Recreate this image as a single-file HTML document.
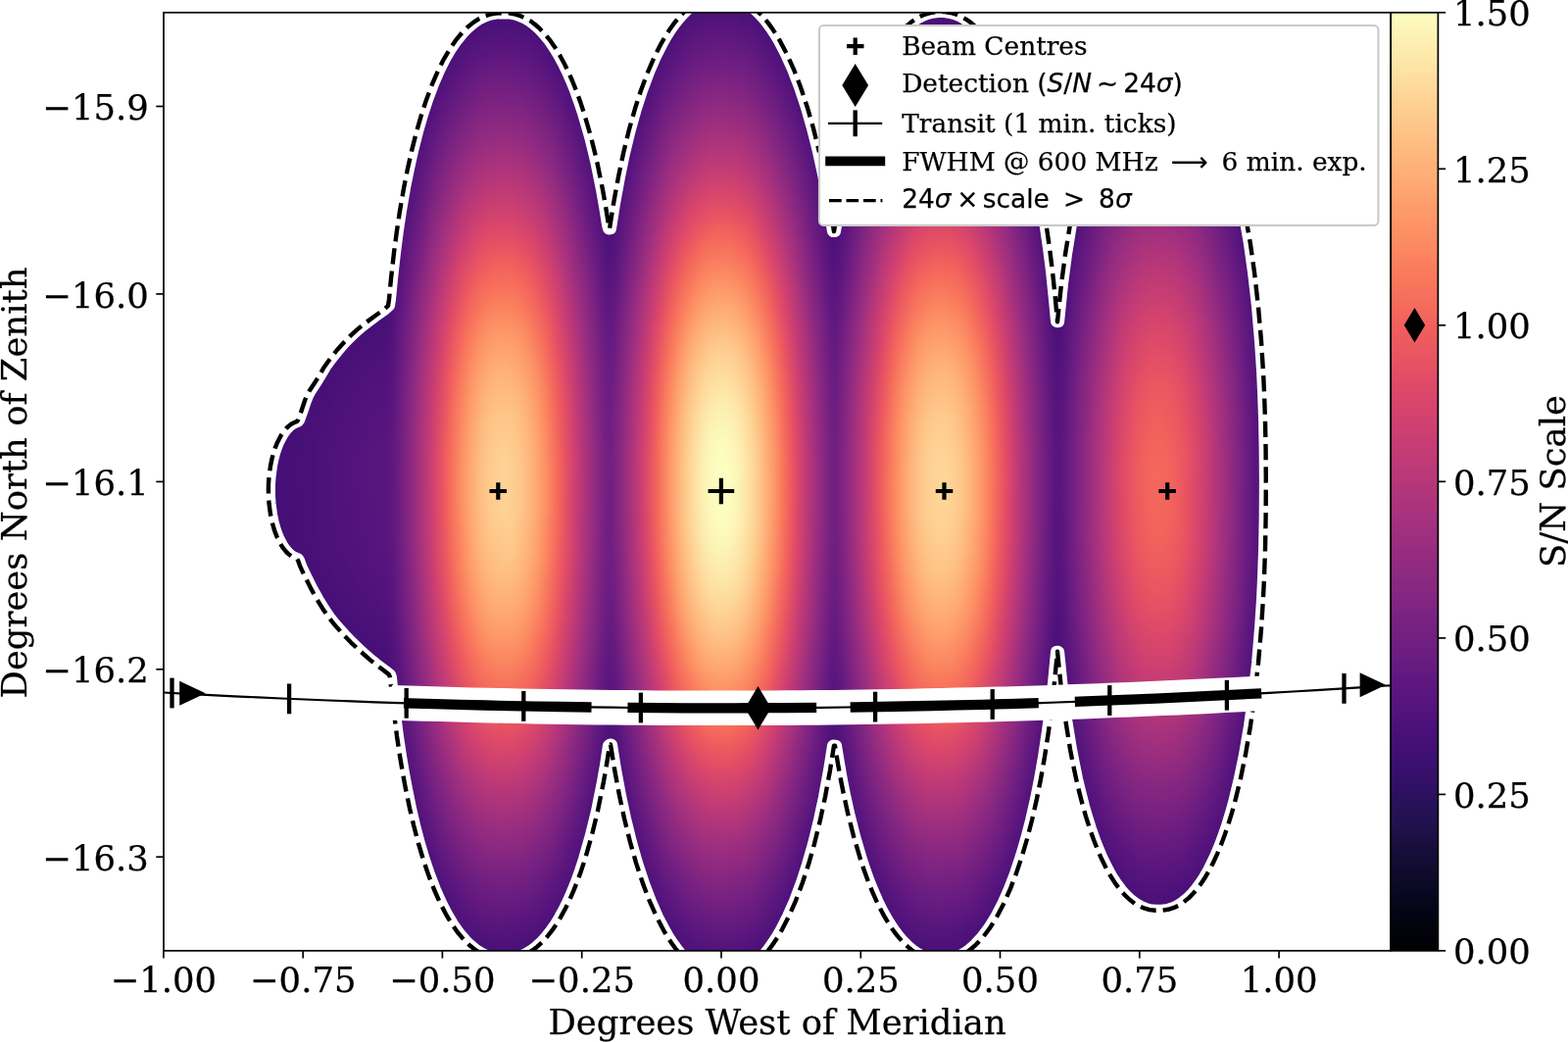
<!DOCTYPE html>
<html lang="en"><head><meta charset="utf-8"><title>Beam sensitivity map</title>
<style>html,body{margin:0;padding:0;background:#fff;overflow:hidden}svg{display:block}text{font-family:"DejaVu Serif","Liberation Serif",serif;fill:#000;stroke:#000;stroke-width:.25px}.sans{font-family:"DejaVu Sans","Liberation Sans",sans-serif}.it{font-family:"DejaVu Sans","Liberation Sans",sans-serif;font-style:italic}</style></head><body>
<svg width="1600" height="1063" viewBox="0 0 1600 1063">
<defs>
<filter id="sm" filterUnits="userSpaceOnUse" x="167.0" y="10.8" width="1252.2" height="961.1" color-interpolation-filters="sRGB"><feGaussianBlur stdDeviation="3.0 0"/></filter>
<linearGradient id="s4" gradientUnits="userSpaceOnUse" x1="0" y1="427" x2="0" y2="573"><stop offset="0" stop-color="#440f76"/><stop offset=".384" stop-color="#471078"/><stop offset="1" stop-color="#440f76"/></linearGradient>
<linearGradient id="s5" gradientUnits="userSpaceOnUse" x1="0" y1="421" x2="0" y2="579"><stop offset="0" stop-color="#440f76"/><stop offset=".291" stop-color="#471078"/><stop offset="1" stop-color="#440f76"/></linearGradient>
<linearGradient id="s6" gradientUnits="userSpaceOnUse" x1="0" y1="417" x2="0" y2="583"><stop offset="0" stop-color="#440f76"/><stop offset=".259" stop-color="#471078"/><stop offset="1" stop-color="#440f76"/></linearGradient>
<linearGradient id="s7" gradientUnits="userSpaceOnUse" x1="0" y1="407" x2="0" y2="593"><stop offset="0" stop-color="#440f76"/><stop offset=".414" stop-color="#491078"/><stop offset="1" stop-color="#440f76"/></linearGradient>
<linearGradient id="s8" gradientUnits="userSpaceOnUse" x1="0" y1="390" x2="0" y2="606"><stop offset="0" stop-color="#420f75"/><stop offset=".153" stop-color="#471078"/><stop offset=".468" stop-color="#4a1079"/><stop offset=".745" stop-color="#491078"/><stop offset="1" stop-color="#420f75"/></linearGradient>
<linearGradient id="s9" gradientUnits="userSpaceOnUse" x1="0" y1="380" x2="0" y2="617"><stop offset="0" stop-color="#420f75"/><stop offset=".304" stop-color="#4a1079"/><stop offset=".696" stop-color="#4a1079"/><stop offset="1" stop-color="#420f75"/></linearGradient>
<linearGradient id="s10" gradientUnits="userSpaceOnUse" x1="0" y1="371" x2="0" y2="628"><stop offset="0" stop-color="#420f75"/><stop offset=".342" stop-color="#4c117a"/><stop offset=".654" stop-color="#4c117a"/><stop offset="1" stop-color="#420f75"/></linearGradient>
<linearGradient id="s11" gradientUnits="userSpaceOnUse" x1="0" y1="361" x2="0" y2="637"><stop offset="0" stop-color="#420f75"/><stop offset=".37" stop-color="#4e117b"/><stop offset=".728" stop-color="#4c117a"/><stop offset="1" stop-color="#420f75"/></linearGradient>
<linearGradient id="s12" gradientUnits="userSpaceOnUse" x1="0" y1="352" x2="0" y2="645"><stop offset="0" stop-color="#420f75"/><stop offset=".181" stop-color="#4a1079"/><stop offset=".406" stop-color="#4f127b"/><stop offset=".7" stop-color="#4e117b"/><stop offset="1" stop-color="#420f75"/></linearGradient>
<linearGradient id="s13" gradientUnits="userSpaceOnUse" x1="0" y1="345" x2="0" y2="653"><stop offset="0" stop-color="#420f75"/><stop offset=".208" stop-color="#4c117a"/><stop offset=".451" stop-color="#51127c"/><stop offset=".737" stop-color="#4e117b"/><stop offset="1" stop-color="#420f75"/></linearGradient>
<linearGradient id="s14" gradientUnits="userSpaceOnUse" x1="0" y1="338" x2="0" y2="659"><stop offset="0" stop-color="#420f75"/><stop offset=".187" stop-color="#4c117a"/><stop offset=".355" stop-color="#51127c"/><stop offset=".645" stop-color="#51127c"/><stop offset=".854" stop-color="#4a1079"/><stop offset="1" stop-color="#420f75"/></linearGradient>
<linearGradient id="s15" gradientUnits="userSpaceOnUse" x1="0" y1="332" x2="0" y2="666"><stop offset="0" stop-color="#420f75"/><stop offset=".171" stop-color="#4c117a"/><stop offset=".383" stop-color="#52137c"/><stop offset=".689" stop-color="#51127c"/><stop offset="1" stop-color="#420f75"/></linearGradient>
<linearGradient id="s16" gradientUnits="userSpaceOnUse" x1="0" y1="326" x2="0" y2="672"><stop offset="0" stop-color="#420f75"/><stop offset=".197" stop-color="#4e117b"/><stop offset=".419" stop-color="#54137d"/><stop offset=".72" stop-color="#51127c"/><stop offset="1" stop-color="#420f75"/></linearGradient>
<linearGradient id="s17" gradientUnits="userSpaceOnUse" x1="0" y1="321" x2="0" y2="677"><stop offset="0" stop-color="#420f75"/><stop offset=".216" stop-color="#4f127b"/><stop offset=".475" stop-color="#56147d"/><stop offset=".744" stop-color="#51127c"/><stop offset="1" stop-color="#420f75"/></linearGradient>
<linearGradient id="s18" gradientUnits="userSpaceOnUse" x1="0" y1="316" x2="0" y2="683"><stop offset="0" stop-color="#420f75"/><stop offset=".202" stop-color="#4f127b"/><stop offset=".387" stop-color="#56147d"/><stop offset=".676" stop-color="#54137d"/><stop offset=".828" stop-color="#4e117b"/><stop offset="1" stop-color="#420f75"/></linearGradient>
<linearGradient id="s19" gradientUnits="userSpaceOnUse" x1="0" y1="311" x2="0" y2="688"><stop offset="0" stop-color="#420f75"/><stop offset=".223" stop-color="#51127c"/><stop offset=".419" stop-color="#57157e"/><stop offset=".703" stop-color="#54137d"/><stop offset="1" stop-color="#420f75"/></linearGradient>
<linearGradient id="s20" gradientUnits="userSpaceOnUse" x1="0" y1="307" x2="0" y2="692"><stop offset="0" stop-color="#420f75"/><stop offset=".242" stop-color="#52137c"/><stop offset=".47" stop-color="#59157e"/><stop offset=".725" stop-color="#54137d"/><stop offset="1" stop-color="#420f75"/></linearGradient>
<linearGradient id="s21" gradientUnits="userSpaceOnUse" x1="0" y1="303" x2="0" y2="697"><stop offset="0" stop-color="#420f75"/><stop offset=".198" stop-color="#51127c"/><stop offset=".396" stop-color="#59157e"/><stop offset=".662" stop-color="#57157e"/><stop offset=".827" stop-color="#4f127b"/><stop offset="1" stop-color="#420f75"/></linearGradient>
<linearGradient id="s22" gradientUnits="userSpaceOnUse" x1="0" y1="292" x2="0" y2="702"><stop offset="0" stop-color="#420f75"/><stop offset=".251" stop-color="#54137d"/><stop offset=".422" stop-color="#5a167e"/><stop offset=".59" stop-color="#5a167e"/><stop offset=".695" stop-color="#57157e"/><stop offset=".839" stop-color="#4f127b"/><stop offset="1" stop-color="#420f75"/></linearGradient>
<linearGradient id="s23" gradientUnits="userSpaceOnUse" x1="0" y1="236" x2="0" y2="750"><stop offset="0" stop-color="#400f74"/><stop offset=".181" stop-color="#56147d"/><stop offset=".411" stop-color="#621980"/><stop offset=".586" stop-color="#621980"/><stop offset=".735" stop-color="#5c167f"/><stop offset=".885" stop-color="#4f127b"/><stop offset="1" stop-color="#400f74"/></linearGradient>
<linearGradient id="s24" gradientUnits="userSpaceOnUse" x1="0" y1="196" x2="0" y2="791"><stop offset="0" stop-color="#400f74"/><stop offset=".092" stop-color="#51127c"/><stop offset=".234" stop-color="#641a80"/><stop offset=".366" stop-color="#6e1e81"/><stop offset=".482" stop-color="#721f81"/><stop offset=".63" stop-color="#6e1e81"/><stop offset=".734" stop-color="#671b80"/><stop offset=".896" stop-color="#52137c"/><stop offset="1" stop-color="#400f74"/></linearGradient>
<linearGradient id="s25" gradientUnits="userSpaceOnUse" x1="0" y1="163" x2="0" y2="824"><stop offset="0" stop-color="#400f74"/><stop offset=".115" stop-color="#59157e"/><stop offset=".262" stop-color="#721f81"/><stop offset=".363" stop-color="#7c2382"/><stop offset=".475" stop-color="#812581"/><stop offset=".581" stop-color="#802582"/><stop offset=".7" stop-color="#762181"/><stop offset=".885" stop-color="#59157e"/><stop offset="1" stop-color="#400f74"/></linearGradient>
<linearGradient id="s26" gradientUnits="userSpaceOnUse" x1="0" y1="136" x2="0" y2="851"><stop offset="0" stop-color="#3f0f72"/><stop offset=".077" stop-color="#54137d"/><stop offset=".25" stop-color="#7b2382"/><stop offset=".357" stop-color="#8b2981"/><stop offset=".443" stop-color="#912b81"/><stop offset=".587" stop-color="#902a81"/><stop offset=".692" stop-color="#842681"/><stop offset=".789" stop-color="#732081"/><stop offset=".898" stop-color="#5a167e"/><stop offset=".961" stop-color="#4a1079"/><stop offset="1" stop-color="#3f0f72"/></linearGradient>
<linearGradient id="s27" gradientUnits="userSpaceOnUse" x1="0" y1="114" x2="0" y2="874"><stop offset="0" stop-color="#3f0f72"/><stop offset=".041" stop-color="#4c117a"/><stop offset=".1" stop-color="#5d177f"/><stop offset=".263" stop-color="#892881"/><stop offset=".359" stop-color="#9b2e7f"/><stop offset=".451" stop-color="#a3307e"/><stop offset=".576" stop-color="#a1307e"/><stop offset=".68" stop-color="#942c80"/><stop offset=".782" stop-color="#7e2482"/><stop offset=".884" stop-color="#621980"/><stop offset=".954" stop-color="#4e117b"/><stop offset="1" stop-color="#3f0f72"/></linearGradient>
<linearGradient id="s28" gradientUnits="userSpaceOnUse" x1="0" y1="94" x2="0" y2="894"><stop offset="0" stop-color="#3f0f72"/><stop offset=".037" stop-color="#4c117a"/><stop offset=".099" stop-color="#601880"/><stop offset=".279" stop-color="#992d80"/><stop offset=".351" stop-color="#aa337d"/><stop offset=".449" stop-color="#b5367a"/><stop offset=".574" stop-color="#b3367a"/><stop offset=".672" stop-color="#a5317e"/><stop offset=".755" stop-color="#902a81"/><stop offset=".882" stop-color="#671b80"/><stop offset=".953" stop-color="#4f127b"/><stop offset="1" stop-color="#3f0f72"/></linearGradient>
<linearGradient id="s29" gradientUnits="userSpaceOnUse" x1="0" y1="77" x2="0" y2="911"><stop offset="0" stop-color="#3f0f72"/><stop offset=".048" stop-color="#51127c"/><stop offset=".119" stop-color="#6b1d81"/><stop offset=".205" stop-color="#8b2981"/><stop offset=".296" stop-color="#ab337c"/><stop offset=".398" stop-color="#c23b75"/><stop offset=".477" stop-color="#c83e73"/><stop offset=".574" stop-color="#c53c74"/><stop offset=".621" stop-color="#bf3a77"/><stop offset=".674" stop-color="#b3367a"/><stop offset=".759" stop-color="#992d80"/><stop offset=".869" stop-color="#701f81"/><stop offset=".944" stop-color="#54137d"/><stop offset="1" stop-color="#3f0f72"/></linearGradient>
<linearGradient id="s30" gradientUnits="userSpaceOnUse" x1="0" y1="63" x2="0" y2="926"><stop offset="0" stop-color="#3f0f72"/><stop offset=".06" stop-color="#57157e"/><stop offset=".131" stop-color="#752181"/><stop offset=".222" stop-color="#9b2e7f"/><stop offset=".309" stop-color="#bd3977"/><stop offset=".384" stop-color="#d0416f"/><stop offset=".462" stop-color="#d9466b"/><stop offset=".535" stop-color="#d9466b"/><stop offset=".574" stop-color="#d6456c"/><stop offset=".615" stop-color="#d0416f"/><stop offset=".669" stop-color="#c43c75"/><stop offset=".736" stop-color="#ad347c"/><stop offset=".773" stop-color="#9c2e7f"/><stop offset=".861" stop-color="#782281"/><stop offset=".943" stop-color="#56147d"/><stop offset="1" stop-color="#3f0f72"/></linearGradient>
<linearGradient id="s31" gradientUnits="userSpaceOnUse" x1="0" y1="50" x2="0" y2="939"><stop offset="0" stop-color="#3d0f71"/><stop offset=".043" stop-color="#51127c"/><stop offset=".133" stop-color="#792282"/><stop offset=".217" stop-color="#a1307e"/><stop offset=".256" stop-color="#b5367a"/><stop offset=".304" stop-color="#c83e73"/><stop offset=".369" stop-color="#dc4869"/><stop offset=".458" stop-color="#e85362"/><stop offset=".573" stop-color="#e55064"/><stop offset=".61" stop-color="#e04c67"/><stop offset=".668" stop-color="#d2426f"/><stop offset=".75" stop-color="#b2357b"/><stop offset=".855" stop-color="#7e2482"/><stop offset=".943" stop-color="#57157e"/><stop offset=".98" stop-color="#471078"/><stop offset="1" stop-color="#3d0f71"/></linearGradient>
<linearGradient id="s32" gradientUnits="userSpaceOnUse" x1="0" y1="40" x2="0" y2="950"><stop offset="0" stop-color="#3f0f72"/><stop offset=".033" stop-color="#4e117b"/><stop offset=".06" stop-color="#5a167e"/><stop offset=".151" stop-color="#862781"/><stop offset=".22" stop-color="#ab337c"/><stop offset=".271" stop-color="#c73d73"/><stop offset=".315" stop-color="#d9466b"/><stop offset=".36" stop-color="#e75263"/><stop offset=".403" stop-color="#ee5b5e"/><stop offset=".46" stop-color="#f2645c"/><stop offset=".537" stop-color="#f2645c"/><stop offset=".627" stop-color="#e95462"/><stop offset=".695" stop-color="#d5446d"/><stop offset=".754" stop-color="#ba3878"/><stop offset=".779" stop-color="#ab337c"/><stop offset=".855" stop-color="#832681"/><stop offset=".942" stop-color="#59157e"/><stop offset=".977" stop-color="#491078"/><stop offset="1" stop-color="#3d0f71"/></linearGradient>
<linearGradient id="s33" gradientUnits="userSpaceOnUse" x1="0" y1="30" x2="0" y2="959"><stop offset="0" stop-color="#3d0f71"/><stop offset=".026" stop-color="#4a1079"/><stop offset=".059" stop-color="#5a167e"/><stop offset=".152" stop-color="#8b2981"/><stop offset=".224" stop-color="#b5367a"/><stop offset=".268" stop-color="#cf4070"/><stop offset=".307" stop-color="#e04c67"/><stop offset=".371" stop-color="#f2625d"/><stop offset=".421" stop-color="#f7705c"/><stop offset=".475" stop-color="#f8765c"/><stop offset=".476" stop-color="#f9785d"/><stop offset=".523" stop-color="#f9785d"/><stop offset=".524" stop-color="#f8765c"/><stop offset=".569" stop-color="#f7725c"/><stop offset=".629" stop-color="#f2625d"/><stop offset=".682" stop-color="#e44f64"/><stop offset=".75" stop-color="#c53c74"/><stop offset=".799" stop-color="#a8327d"/><stop offset=".846" stop-color="#8c2981"/><stop offset=".942" stop-color="#5a167e"/><stop offset=".982" stop-color="#471078"/><stop offset="1" stop-color="#3d0f71"/></linearGradient>
<linearGradient id="s34" gradientUnits="userSpaceOnUse" x1="0" y1="23" x2="0" y2="967"><stop offset="0" stop-color="#3d0f71"/><stop offset=".024" stop-color="#4a1079"/><stop offset=".056" stop-color="#5a167e"/><stop offset=".147" stop-color="#8c2981"/><stop offset=".212" stop-color="#b5367a"/><stop offset=".249" stop-color="#cd4071"/><stop offset=".294" stop-color="#e44f64"/><stop offset=".349" stop-color="#f4675c"/><stop offset=".405" stop-color="#fa7d5e"/><stop offset=".445" stop-color="#fb8761"/><stop offset=".482" stop-color="#fc8a62"/><stop offset=".54" stop-color="#fc8961"/><stop offset=".541" stop-color="#fb8761"/><stop offset=".588" stop-color="#fa7f5e"/><stop offset=".647" stop-color="#f4695c"/><stop offset=".695" stop-color="#e85362"/><stop offset=".748" stop-color="#cf4070"/><stop offset=".796" stop-color="#b0357b"/><stop offset=".853" stop-color="#8c2981"/><stop offset=".944" stop-color="#5a167e"/><stop offset=".982" stop-color="#471078"/><stop offset="1" stop-color="#3d0f71"/></linearGradient>
<linearGradient id="s35" gradientUnits="userSpaceOnUse" x1="0" y1="16" x2="0" y2="971"><stop offset="0" stop-color="#3d0f71"/><stop offset=".025" stop-color="#4a1079"/><stop offset=".055" stop-color="#5a167e"/><stop offset=".086" stop-color="#6a1c81"/><stop offset=".148" stop-color="#902a81"/><stop offset=".199" stop-color="#b2357b"/><stop offset=".246" stop-color="#d0416f"/><stop offset=".288" stop-color="#e85362"/><stop offset=".336" stop-color="#f66c5c"/><stop offset=".39" stop-color="#fb8761"/><stop offset=".439" stop-color="#fd9668"/><stop offset=".482" stop-color="#fd9b6b"/><stop offset=".541" stop-color="#fd9a6a"/><stop offset=".542" stop-color="#fd9869"/><stop offset=".586" stop-color="#fc9065"/><stop offset=".618" stop-color="#fb8560"/><stop offset=".654" stop-color="#f7725c"/><stop offset=".704" stop-color="#ec5860"/><stop offset=".736" stop-color="#de4968"/><stop offset=".757" stop-color="#d0416f"/><stop offset=".772" stop-color="#c83e73"/><stop offset=".806" stop-color="#b0357b"/><stop offset=".85" stop-color="#932b80"/><stop offset=".942" stop-color="#5d177f"/><stop offset=".975" stop-color="#4c117a"/><stop offset="1" stop-color="#3f0f72"/></linearGradient>
<linearGradient id="s36" gradientUnits="userSpaceOnUse" x1="0" y1="11" x2="0" y2="971"><stop offset="0" stop-color="#3d0f71"/><stop offset=".021" stop-color="#491078"/><stop offset=".051" stop-color="#59157e"/><stop offset=".081" stop-color="#681c81"/><stop offset=".142" stop-color="#8e2a81"/><stop offset=".184" stop-color="#ab337c"/><stop offset=".233" stop-color="#cd4071"/><stop offset=".265" stop-color="#e04c67"/><stop offset=".282" stop-color="#ea5661"/><stop offset=".325" stop-color="#f66e5c"/><stop offset=".344" stop-color="#f97b5d"/><stop offset=".375" stop-color="#fc8c63"/><stop offset=".41" stop-color="#fd9b6b"/><stop offset=".443" stop-color="#fea571"/><stop offset=".463" stop-color="#fea772"/><stop offset=".464" stop-color="#fea973"/><stop offset=".525" stop-color="#feaa74"/><stop offset=".556" stop-color="#fea772"/><stop offset=".586" stop-color="#fe9f6d"/><stop offset=".633" stop-color="#fc8c63"/><stop offset=".658" stop-color="#fa7d5e"/><stop offset=".674" stop-color="#f8765c"/><stop offset=".686" stop-color="#f66c5c"/><stop offset=".716" stop-color="#ee5b5e"/><stop offset=".744" stop-color="#e24d66"/><stop offset=".766" stop-color="#d3436e"/><stop offset=".775" stop-color="#cf4070"/><stop offset=".81" stop-color="#b5367a"/><stop offset=".857" stop-color="#942c80"/><stop offset=".941" stop-color="#621980"/><stop offset="1" stop-color="#420f75"/></linearGradient>
<linearGradient id="s37" gradientUnits="userSpaceOnUse" x1="0" y1="11" x2="0" y2="971"><stop offset="0" stop-color="#3f0f72"/><stop offset=".02" stop-color="#4a1079"/><stop offset=".049" stop-color="#5a167e"/><stop offset=".092" stop-color="#721f81"/><stop offset=".135" stop-color="#8e2a81"/><stop offset=".177" stop-color="#ab337c"/><stop offset=".218" stop-color="#c83e73"/><stop offset=".241" stop-color="#d9466b"/><stop offset=".276" stop-color="#ec5860"/><stop offset=".301" stop-color="#f4695c"/><stop offset=".33" stop-color="#f97b5d"/><stop offset=".333" stop-color="#fa7f5e"/><stop offset=".365" stop-color="#fd9266"/><stop offset=".386" stop-color="#fe9d6c"/><stop offset=".438" stop-color="#feb078"/><stop offset=".483" stop-color="#feb77e"/><stop offset=".525" stop-color="#feb77e"/><stop offset=".571" stop-color="#feb078"/><stop offset=".609" stop-color="#fea36f"/><stop offset=".641" stop-color="#fd9467"/><stop offset=".678" stop-color="#fa7d5e"/><stop offset=".681" stop-color="#f9795d"/><stop offset=".716" stop-color="#f2645c"/><stop offset=".735" stop-color="#ea5661"/><stop offset=".754" stop-color="#e24d66"/><stop offset=".773" stop-color="#d5446d"/><stop offset=".811" stop-color="#ba3878"/><stop offset=".859" stop-color="#982d80"/><stop offset=".907" stop-color="#782281"/><stop offset=".941" stop-color="#651a80"/><stop offset="1" stop-color="#440f76"/></linearGradient>
<linearGradient id="s38" gradientUnits="userSpaceOnUse" x1="0" y1="11" x2="0" y2="971"><stop offset="0" stop-color="#400f74"/><stop offset=".051" stop-color="#5d177f"/><stop offset=".135" stop-color="#912b81"/><stop offset=".174" stop-color="#ad347c"/><stop offset=".214" stop-color="#ca3e72"/><stop offset=".245" stop-color="#e04c67"/><stop offset=".268" stop-color="#ec5860"/><stop offset=".294" stop-color="#f56b5c"/><stop offset=".327" stop-color="#fa815f"/><stop offset=".362" stop-color="#fd9a6a"/><stop offset=".412" stop-color="#feb27a"/><stop offset=".449" stop-color="#febd82"/><stop offset=".493" stop-color="#fec287"/><stop offset=".516" stop-color="#fec287"/><stop offset=".559" stop-color="#febd82"/><stop offset=".601" stop-color="#feb078"/><stop offset=".636" stop-color="#fe9f6d"/><stop offset=".668" stop-color="#fc8c63"/><stop offset=".688" stop-color="#fa7d5e"/><stop offset=".725" stop-color="#f2645c"/><stop offset=".732" stop-color="#ef5d5e"/><stop offset=".755" stop-color="#e55064"/><stop offset=".782" stop-color="#d3436e"/><stop offset=".822" stop-color="#b73779"/><stop offset=".865" stop-color="#982d80"/><stop offset=".917" stop-color="#752181"/><stop offset=".942" stop-color="#671b80"/><stop offset="1" stop-color="#451077"/></linearGradient>
<linearGradient id="s39" gradientUnits="userSpaceOnUse" x1="0" y1="11" x2="0" y2="971"><stop offset="0" stop-color="#420f75"/><stop offset=".054" stop-color="#601880"/><stop offset=".132" stop-color="#912b81"/><stop offset=".183" stop-color="#b73779"/><stop offset=".211" stop-color="#cc3f71"/><stop offset=".237" stop-color="#de4968"/><stop offset=".253" stop-color="#e85362"/><stop offset=".283" stop-color="#f4675c"/><stop offset=".311" stop-color="#f97b5d"/><stop offset=".344" stop-color="#fd9467"/><stop offset=".397" stop-color="#feb27a"/><stop offset=".434" stop-color="#fec185"/><stop offset=".482" stop-color="#feca8d"/><stop offset=".527" stop-color="#feca8d"/><stop offset=".56" stop-color="#fec488"/><stop offset=".596" stop-color="#feb97f"/><stop offset=".631" stop-color="#fea973"/><stop offset=".666" stop-color="#fd9467"/><stop offset=".688" stop-color="#fb835f"/><stop offset=".731" stop-color="#f2645c"/><stop offset=".741" stop-color="#ee5b5e"/><stop offset=".756" stop-color="#e85362"/><stop offset=".774" stop-color="#dc4869"/><stop offset=".8" stop-color="#cc3f71"/><stop offset=".824" stop-color="#b83779"/><stop offset=".864" stop-color="#9b2e7f"/><stop offset=".934" stop-color="#6d1d81"/><stop offset="1" stop-color="#471078"/></linearGradient>
<linearGradient id="s40" gradientUnits="userSpaceOnUse" x1="0" y1="11" x2="0" y2="971"><stop offset="0" stop-color="#440f76"/><stop offset=".006" stop-color="#451077"/><stop offset=".06" stop-color="#651a80"/><stop offset=".142" stop-color="#992d80"/><stop offset=".19" stop-color="#bd3977"/><stop offset=".228" stop-color="#d9466b"/><stop offset=".252" stop-color="#e85362"/><stop offset=".268" stop-color="#f05f5e"/><stop offset=".29" stop-color="#f66e5c"/><stop offset=".315" stop-color="#fa815f"/><stop offset=".347" stop-color="#fd9a6a"/><stop offset=".384" stop-color="#feb078"/><stop offset=".431" stop-color="#fec488"/><stop offset=".484" stop-color="#fecf92"/><stop offset=".541" stop-color="#fecd90"/><stop offset=".598" stop-color="#febd82"/><stop offset=".654" stop-color="#fe9f6d"/><stop offset=".695" stop-color="#fa815f"/><stop offset=".717" stop-color="#f7705c"/><stop offset=".74" stop-color="#f1605d"/><stop offset=".767" stop-color="#e34e65"/><stop offset=".791" stop-color="#d3436e"/><stop offset=".831" stop-color="#b5367a"/><stop offset=".864" stop-color="#9c2e7f"/><stop offset=".939" stop-color="#6b1d81"/><stop offset="1" stop-color="#491078"/></linearGradient>
<linearGradient id="s41" gradientUnits="userSpaceOnUse" x1="0" y1="11" x2="0" y2="971"><stop offset="0" stop-color="#440f76"/><stop offset=".032" stop-color="#54137d"/><stop offset=".062" stop-color="#671b80"/><stop offset=".097" stop-color="#7b2382"/><stop offset=".139" stop-color="#982d80"/><stop offset=".186" stop-color="#bc3978"/><stop offset=".216" stop-color="#d2426f"/><stop offset=".242" stop-color="#e34e65"/><stop offset=".269" stop-color="#f1605d"/><stop offset=".296" stop-color="#f8745c"/><stop offset=".318" stop-color="#fb8560"/><stop offset=".35" stop-color="#fe9d6c"/><stop offset=".384" stop-color="#feb27a"/><stop offset=".436" stop-color="#fec88c"/><stop offset=".478" stop-color="#fed194"/><stop offset=".532" stop-color="#fed194"/><stop offset=".594" stop-color="#fec185"/><stop offset=".651" stop-color="#fea36f"/><stop offset=".684" stop-color="#fc8a62"/><stop offset=".692" stop-color="#fb8761"/><stop offset=".711" stop-color="#f8765c"/><stop offset=".734" stop-color="#f3655c"/><stop offset=".764" stop-color="#e55064"/><stop offset=".79" stop-color="#d5446d"/><stop offset=".832" stop-color="#b5367a"/><stop offset=".867" stop-color="#9b2e7f"/><stop offset=".94" stop-color="#6b1d81"/><stop offset="1" stop-color="#491078"/></linearGradient>
<linearGradient id="s42" gradientUnits="userSpaceOnUse" x1="0" y1="11" x2="0" y2="971"><stop offset="0" stop-color="#440f76"/><stop offset=".032" stop-color="#54137d"/><stop offset=".062" stop-color="#671b80"/><stop offset=".087" stop-color="#752181"/><stop offset=".136" stop-color="#962c80"/><stop offset=".182" stop-color="#b83779"/><stop offset=".225" stop-color="#d8456c"/><stop offset=".247" stop-color="#e75263"/><stop offset=".269" stop-color="#f1605d"/><stop offset=".31" stop-color="#fa7f5e"/><stop offset=".342" stop-color="#fd9869"/><stop offset=".381" stop-color="#feb078"/><stop offset=".431" stop-color="#fec68a"/><stop offset=".478" stop-color="#fed194"/><stop offset=".531" stop-color="#fed194"/><stop offset=".56" stop-color="#fecc8f"/><stop offset=".594" stop-color="#fec185"/><stop offset=".651" stop-color="#fea36f"/><stop offset=".684" stop-color="#fc8a62"/><stop offset=".692" stop-color="#fb8761"/><stop offset=".711" stop-color="#f8765c"/><stop offset=".734" stop-color="#f3655c"/><stop offset=".746" stop-color="#ee5b5e"/><stop offset=".77" stop-color="#e34e65"/><stop offset=".787" stop-color="#d6456c"/><stop offset=".828" stop-color="#b83779"/><stop offset=".865" stop-color="#9c2e7f"/><stop offset=".94" stop-color="#6b1d81"/><stop offset="1" stop-color="#491078"/></linearGradient>
<linearGradient id="s43" gradientUnits="userSpaceOnUse" x1="0" y1="11" x2="0" y2="971"><stop offset="0" stop-color="#420f75"/><stop offset=".022" stop-color="#4f127b"/><stop offset=".058" stop-color="#641a80"/><stop offset=".076" stop-color="#6d1d81"/><stop offset=".138" stop-color="#962c80"/><stop offset=".177" stop-color="#b3367a"/><stop offset=".209" stop-color="#cd4071"/><stop offset=".22" stop-color="#d3436e"/><stop offset=".246" stop-color="#e44f64"/><stop offset=".273" stop-color="#f2625d"/><stop offset=".293" stop-color="#f7705c"/><stop offset=".318" stop-color="#fb835f"/><stop offset=".342" stop-color="#fd9668"/><stop offset=".389" stop-color="#feb27a"/><stop offset=".439" stop-color="#fec68a"/><stop offset=".487" stop-color="#fecf92"/><stop offset=".54" stop-color="#fecd90"/><stop offset=".566" stop-color="#fec88c"/><stop offset=".602" stop-color="#febb81"/><stop offset=".654" stop-color="#fe9f6d"/><stop offset=".688" stop-color="#fb8761"/><stop offset=".715" stop-color="#f7725c"/><stop offset=".738" stop-color="#f2625d"/><stop offset=".765" stop-color="#e44f64"/><stop offset=".789" stop-color="#d5446d"/><stop offset=".827" stop-color="#b83779"/><stop offset=".861" stop-color="#9e2f7f"/><stop offset=".907" stop-color="#7e2482"/><stop offset=".936" stop-color="#6d1d81"/><stop offset=".966" stop-color="#5a167e"/><stop offset="1" stop-color="#491078"/></linearGradient>
<linearGradient id="s44" gradientUnits="userSpaceOnUse" x1="0" y1="11" x2="0" y2="971"><stop offset="0" stop-color="#420f75"/><stop offset=".032" stop-color="#54137d"/><stop offset=".062" stop-color="#651a80"/><stop offset=".138" stop-color="#942c80"/><stop offset=".175" stop-color="#b0357b"/><stop offset=".221" stop-color="#d2426f"/><stop offset=".243" stop-color="#e04c67"/><stop offset=".258" stop-color="#ea5661"/><stop offset=".281" stop-color="#f3655c"/><stop offset=".312" stop-color="#f97b5d"/><stop offset=".345" stop-color="#fd9467"/><stop offset=".398" stop-color="#feb27a"/><stop offset=".436" stop-color="#fec185"/><stop offset=".471" stop-color="#fec88c"/><stop offset=".522" stop-color="#feca8d"/><stop offset=".559" stop-color="#fec488"/><stop offset=".591" stop-color="#febb81"/><stop offset=".631" stop-color="#fea973"/><stop offset=".674" stop-color="#fc8e64"/><stop offset=".693" stop-color="#fa7f5e"/><stop offset=".729" stop-color="#f3655c"/><stop offset=".752" stop-color="#e95462"/><stop offset=".785" stop-color="#d5446d"/><stop offset=".82" stop-color="#bc3978"/><stop offset=".859" stop-color="#9e2f7f"/><stop offset=".932" stop-color="#6e1e81"/><stop offset="1" stop-color="#471078"/></linearGradient>
<linearGradient id="s45" gradientUnits="userSpaceOnUse" x1="0" y1="11" x2="0" y2="971"><stop offset="0" stop-color="#400f74"/><stop offset=".057" stop-color="#601880"/><stop offset=".136" stop-color="#912b81"/><stop offset=".175" stop-color="#ad347c"/><stop offset=".215" stop-color="#ca3e72"/><stop offset=".246" stop-color="#df4a68"/><stop offset=".267" stop-color="#eb5760"/><stop offset=".293" stop-color="#f4695c"/><stop offset=".323" stop-color="#fa7d5e"/><stop offset=".334" stop-color="#fb8761"/><stop offset=".368" stop-color="#fd9b6b"/><stop offset=".416" stop-color="#feb27a"/><stop offset=".453" stop-color="#febd82"/><stop offset=".476" stop-color="#febf84"/><stop offset=".477" stop-color="#fec185"/><stop offset=".534" stop-color="#fec185"/><stop offset=".535" stop-color="#febf84"/><stop offset=".566" stop-color="#febb81"/><stop offset=".605" stop-color="#feae77"/><stop offset=".64" stop-color="#fe9d6c"/><stop offset=".679" stop-color="#fb8560"/><stop offset=".688" stop-color="#fa7d5e"/><stop offset=".725" stop-color="#f2645c"/><stop offset=".74" stop-color="#ec5860"/><stop offset=".753" stop-color="#e75263"/><stop offset=".778" stop-color="#d6456c"/><stop offset=".798" stop-color="#ca3e72"/><stop offset=".814" stop-color="#bd3977"/><stop offset=".863" stop-color="#992d80"/><stop offset=".94" stop-color="#681c81"/><stop offset=".973" stop-color="#54137d"/><stop offset="1" stop-color="#451077"/></linearGradient>
<linearGradient id="s46" gradientUnits="userSpaceOnUse" x1="0" y1="11" x2="0" y2="971"><stop offset="0" stop-color="#3f0f72"/><stop offset=".021" stop-color="#4a1079"/><stop offset=".053" stop-color="#5c167f"/><stop offset=".098" stop-color="#752181"/><stop offset=".142" stop-color="#912b81"/><stop offset=".188" stop-color="#b2357b"/><stop offset=".226" stop-color="#cd4071"/><stop offset=".258" stop-color="#e24d66"/><stop offset=".273" stop-color="#ea5661"/><stop offset=".3" stop-color="#f4675c"/><stop offset=".332" stop-color="#f97b5d"/><stop offset=".364" stop-color="#fc9065"/><stop offset=".385" stop-color="#fd9b6b"/><stop offset=".442" stop-color="#feb078"/><stop offset=".472" stop-color="#feb47b"/><stop offset=".473" stop-color="#feb67c"/><stop offset=".539" stop-color="#feb67c"/><stop offset=".54" stop-color="#feb47b"/><stop offset=".576" stop-color="#feae77"/><stop offset=".614" stop-color="#fea16e"/><stop offset=".641" stop-color="#fd9467"/><stop offset=".684" stop-color="#f9785d"/><stop offset=".721" stop-color="#f1605d"/><stop offset=".75" stop-color="#e44f64"/><stop offset=".769" stop-color="#d8456c"/><stop offset=".819" stop-color="#b5367a"/><stop offset=".855" stop-color="#9b2e7f"/><stop offset=".91" stop-color="#762181"/><stop offset=".939" stop-color="#671b80"/><stop offset=".975" stop-color="#52137c"/><stop offset="1" stop-color="#440f76"/></linearGradient>
<linearGradient id="s47" gradientUnits="userSpaceOnUse" x1="0" y1="12" x2="0" y2="971"><stop offset="0" stop-color="#3d0f71"/><stop offset=".025" stop-color="#4a1079"/><stop offset=".057" stop-color="#5c167f"/><stop offset=".079" stop-color="#671b80"/><stop offset=".145" stop-color="#902a81"/><stop offset=".188" stop-color="#ad347c"/><stop offset=".237" stop-color="#cf4070"/><stop offset=".264" stop-color="#e04c67"/><stop offset=".289" stop-color="#ec5860"/><stop offset=".33" stop-color="#f7705c"/><stop offset=".377" stop-color="#fc8c63"/><stop offset=".414" stop-color="#fd9b6b"/><stop offset=".459" stop-color="#fea772"/><stop offset=".538" stop-color="#fea973"/><stop offset=".539" stop-color="#fea772"/><stop offset=".578" stop-color="#fea16e"/><stop offset=".64" stop-color="#fc8961"/><stop offset=".678" stop-color="#f7725c"/><stop offset=".713" stop-color="#ef5d5e"/><stop offset=".741" stop-color="#e34e65"/><stop offset=".769" stop-color="#d2426f"/><stop offset=".815" stop-color="#b2357b"/><stop offset=".853" stop-color="#982d80"/><stop offset=".902" stop-color="#782281"/><stop offset=".938" stop-color="#641a80"/><stop offset="1" stop-color="#420f75"/></linearGradient>
<linearGradient id="s48" gradientUnits="userSpaceOnUse" x1="0" y1="18" x2="0" y2="971"><stop offset="0" stop-color="#3d0f71"/><stop offset=".021" stop-color="#491078"/><stop offset=".061" stop-color="#5d177f"/><stop offset=".148" stop-color="#902a81"/><stop offset=".197" stop-color="#b0357b"/><stop offset=".244" stop-color="#cf4070"/><stop offset=".29" stop-color="#e85362"/><stop offset=".338" stop-color="#f66c5c"/><stop offset=".392" stop-color="#fb8761"/><stop offset=".435" stop-color="#fd9467"/><stop offset=".471" stop-color="#fd9869"/><stop offset=".472" stop-color="#fd9a6a"/><stop offset=".533" stop-color="#fd9a6a"/><stop offset=".534" stop-color="#fd9869"/><stop offset=".549" stop-color="#fd9869"/><stop offset=".583" stop-color="#fc9065"/><stop offset=".621" stop-color="#fb835f"/><stop offset=".657" stop-color="#f7705c"/><stop offset=".709" stop-color="#ea5661"/><stop offset=".718" stop-color="#e55064"/><stop offset=".733" stop-color="#df4a68"/><stop offset=".76" stop-color="#cf4070"/><stop offset=".807" stop-color="#b0357b"/><stop offset=".858" stop-color="#8e2a81"/><stop offset=".94" stop-color="#5f187f"/><stop offset=".976" stop-color="#4c117a"/><stop offset="1" stop-color="#3f0f72"/></linearGradient>
<linearGradient id="s49" gradientUnits="userSpaceOnUse" x1="0" y1="25" x2="0" y2="968"><stop offset="0" stop-color="#3d0f71"/><stop offset=".021" stop-color="#491078"/><stop offset=".056" stop-color="#5a167e"/><stop offset=".145" stop-color="#8b2981"/><stop offset=".215" stop-color="#b73779"/><stop offset=".25" stop-color="#cd4071"/><stop offset=".294" stop-color="#e34e65"/><stop offset=".344" stop-color="#f2645c"/><stop offset=".403" stop-color="#f97b5d"/><stop offset=".442" stop-color="#fb8560"/><stop offset=".471" stop-color="#fb8761"/><stop offset=".472" stop-color="#fc8961"/><stop offset=".529" stop-color="#fc8961"/><stop offset=".53" stop-color="#fb8761"/><stop offset=".577" stop-color="#fa815f"/><stop offset=".646" stop-color="#f4695c"/><stop offset=".695" stop-color="#e85362"/><stop offset=".722" stop-color="#db476a"/><stop offset=".758" stop-color="#c83e73"/><stop offset=".801" stop-color="#ad347c"/><stop offset=".853" stop-color="#8c2981"/><stop offset=".944" stop-color="#5a167e"/><stop offset=".979" stop-color="#491078"/><stop offset="1" stop-color="#3d0f71"/></linearGradient>
<linearGradient id="s50" gradientUnits="userSpaceOnUse" x1="0" y1="33" x2="0" y2="960"><stop offset="0" stop-color="#3d0f71"/><stop offset=".026" stop-color="#4a1079"/><stop offset=".058" stop-color="#5a167e"/><stop offset=".152" stop-color="#8b2981"/><stop offset=".228" stop-color="#b73779"/><stop offset=".263" stop-color="#cc3f71"/><stop offset=".309" stop-color="#e04c67"/><stop offset=".37" stop-color="#f1605d"/><stop offset=".411" stop-color="#f66c5c"/><stop offset=".468" stop-color="#f8765c"/><stop offset=".533" stop-color="#f8765c"/><stop offset=".534" stop-color="#f8745c"/><stop offset=".574" stop-color="#f7705c"/><stop offset=".641" stop-color="#ef5d5e"/><stop offset=".685" stop-color="#e34e65"/><stop offset=".746" stop-color="#c73d73"/><stop offset=".793" stop-color="#ab337c"/><stop offset=".846" stop-color="#8c2981"/><stop offset=".942" stop-color="#5a167e"/><stop offset=".978" stop-color="#491078"/><stop offset="1" stop-color="#3d0f71"/></linearGradient>
<linearGradient id="s51" gradientUnits="userSpaceOnUse" x1="0" y1="42" x2="0" y2="951"><stop offset="0" stop-color="#3d0f71"/><stop offset=".02" stop-color="#471078"/><stop offset=".058" stop-color="#59157e"/><stop offset=".149" stop-color="#842681"/><stop offset=".231" stop-color="#b0357b"/><stop offset=".267" stop-color="#c43c75"/><stop offset=".319" stop-color="#d9466b"/><stop offset=".36" stop-color="#e55064"/><stop offset=".403" stop-color="#ed5a5f"/><stop offset=".488" stop-color="#f2645c"/><stop offset=".546" stop-color="#f2625d"/><stop offset=".598" stop-color="#ed5a5f"/><stop offset=".641" stop-color="#e55064"/><stop offset=".682" stop-color="#d9466b"/><stop offset=".734" stop-color="#c43c75"/><stop offset=".782" stop-color="#aa337d"/><stop offset=".855" stop-color="#832681"/><stop offset=".923" stop-color="#601880"/><stop offset=".949" stop-color="#56147d"/><stop offset=".985" stop-color="#451077"/><stop offset="1" stop-color="#3d0f71"/></linearGradient>
<linearGradient id="s52" gradientUnits="userSpaceOnUse" x1="0" y1="54" x2="0" y2="940"><stop offset="0" stop-color="#3f0f72"/><stop offset=".053" stop-color="#56147d"/><stop offset=".144" stop-color="#7e2482"/><stop offset=".247" stop-color="#b0357b"/><stop offset=".321" stop-color="#cd4071"/><stop offset=".356" stop-color="#d8456c"/><stop offset=".404" stop-color="#e24d66"/><stop offset=".488" stop-color="#e85362"/><stop offset=".597" stop-color="#e24d66"/><stop offset=".676" stop-color="#cf4070"/><stop offset=".749" stop-color="#b2357b"/><stop offset=".852" stop-color="#802582"/><stop offset=".915" stop-color="#621980"/><stop offset=".947" stop-color="#56147d"/><stop offset="1" stop-color="#3f0f72"/></linearGradient>
<linearGradient id="s53" gradientUnits="userSpaceOnUse" x1="0" y1="67" x2="0" y2="928"><stop offset="0" stop-color="#3f0f72"/><stop offset=".052" stop-color="#54137d"/><stop offset=".124" stop-color="#721f81"/><stop offset=".213" stop-color="#962c80"/><stop offset=".297" stop-color="#b83779"/><stop offset=".374" stop-color="#cd4071"/><stop offset=".456" stop-color="#d8456c"/><stop offset=".564" stop-color="#d6456c"/><stop offset=".61" stop-color="#d0416f"/><stop offset=".671" stop-color="#c23b75"/><stop offset=".734" stop-color="#ad347c"/><stop offset=".771" stop-color="#9c2e7f"/><stop offset=".861" stop-color="#782281"/><stop offset=".916" stop-color="#5f187f"/><stop offset=".943" stop-color="#56147d"/><stop offset="1" stop-color="#3f0f72"/></linearGradient>
<linearGradient id="s54" gradientUnits="userSpaceOnUse" x1="0" y1="82" x2="0" y2="913"><stop offset="0" stop-color="#3f0f72"/><stop offset=".039" stop-color="#4e117b"/><stop offset=".111" stop-color="#681c81"/><stop offset=".197" stop-color="#882781"/><stop offset=".294" stop-color="#aa337d"/><stop offset=".385" stop-color="#bf3a77"/><stop offset=".467" stop-color="#c73d73"/><stop offset=".579" stop-color="#c43c75"/><stop offset=".684" stop-color="#b0357b"/><stop offset=".767" stop-color="#962c80"/><stop offset=".872" stop-color="#6e1e81"/><stop offset=".943" stop-color="#54137d"/><stop offset="1" stop-color="#3f0f72"/></linearGradient>
<linearGradient id="s55" gradientUnits="userSpaceOnUse" x1="0" y1="99" x2="0" y2="896"><stop offset="0" stop-color="#3f0f72"/><stop offset=".043" stop-color="#4e117b"/><stop offset=".113" stop-color="#651a80"/><stop offset=".236" stop-color="#8c2981"/><stop offset=".302" stop-color="#9e2f7f"/><stop offset=".405" stop-color="#b0357b"/><stop offset=".498" stop-color="#b5367a"/><stop offset=".596" stop-color="#b0357b"/><stop offset=".691" stop-color="#a02f7f"/><stop offset=".78" stop-color="#882781"/><stop offset=".887" stop-color="#651a80"/><stop offset=".957" stop-color="#4e117b"/><stop offset="1" stop-color="#3f0f72"/></linearGradient>
<linearGradient id="s56" gradientUnits="userSpaceOnUse" x1="0" y1="119" x2="0" y2="876"><stop offset="0" stop-color="#3f0f72"/><stop offset=".036" stop-color="#4a1079"/><stop offset=".095" stop-color="#5c167f"/><stop offset=".254" stop-color="#862781"/><stop offset=".357" stop-color="#992d80"/><stop offset=".444" stop-color="#a1307e"/><stop offset=".585" stop-color="#a02f7f"/><stop offset=".694" stop-color="#912b81"/><stop offset=".768" stop-color="#812581"/><stop offset=".894" stop-color="#5f187f"/><stop offset=".954" stop-color="#4e117b"/><stop offset="1" stop-color="#3f0f72"/></linearGradient>
<linearGradient id="s57" gradientUnits="userSpaceOnUse" x1="0" y1="142" x2="0" y2="853"><stop offset="0" stop-color="#3f0f72"/><stop offset=".027" stop-color="#471078"/><stop offset=".084" stop-color="#56147d"/><stop offset=".222" stop-color="#752181"/><stop offset=".326" stop-color="#862781"/><stop offset=".435" stop-color="#902a81"/><stop offset=".57" stop-color="#902a81"/><stop offset=".699" stop-color="#832681"/><stop offset=".878" stop-color="#5f187f"/><stop offset=".942" stop-color="#4f127b"/><stop offset="1" stop-color="#400f74"/></linearGradient>
<linearGradient id="s58" gradientUnits="userSpaceOnUse" x1="0" y1="170" x2="0" y2="826"><stop offset="0" stop-color="#400f74"/><stop offset=".108" stop-color="#57157e"/><stop offset=".256" stop-color="#701f81"/><stop offset=".338" stop-color="#792282"/><stop offset=".45" stop-color="#802582"/><stop offset=".596" stop-color="#7e2482"/><stop offset=".721" stop-color="#732081"/><stop offset=".884" stop-color="#59157e"/><stop offset="1" stop-color="#400f74"/></linearGradient>
<linearGradient id="s59" gradientUnits="userSpaceOnUse" x1="0" y1="203" x2="0" y2="793"><stop offset="0" stop-color="#400f74"/><stop offset=".085" stop-color="#4f127b"/><stop offset=".227" stop-color="#621980"/><stop offset=".332" stop-color="#6b1d81"/><stop offset=".442" stop-color="#701f81"/><stop offset=".614" stop-color="#6e1e81"/><stop offset=".729" stop-color="#671b80"/><stop offset=".885" stop-color="#54137d"/><stop offset="1" stop-color="#400f74"/></linearGradient>
<linearGradient id="s60" gradientUnits="userSpaceOnUse" x1="0" y1="200" x2="0" y2="786"><stop offset="0" stop-color="#400f74"/><stop offset=".085" stop-color="#4f127b"/><stop offset=".206" stop-color="#601880"/><stop offset=".294" stop-color="#6a1c81"/><stop offset=".422" stop-color="#721f81"/><stop offset=".577" stop-color="#721f81"/><stop offset=".688" stop-color="#6b1d81"/><stop offset=".841" stop-color="#5a167e"/><stop offset="1" stop-color="#400f74"/></linearGradient>
<linearGradient id="s61" gradientUnits="userSpaceOnUse" x1="0" y1="167" x2="0" y2="820"><stop offset="0" stop-color="#400f74"/><stop offset=".107" stop-color="#57157e"/><stop offset=".257" stop-color="#721f81"/><stop offset=".368" stop-color="#7e2482"/><stop offset=".464" stop-color="#832681"/><stop offset=".58" stop-color="#812581"/><stop offset=".694" stop-color="#782281"/><stop offset=".885" stop-color="#59157e"/><stop offset="1" stop-color="#400f74"/></linearGradient>
<linearGradient id="s62" gradientUnits="userSpaceOnUse" x1="0" y1="139" x2="0" y2="848"><stop offset="0" stop-color="#3f0f72"/><stop offset=".032" stop-color="#491078"/><stop offset=".102" stop-color="#5a167e"/><stop offset=".289" stop-color="#832681"/><stop offset=".385" stop-color="#902a81"/><stop offset=".468" stop-color="#942c80"/><stop offset=".571" stop-color="#932b80"/><stop offset=".68" stop-color="#882781"/><stop offset=".784" stop-color="#752181"/><stop offset=".886" stop-color="#5d177f"/><stop offset=".955" stop-color="#4c117a"/><stop offset="1" stop-color="#3f0f72"/></linearGradient>
<linearGradient id="s63" gradientUnits="userSpaceOnUse" x1="0" y1="115" x2="0" y2="873"><stop offset="0" stop-color="#3f0f72"/><stop offset=".041" stop-color="#4c117a"/><stop offset=".099" stop-color="#5d177f"/><stop offset=".278" stop-color="#8e2a81"/><stop offset=".365" stop-color="#9e2f7f"/><stop offset=".449" stop-color="#a6317d"/><stop offset=".549" stop-color="#a6317d"/><stop offset=".608" stop-color="#a1307e"/><stop offset=".673" stop-color="#982d80"/><stop offset=".766" stop-color="#832681"/><stop offset=".884" stop-color="#621980"/><stop offset=".959" stop-color="#4c117a"/><stop offset="1" stop-color="#3f0f72"/></linearGradient>
<linearGradient id="s64" gradientUnits="userSpaceOnUse" x1="0" y1="94" x2="0" y2="894"><stop offset="0" stop-color="#3f0f72"/><stop offset=".051" stop-color="#51127c"/><stop offset=".111" stop-color="#651a80"/><stop offset=".289" stop-color="#9e2f7f"/><stop offset=".379" stop-color="#b2357b"/><stop offset=".456" stop-color="#ba3878"/><stop offset=".566" stop-color="#b83779"/><stop offset=".609" stop-color="#b3367a"/><stop offset=".677" stop-color="#a6317d"/><stop offset=".75" stop-color="#932b80"/><stop offset=".884" stop-color="#671b80"/><stop offset=".944" stop-color="#52137c"/><stop offset="1" stop-color="#3f0f72"/></linearGradient>
<linearGradient id="s65" gradientUnits="userSpaceOnUse" x1="0" y1="76" x2="0" y2="912"><stop offset="0" stop-color="#3f0f72"/><stop offset=".043" stop-color="#4f127b"/><stop offset=".112" stop-color="#6a1c81"/><stop offset=".205" stop-color="#8c2981"/><stop offset=".291" stop-color="#ad347c"/><stop offset=".371" stop-color="#c23b75"/><stop offset=".455" stop-color="#cd4071"/><stop offset=".565" stop-color="#cc3f71"/><stop offset=".611" stop-color="#c53c74"/><stop offset=".67" stop-color="#b83779"/><stop offset=".743" stop-color="#a1307e"/><stop offset=".867" stop-color="#721f81"/><stop offset=".949" stop-color="#52137c"/><stop offset="1" stop-color="#3f0f72"/></linearGradient>
<linearGradient id="s66" gradientUnits="userSpaceOnUse" x1="0" y1="60" x2="0" y2="928"><stop offset="0" stop-color="#3f0f72"/><stop offset=".052" stop-color="#54137d"/><stop offset=".139" stop-color="#792282"/><stop offset=".228" stop-color="#a02f7f"/><stop offset=".275" stop-color="#b5367a"/><stop offset=".32" stop-color="#c53c74"/><stop offset=".402" stop-color="#d9466b"/><stop offset=".476" stop-color="#e04c67"/><stop offset=".522" stop-color="#e04c67"/><stop offset=".577" stop-color="#dc4869"/><stop offset=".621" stop-color="#d5446d"/><stop offset=".669" stop-color="#c83e73"/><stop offset=".749" stop-color="#ab337c"/><stop offset=".857" stop-color="#7b2382"/><stop offset=".908" stop-color="#641a80"/><stop offset=".945" stop-color="#56147d"/><stop offset="1" stop-color="#3f0f72"/></linearGradient>
<linearGradient id="s67" gradientUnits="userSpaceOnUse" x1="0" y1="46" x2="0" y2="942"><stop offset="0" stop-color="#3d0f71"/><stop offset=".023" stop-color="#491078"/><stop offset=".056" stop-color="#57157e"/><stop offset=".144" stop-color="#802582"/><stop offset=".23" stop-color="#ab337c"/><stop offset=".258" stop-color="#ba3878"/><stop offset=".31" stop-color="#d0416f"/><stop offset=".378" stop-color="#e44f64"/><stop offset=".467" stop-color="#ee5b5e"/><stop offset=".532" stop-color="#ee5b5e"/><stop offset=".576" stop-color="#eb5760"/><stop offset=".622" stop-color="#e44f64"/><stop offset=".669" stop-color="#d8456c"/><stop offset=".735" stop-color="#bd3977"/><stop offset=".799" stop-color="#9c2e7f"/><stop offset=".847" stop-color="#842681"/><stop offset=".938" stop-color="#5a167e"/><stop offset=".97" stop-color="#4c117a"/><stop offset="1" stop-color="#3f0f72"/></linearGradient>
<linearGradient id="s68" gradientUnits="userSpaceOnUse" x1="0" y1="34" x2="0" y2="955"><stop offset="0" stop-color="#3d0f71"/><stop offset=".015" stop-color="#451077"/><stop offset=".056" stop-color="#59157e"/><stop offset=".147" stop-color="#862781"/><stop offset=".227" stop-color="#b3367a"/><stop offset=".257" stop-color="#c53c74"/><stop offset=".311" stop-color="#de4968"/><stop offset=".379" stop-color="#f05f5e"/><stop offset=".427" stop-color="#f56b5c"/><stop offset=".464" stop-color="#f7705c"/><stop offset=".552" stop-color="#f66e5c"/><stop offset=".62" stop-color="#f05f5e"/><stop offset=".678" stop-color="#e24d66"/><stop offset=".733" stop-color="#ca3e72"/><stop offset=".787" stop-color="#ab337c"/><stop offset=".845" stop-color="#8b2981"/><stop offset=".94" stop-color="#5a167e"/><stop offset=".971" stop-color="#4c117a"/><stop offset="1" stop-color="#3d0f71"/></linearGradient>
<linearGradient id="s69" gradientUnits="userSpaceOnUse" x1="0" y1="23" x2="0" y2="966"><stop offset="0" stop-color="#3d0f71"/><stop offset=".025" stop-color="#4a1079"/><stop offset=".057" stop-color="#5a167e"/><stop offset=".146" stop-color="#8b2981"/><stop offset=".217" stop-color="#b73779"/><stop offset=".256" stop-color="#cf4070"/><stop offset=".297" stop-color="#e34e65"/><stop offset=".336" stop-color="#f05f5e"/><stop offset=".368" stop-color="#f66c5c"/><stop offset=".409" stop-color="#f97b5d"/><stop offset=".452" stop-color="#fb8560"/><stop offset=".467" stop-color="#fb8560"/><stop offset=".468" stop-color="#fb8761"/><stop offset=".531" stop-color="#fb8761"/><stop offset=".532" stop-color="#fb8560"/><stop offset=".576" stop-color="#fa7f5e"/><stop offset=".639" stop-color="#f4695c"/><stop offset=".687" stop-color="#e95462"/><stop offset=".716" stop-color="#dc4869"/><stop offset=".75" stop-color="#cc3f71"/><stop offset=".793" stop-color="#b0357b"/><stop offset=".848" stop-color="#8e2a81"/><stop offset=".943" stop-color="#5a167e"/><stop offset=".975" stop-color="#4a1079"/><stop offset="1" stop-color="#3d0f71"/></linearGradient>
<linearGradient id="s70" gradientUnits="userSpaceOnUse" x1="0" y1="14" x2="0" y2="971"><stop offset="0" stop-color="#3d0f71"/><stop offset=".025" stop-color="#4a1079"/><stop offset=".055" stop-color="#5a167e"/><stop offset=".145" stop-color="#8e2a81"/><stop offset=".196" stop-color="#b0357b"/><stop offset=".238" stop-color="#cc3f71"/><stop offset=".29" stop-color="#e95462"/><stop offset=".335" stop-color="#f66c5c"/><stop offset=".393" stop-color="#fc8961"/><stop offset=".442" stop-color="#fd9869"/><stop offset=".487" stop-color="#fe9d6c"/><stop offset=".539" stop-color="#fd9b6b"/><stop offset=".59" stop-color="#fc9065"/><stop offset=".637" stop-color="#fa7d5e"/><stop offset=".656" stop-color="#f7725c"/><stop offset=".705" stop-color="#ec5860"/><stop offset=".738" stop-color="#de4968"/><stop offset=".759" stop-color="#d0416f"/><stop offset=".806" stop-color="#b2357b"/><stop offset=".85" stop-color="#942c80"/><stop offset=".935" stop-color="#621980"/><stop offset=".969" stop-color="#4f127b"/><stop offset="1" stop-color="#400f74"/></linearGradient>
<linearGradient id="s71" gradientUnits="userSpaceOnUse" x1="0" y1="11" x2="0" y2="971"><stop offset="0" stop-color="#400f74"/><stop offset=".031" stop-color="#4f127b"/><stop offset=".066" stop-color="#641a80"/><stop offset=".097" stop-color="#752181"/><stop offset=".146" stop-color="#942c80"/><stop offset=".185" stop-color="#b0357b"/><stop offset=".229" stop-color="#cf4070"/><stop offset=".253" stop-color="#df4a68"/><stop offset=".282" stop-color="#ed5a5f"/><stop offset=".328" stop-color="#f8765c"/><stop offset=".378" stop-color="#fd9467"/><stop offset=".426" stop-color="#fea772"/><stop offset=".458" stop-color="#feae77"/><stop offset=".535" stop-color="#feb078"/><stop offset=".588" stop-color="#fea571"/><stop offset=".633" stop-color="#fd9266"/><stop offset=".668" stop-color="#fa7d5e"/><stop offset=".695" stop-color="#f66c5c"/><stop offset=".718" stop-color="#f05f5e"/><stop offset=".741" stop-color="#e55064"/><stop offset=".757" stop-color="#de4968"/><stop offset=".774" stop-color="#d2426f"/><stop offset=".816" stop-color="#b5367a"/><stop offset=".857" stop-color="#982d80"/><stop offset=".908" stop-color="#762181"/><stop offset=".94" stop-color="#651a80"/><stop offset="1" stop-color="#440f76"/></linearGradient>
<linearGradient id="s72" gradientUnits="userSpaceOnUse" x1="0" y1="11" x2="0" y2="971"><stop offset="0" stop-color="#440f76"/><stop offset=".06" stop-color="#651a80"/><stop offset=".096" stop-color="#792282"/><stop offset=".143" stop-color="#992d80"/><stop offset=".216" stop-color="#cf4070"/><stop offset=".245" stop-color="#e24d66"/><stop offset=".266" stop-color="#ed5a5f"/><stop offset=".29" stop-color="#f56b5c"/><stop offset=".32" stop-color="#fa7f5e"/><stop offset=".365" stop-color="#fe9d6c"/><stop offset=".419" stop-color="#feb67c"/><stop offset=".476" stop-color="#fec287"/><stop offset=".532" stop-color="#fec287"/><stop offset=".572" stop-color="#febb81"/><stop offset=".614" stop-color="#feac76"/><stop offset=".65" stop-color="#fd9a6a"/><stop offset=".685" stop-color="#fa815f"/><stop offset=".726" stop-color="#f3655c"/><stop offset=".754" stop-color="#e85362"/><stop offset=".781" stop-color="#d6456c"/><stop offset=".819" stop-color="#bc3978"/><stop offset=".868" stop-color="#982d80"/><stop offset=".92" stop-color="#752181"/><stop offset=".94" stop-color="#6a1c81"/><stop offset="1" stop-color="#471078"/></linearGradient>
<linearGradient id="s73" gradientUnits="userSpaceOnUse" x1="0" y1="11" x2="0" y2="971"><stop offset="0" stop-color="#451077"/><stop offset=".059" stop-color="#681c81"/><stop offset=".132" stop-color="#982d80"/><stop offset=".171" stop-color="#b5367a"/><stop offset=".211" stop-color="#d3436e"/><stop offset=".231" stop-color="#e24d66"/><stop offset=".248" stop-color="#ea5661"/><stop offset=".264" stop-color="#f2625d"/><stop offset=".291" stop-color="#f8765c"/><stop offset=".312" stop-color="#fb8761"/><stop offset=".345" stop-color="#fe9f6d"/><stop offset=".379" stop-color="#feb47b"/><stop offset=".427" stop-color="#fec88c"/><stop offset=".479" stop-color="#fed395"/><stop offset=".543" stop-color="#fed194"/><stop offset=".597" stop-color="#fec287"/><stop offset=".648" stop-color="#fea973"/><stop offset=".696" stop-color="#fb8761"/><stop offset=".718" stop-color="#f8765c"/><stop offset=".743" stop-color="#f2645c"/><stop offset=".758" stop-color="#eb5760"/><stop offset=".775" stop-color="#e34e65"/><stop offset=".793" stop-color="#d6456c"/><stop offset=".835" stop-color="#b73779"/><stop offset=".872" stop-color="#9b2e7f"/><stop offset=".942" stop-color="#6d1d81"/><stop offset="1" stop-color="#4a1079"/></linearGradient>
<linearGradient id="s74" gradientUnits="userSpaceOnUse" x1="0" y1="11" x2="0" y2="971"><stop offset="0" stop-color="#491078"/><stop offset=".056" stop-color="#6a1c81"/><stop offset=".078" stop-color="#762181"/><stop offset=".134" stop-color="#9e2f7f"/><stop offset=".17" stop-color="#ba3878"/><stop offset=".208" stop-color="#d8456c"/><stop offset=".235" stop-color="#e95462"/><stop offset=".255" stop-color="#f2645c"/><stop offset=".276" stop-color="#f8745c"/><stop offset=".301" stop-color="#fc8961"/><stop offset=".339" stop-color="#fea772"/><stop offset=".38" stop-color="#fec185"/><stop offset=".431" stop-color="#fed799"/><stop offset=".47" stop-color="#fde0a1"/><stop offset=".487" stop-color="#fde0a1"/><stop offset=".489" stop-color="#fde2a3"/><stop offset=".549" stop-color="#fddea0"/><stop offset=".606" stop-color="#fecc8f"/><stop offset=".656" stop-color="#feb078"/><stop offset=".698" stop-color="#fd9266"/><stop offset=".705" stop-color="#fc8a62"/><stop offset=".707" stop-color="#fc8a62"/><stop offset=".73" stop-color="#f8765c"/><stop offset=".751" stop-color="#f3655c"/><stop offset=".776" stop-color="#e85362"/><stop offset=".8" stop-color="#d8456c"/><stop offset=".84" stop-color="#ba3878"/><stop offset=".875" stop-color="#9e2f7f"/><stop offset=".917" stop-color="#802582"/><stop offset=".943" stop-color="#701f81"/><stop offset="1" stop-color="#4e117b"/></linearGradient>
<linearGradient id="s75" gradientUnits="userSpaceOnUse" x1="0" y1="11" x2="0" y2="971"><stop offset="0" stop-color="#4a1079"/><stop offset=".057" stop-color="#6d1d81"/><stop offset=".127" stop-color="#9c2e7f"/><stop offset=".166" stop-color="#bc3978"/><stop offset=".204" stop-color="#d9466b"/><stop offset=".232" stop-color="#eb5760"/><stop offset=".247" stop-color="#f2645c"/><stop offset=".278" stop-color="#fa7d5e"/><stop offset=".3" stop-color="#fc9065"/><stop offset=".331" stop-color="#feaa74"/><stop offset=".385" stop-color="#fecd90"/><stop offset=".436" stop-color="#fde3a5"/><stop offset=".481" stop-color="#fcecae"/><stop offset=".527" stop-color="#fcecae"/><stop offset=".551" stop-color="#fde9aa"/><stop offset=".583" stop-color="#fde0a1"/><stop offset=".617" stop-color="#fed194"/><stop offset=".668" stop-color="#feb27a"/><stop offset=".704" stop-color="#fd9668"/><stop offset=".714" stop-color="#fc8c63"/><stop offset=".738" stop-color="#f9785d"/><stop offset=".757" stop-color="#f4675c"/><stop offset=".784" stop-color="#e85362"/><stop offset=".812" stop-color="#d3436e"/><stop offset=".845" stop-color="#ba3878"/><stop offset=".88" stop-color="#9e2f7f"/><stop offset=".947" stop-color="#701f81"/><stop offset="1" stop-color="#4f127b"/></linearGradient>
<linearGradient id="s76" gradientUnits="userSpaceOnUse" x1="0" y1="11" x2="0" y2="971"><stop offset="0" stop-color="#4c117a"/><stop offset=".049" stop-color="#681c81"/><stop offset=".061" stop-color="#721f81"/><stop offset=".084" stop-color="#802582"/><stop offset=".125" stop-color="#9e2f7f"/><stop offset=".156" stop-color="#b73779"/><stop offset=".196" stop-color="#d6456c"/><stop offset=".214" stop-color="#e44f64"/><stop offset=".231" stop-color="#ed5a5f"/><stop offset=".242" stop-color="#f2645c"/><stop offset=".265" stop-color="#f9785d"/><stop offset=".289" stop-color="#fc8e64"/><stop offset=".291" stop-color="#fc8e64"/><stop offset=".318" stop-color="#fea772"/><stop offset=".364" stop-color="#fec88c"/><stop offset=".392" stop-color="#fed89a"/><stop offset=".428" stop-color="#fde9aa"/><stop offset=".459" stop-color="#fcf2b4"/><stop offset=".482" stop-color="#fcf4b6"/><stop offset=".483" stop-color="#fcf6b8"/><stop offset=".525" stop-color="#fcf6b8"/><stop offset=".526" stop-color="#fcf4b6"/><stop offset=".557" stop-color="#fcf0b2"/><stop offset=".595" stop-color="#fde3a5"/><stop offset=".618" stop-color="#fed89a"/><stop offset=".67" stop-color="#feb77e"/><stop offset=".703" stop-color="#fe9d6c"/><stop offset=".717" stop-color="#fc9065"/><stop offset=".746" stop-color="#f8765c"/><stop offset=".764" stop-color="#f4675c"/><stop offset=".776" stop-color="#ee5b5e"/><stop offset=".792" stop-color="#e75263"/><stop offset=".811" stop-color="#d8456c"/><stop offset=".851" stop-color="#b83779"/><stop offset=".882" stop-color="#a02f7f"/><stop offset=".909" stop-color="#8b2981"/><stop offset=".943" stop-color="#752181"/><stop offset="1" stop-color="#51127c"/></linearGradient>
<linearGradient id="s77" gradientUnits="userSpaceOnUse" x1="0" y1="11" x2="0" y2="971"><stop offset="0" stop-color="#4e117b"/><stop offset=".052" stop-color="#6b1d81"/><stop offset=".123" stop-color="#9e2f7f"/><stop offset=".159" stop-color="#bc3978"/><stop offset=".195" stop-color="#d8456c"/><stop offset=".224" stop-color="#eb5760"/><stop offset=".242" stop-color="#f4675c"/><stop offset=".264" stop-color="#f9795d"/><stop offset=".266" stop-color="#fa7d5e"/><stop offset=".297" stop-color="#fd9869"/><stop offset=".324" stop-color="#feb078"/><stop offset=".368" stop-color="#fecf92"/><stop offset=".419" stop-color="#fdebac"/><stop offset=".451" stop-color="#fcf6b8"/><stop offset=".478" stop-color="#fcfbbd"/><stop offset=".543" stop-color="#fcf9bb"/><stop offset=".581" stop-color="#fceeb0"/><stop offset=".614" stop-color="#fde0a1"/><stop offset=".664" stop-color="#fec185"/><stop offset=".693" stop-color="#fea973"/><stop offset=".695" stop-color="#fea973"/><stop offset=".708" stop-color="#fd9b6b"/><stop offset=".71" stop-color="#fd9b6b"/><stop offset=".741" stop-color="#fa7f5e"/><stop offset=".768" stop-color="#f4675c"/><stop offset=".787" stop-color="#ea5661"/><stop offset=".799" stop-color="#e44f64"/><stop offset=".817" stop-color="#d6456c"/><stop offset=".848" stop-color="#bd3977"/><stop offset=".882" stop-color="#a1307e"/><stop offset=".941" stop-color="#782281"/><stop offset="1" stop-color="#52137c"/></linearGradient>
<linearGradient id="s78" gradientUnits="userSpaceOnUse" x1="0" y1="11" x2="0" y2="971"><stop offset="0" stop-color="#4e117b"/><stop offset=".058" stop-color="#701f81"/><stop offset=".124" stop-color="#a02f7f"/><stop offset=".16" stop-color="#bd3977"/><stop offset=".19" stop-color="#d5446d"/><stop offset=".215" stop-color="#e75263"/><stop offset=".236" stop-color="#f2645c"/><stop offset=".261" stop-color="#f9795d"/><stop offset=".285" stop-color="#fc9065"/><stop offset=".317" stop-color="#feac76"/><stop offset=".37" stop-color="#fed395"/><stop offset=".426" stop-color="#fcf0b2"/><stop offset=".47" stop-color="#fcfdbf"/><stop offset=".54" stop-color="#fcfdbf"/><stop offset=".569" stop-color="#fcf6b8"/><stop offset=".597" stop-color="#fdebac"/><stop offset=".631" stop-color="#fed89a"/><stop offset=".667" stop-color="#fec185"/><stop offset=".72" stop-color="#fd9467"/><stop offset=".745" stop-color="#fa7d5e"/><stop offset=".768" stop-color="#f4695c"/><stop offset=".785" stop-color="#ec5860"/><stop offset=".795" stop-color="#e85362"/><stop offset=".81" stop-color="#dc4869"/><stop offset=".844" stop-color="#c23b75"/><stop offset=".885" stop-color="#a02f7f"/><stop offset=".946" stop-color="#752181"/><stop offset="1" stop-color="#52137c"/></linearGradient>
<linearGradient id="s79" gradientUnits="userSpaceOnUse" x1="0" y1="11" x2="0" y2="971"><stop offset="0" stop-color="#4e117b"/><stop offset=".058" stop-color="#701f81"/><stop offset=".122" stop-color="#9e2f7f"/><stop offset=".16" stop-color="#bd3977"/><stop offset=".19" stop-color="#d5446d"/><stop offset=".215" stop-color="#e75263"/><stop offset=".234" stop-color="#f2625d"/><stop offset=".257" stop-color="#f8765c"/><stop offset=".281" stop-color="#fc8c63"/><stop offset=".317" stop-color="#feac76"/><stop offset=".358" stop-color="#fecc8f"/><stop offset=".412" stop-color="#fdebac"/><stop offset=".446" stop-color="#fcf7b9"/><stop offset=".469" stop-color="#fcfdbf"/><stop offset=".542" stop-color="#fcfdbf"/><stop offset=".57" stop-color="#fcf6b8"/><stop offset=".605" stop-color="#fde7a9"/><stop offset=".665" stop-color="#fec287"/><stop offset=".7" stop-color="#fea772"/><stop offset=".718" stop-color="#fd9668"/><stop offset=".743" stop-color="#fa7f5e"/><stop offset=".768" stop-color="#f4695c"/><stop offset=".787" stop-color="#eb5760"/><stop offset=".797" stop-color="#e75263"/><stop offset=".815" stop-color="#d9466b"/><stop offset=".826" stop-color="#d2426f"/><stop offset=".859" stop-color="#b5367a"/><stop offset=".884" stop-color="#a1307e"/><stop offset=".942" stop-color="#782281"/><stop offset="1" stop-color="#52137c"/></linearGradient>
<linearGradient id="s80" gradientUnits="userSpaceOnUse" x1="0" y1="11" x2="0" y2="971"><stop offset="0" stop-color="#4e117b"/><stop offset=".061" stop-color="#721f81"/><stop offset=".123" stop-color="#9e2f7f"/><stop offset=".161" stop-color="#bd3977"/><stop offset=".193" stop-color="#d6456c"/><stop offset=".22" stop-color="#e95462"/><stop offset=".237" stop-color="#f2645c"/><stop offset=".263" stop-color="#f9795d"/><stop offset=".285" stop-color="#fc8e64"/><stop offset=".319" stop-color="#feac76"/><stop offset=".367" stop-color="#fecf92"/><stop offset=".405" stop-color="#fde5a7"/><stop offset=".426" stop-color="#fceeb0"/><stop offset=".454" stop-color="#fcf7b9"/><stop offset=".486" stop-color="#fcfdbf"/><stop offset=".524" stop-color="#fcfdbf"/><stop offset=".548" stop-color="#fcf9bb"/><stop offset=".579" stop-color="#fcf0b2"/><stop offset=".616" stop-color="#fde0a1"/><stop offset=".67" stop-color="#febd82"/><stop offset=".709" stop-color="#fd9b6b"/><stop offset=".711" stop-color="#fd9b6b"/><stop offset=".742" stop-color="#fa7f5e"/><stop offset=".767" stop-color="#f4695c"/><stop offset=".786" stop-color="#eb5760"/><stop offset=".796" stop-color="#e75263"/><stop offset=".814" stop-color="#d9466b"/><stop offset=".847" stop-color="#bf3a77"/><stop offset=".885" stop-color="#a02f7f"/><stop offset=".917" stop-color="#882781"/><stop offset=".946" stop-color="#752181"/><stop offset="1" stop-color="#52137c"/></linearGradient>
<linearGradient id="s81" gradientUnits="userSpaceOnUse" x1="0" y1="11" x2="0" y2="971"><stop offset="0" stop-color="#4c117a"/><stop offset=".049" stop-color="#681c81"/><stop offset=".061" stop-color="#721f81"/><stop offset=".073" stop-color="#782281"/><stop offset=".123" stop-color="#9c2e7f"/><stop offset=".164" stop-color="#bd3977"/><stop offset=".201" stop-color="#db476a"/><stop offset=".223" stop-color="#e95462"/><stop offset=".245" stop-color="#f4675c"/><stop offset=".267" stop-color="#f9795d"/><stop offset=".29" stop-color="#fc8e64"/><stop offset=".317" stop-color="#fea772"/><stop offset=".368" stop-color="#fecc8f"/><stop offset=".425" stop-color="#fde9aa"/><stop offset=".453" stop-color="#fcf2b4"/><stop offset=".486" stop-color="#fcf7b9"/><stop offset=".524" stop-color="#fcf7b9"/><stop offset=".549" stop-color="#fcf4b6"/><stop offset=".61" stop-color="#fddea0"/><stop offset=".677" stop-color="#feb47b"/><stop offset=".719" stop-color="#fc9065"/><stop offset=".742" stop-color="#f97b5d"/><stop offset=".766" stop-color="#f4675c"/><stop offset=".785" stop-color="#ea5661"/><stop offset=".801" stop-color="#e24d66"/><stop offset=".819" stop-color="#d3436e"/><stop offset=".883" stop-color="#a02f7f"/><stop offset=".938" stop-color="#782281"/><stop offset="1" stop-color="#52137c"/></linearGradient>
<linearGradient id="s82" gradientUnits="userSpaceOnUse" x1="0" y1="11" x2="0" y2="971"><stop offset="0" stop-color="#4a1079"/><stop offset=".059" stop-color="#6e1e81"/><stop offset=".124" stop-color="#9b2e7f"/><stop offset=".164" stop-color="#ba3878"/><stop offset=".2" stop-color="#d6456c"/><stop offset=".224" stop-color="#e75263"/><stop offset=".245" stop-color="#f2625d"/><stop offset=".267" stop-color="#f8745c"/><stop offset=".287" stop-color="#fb8761"/><stop offset=".322" stop-color="#fea36f"/><stop offset=".358" stop-color="#febf84"/><stop offset=".421" stop-color="#fde0a1"/><stop offset=".449" stop-color="#fde9aa"/><stop offset=".478" stop-color="#fceeb0"/><stop offset=".545" stop-color="#fcecae"/><stop offset=".574" stop-color="#fde5a7"/><stop offset=".61" stop-color="#fed799"/><stop offset=".66" stop-color="#feb97f"/><stop offset=".707" stop-color="#fd9467"/><stop offset=".729" stop-color="#fa815f"/><stop offset=".758" stop-color="#f4695c"/><stop offset=".765" stop-color="#f2625d"/><stop offset=".791" stop-color="#e44f64"/><stop offset=".812" stop-color="#d5446d"/><stop offset=".843" stop-color="#bd3977"/><stop offset=".88" stop-color="#a02f7f"/><stop offset=".942" stop-color="#732081"/><stop offset="1" stop-color="#51127c"/></linearGradient>
<linearGradient id="s83" gradientUnits="userSpaceOnUse" x1="0" y1="11" x2="0" y2="971"><stop offset="0" stop-color="#491078"/><stop offset=".051" stop-color="#671b80"/><stop offset=".08" stop-color="#782281"/><stop offset=".127" stop-color="#992d80"/><stop offset=".169" stop-color="#ba3878"/><stop offset=".206" stop-color="#d6456c"/><stop offset=".223" stop-color="#e34e65"/><stop offset=".252" stop-color="#f2625d"/><stop offset=".277" stop-color="#f8765c"/><stop offset=".302" stop-color="#fc8c63"/><stop offset=".304" stop-color="#fc8c63"/><stop offset=".311" stop-color="#fd9467"/><stop offset=".342" stop-color="#feaa74"/><stop offset=".38" stop-color="#fec287"/><stop offset=".429" stop-color="#fed89a"/><stop offset=".478" stop-color="#fde3a5"/><stop offset=".546" stop-color="#fde2a3"/><stop offset=".605" stop-color="#fecf92"/><stop offset=".658" stop-color="#feb27a"/><stop offset=".702" stop-color="#fc9065"/><stop offset=".716" stop-color="#fb8761"/><stop offset=".729" stop-color="#f9795d"/><stop offset=".731" stop-color="#f9795d"/><stop offset=".752" stop-color="#f4675c"/><stop offset=".774" stop-color="#ea5661"/><stop offset=".801" stop-color="#d9466b"/><stop offset=".84" stop-color="#bc3978"/><stop offset=".877" stop-color="#9e2f7f"/><stop offset=".945" stop-color="#701f81"/><stop offset="1" stop-color="#4f127b"/></linearGradient>
<linearGradient id="s84" gradientUnits="userSpaceOnUse" x1="0" y1="11" x2="0" y2="971"><stop offset="0" stop-color="#451077"/><stop offset=".056" stop-color="#671b80"/><stop offset=".091" stop-color="#7b2382"/><stop offset=".131" stop-color="#982d80"/><stop offset=".177" stop-color="#ba3878"/><stop offset=".21" stop-color="#d3436e"/><stop offset=".237" stop-color="#e55064"/><stop offset=".263" stop-color="#f2625d"/><stop offset=".284" stop-color="#f7725c"/><stop offset=".31" stop-color="#fb8761"/><stop offset=".353" stop-color="#fea772"/><stop offset=".385" stop-color="#feb97f"/><stop offset=".435" stop-color="#fecd90"/><stop offset=".469" stop-color="#fed597"/><stop offset=".483" stop-color="#fed597"/><stop offset=".484" stop-color="#fed799"/><stop offset=".543" stop-color="#fed597"/><stop offset=".576" stop-color="#fecd90"/><stop offset=".606" stop-color="#fec287"/><stop offset=".652" stop-color="#feaa74"/><stop offset=".691" stop-color="#fc9065"/><stop offset=".696" stop-color="#fc8a62"/><stop offset=".703" stop-color="#fb8761"/><stop offset=".723" stop-color="#f8765c"/><stop offset=".747" stop-color="#f2645c"/><stop offset=".771" stop-color="#e75263"/><stop offset=".797" stop-color="#d6456c"/><stop offset=".834" stop-color="#ba3878"/><stop offset=".873" stop-color="#9c2e7f"/><stop offset=".94" stop-color="#701f81"/><stop offset="1" stop-color="#4c117a"/></linearGradient>
<linearGradient id="s85" gradientUnits="userSpaceOnUse" x1="0" y1="11" x2="0" y2="971"><stop offset="0" stop-color="#440f76"/><stop offset=".06" stop-color="#651a80"/><stop offset=".135" stop-color="#942c80"/><stop offset=".171" stop-color="#ae347b"/><stop offset=".21" stop-color="#cc3f71"/><stop offset=".236" stop-color="#de4968"/><stop offset=".259" stop-color="#eb5760"/><stop offset=".287" stop-color="#f56b5c"/><stop offset=".315" stop-color="#fa7d5e"/><stop offset=".351" stop-color="#fd9869"/><stop offset=".401" stop-color="#feb27a"/><stop offset=".438" stop-color="#febf84"/><stop offset=".476" stop-color="#fec68a"/><stop offset=".536" stop-color="#fec68a"/><stop offset=".559" stop-color="#fec287"/><stop offset=".602" stop-color="#feb67c"/><stop offset=".634" stop-color="#fea772"/><stop offset=".675" stop-color="#fc8e64"/><stop offset=".692" stop-color="#fa815f"/><stop offset=".731" stop-color="#f3655c"/><stop offset=".75" stop-color="#eb5760"/><stop offset=".766" stop-color="#e44f64"/><stop offset=".781" stop-color="#d9466b"/><stop offset=".805" stop-color="#ca3e72"/><stop offset=".827" stop-color="#b83779"/><stop offset=".865" stop-color="#9c2e7f"/><stop offset=".941" stop-color="#6b1d81"/><stop offset="1" stop-color="#491078"/></linearGradient>
<linearGradient id="s86" gradientUnits="userSpaceOnUse" x1="0" y1="11" x2="0" y2="971"><stop offset="0" stop-color="#400f74"/><stop offset=".031" stop-color="#4f127b"/><stop offset=".066" stop-color="#641a80"/><stop offset=".092" stop-color="#721f81"/><stop offset=".143" stop-color="#932b80"/><stop offset=".184" stop-color="#b0357b"/><stop offset=".232" stop-color="#d2426f"/><stop offset=".26" stop-color="#e34e65"/><stop offset=".28" stop-color="#ed5a5f"/><stop offset=".303" stop-color="#f4695c"/><stop offset=".327" stop-color="#f9785d"/><stop offset=".376" stop-color="#fd9668"/><stop offset=".405" stop-color="#fea36f"/><stop offset=".448" stop-color="#feb078"/><stop offset=".489" stop-color="#feb47b"/><stop offset=".49" stop-color="#feb67c"/><stop offset=".523" stop-color="#feb67c"/><stop offset=".524" stop-color="#feb47b"/><stop offset=".543" stop-color="#feb47b"/><stop offset=".579" stop-color="#feac76"/><stop offset=".628" stop-color="#fd9a6a"/><stop offset=".673" stop-color="#fa7f5e"/><stop offset=".693" stop-color="#f8745c"/><stop offset=".701" stop-color="#f66c5c"/><stop offset=".724" stop-color="#f05f5e"/><stop offset=".751" stop-color="#e44f64"/><stop offset=".777" stop-color="#d3436e"/><stop offset=".802" stop-color="#c43c75"/><stop offset=".859" stop-color="#992d80"/><stop offset=".907" stop-color="#792282"/><stop offset=".941" stop-color="#671b80"/><stop offset="1" stop-color="#451077"/></linearGradient>
<linearGradient id="s87" gradientUnits="userSpaceOnUse" x1="0" y1="14" x2="0" y2="971"><stop offset="0" stop-color="#3d0f71"/><stop offset=".025" stop-color="#4a1079"/><stop offset=".061" stop-color="#5d177f"/><stop offset=".142" stop-color="#8c2981"/><stop offset=".195" stop-color="#b0357b"/><stop offset=".241" stop-color="#cf4070"/><stop offset=".277" stop-color="#e34e65"/><stop offset=".29" stop-color="#ea5661"/><stop offset=".336" stop-color="#f66e5c"/><stop offset=".357" stop-color="#f97b5d"/><stop offset=".389" stop-color="#fc8a62"/><stop offset=".426" stop-color="#fd9869"/><stop offset=".475" stop-color="#fea16e"/><stop offset=".534" stop-color="#fea16e"/><stop offset=".596" stop-color="#fd9467"/><stop offset=".641" stop-color="#fa815f"/><stop offset=".662" stop-color="#f8745c"/><stop offset=".711" stop-color="#ed5a5f"/><stop offset=".735" stop-color="#e34e65"/><stop offset=".758" stop-color="#d5446d"/><stop offset=".794" stop-color="#bf3a77"/><stop offset=".809" stop-color="#b3367a"/><stop offset=".857" stop-color="#932b80"/><stop offset=".943" stop-color="#601880"/><stop offset="1" stop-color="#420f75"/></linearGradient>
<linearGradient id="s88" gradientUnits="userSpaceOnUse" x1="0" y1="23" x2="0" y2="970"><stop offset="0" stop-color="#3d0f71"/><stop offset=".025" stop-color="#4a1079"/><stop offset=".057" stop-color="#5a167e"/><stop offset=".148" stop-color="#8c2981"/><stop offset=".212" stop-color="#b5367a"/><stop offset=".249" stop-color="#cd4071"/><stop offset=".291" stop-color="#e34e65"/><stop offset=".347" stop-color="#f4675c"/><stop offset=".401" stop-color="#fa7d5e"/><stop offset=".436" stop-color="#fb8761"/><stop offset=".476" stop-color="#fc8c63"/><stop offset=".525" stop-color="#fc8c63"/><stop offset=".581" stop-color="#fb835f"/><stop offset=".649" stop-color="#f4695c"/><stop offset=".697" stop-color="#e85362"/><stop offset=".743" stop-color="#d2426f"/><stop offset=".784" stop-color="#b83779"/><stop offset=".853" stop-color="#8c2981"/><stop offset=".944" stop-color="#5a167e"/><stop offset=".979" stop-color="#491078"/><stop offset="1" stop-color="#3d0f71"/></linearGradient>
<linearGradient id="s89" gradientUnits="userSpaceOnUse" x1="0" y1="34" x2="0" y2="960"><stop offset="0" stop-color="#3d0f71"/><stop offset=".015" stop-color="#451077"/><stop offset=".056" stop-color="#59157e"/><stop offset=".141" stop-color="#842681"/><stop offset=".22" stop-color="#b2357b"/><stop offset=".297" stop-color="#db476a"/><stop offset=".337" stop-color="#e95462"/><stop offset=".373" stop-color="#f1605d"/><stop offset=".421" stop-color="#f66e5c"/><stop offset=".47" stop-color="#f8765c"/><stop offset=".531" stop-color="#f8765c"/><stop offset=".532" stop-color="#f8745c"/><stop offset=".57" stop-color="#f7705c"/><stop offset=".633" stop-color="#f05f5e"/><stop offset=".686" stop-color="#e24d66"/><stop offset=".732" stop-color="#cd4071"/><stop offset=".771" stop-color="#b73779"/><stop offset=".85" stop-color="#892881"/><stop offset=".941" stop-color="#5a167e"/><stop offset=".971" stop-color="#4c117a"/><stop offset="1" stop-color="#3d0f71"/></linearGradient>
<linearGradient id="s90" gradientUnits="userSpaceOnUse" x1="0" y1="46" x2="0" y2="948"><stop offset="0" stop-color="#3f0f72"/><stop offset=".027" stop-color="#4a1079"/><stop offset=".062" stop-color="#5a167e"/><stop offset=".147" stop-color="#832681"/><stop offset=".223" stop-color="#aa337d"/><stop offset=".269" stop-color="#c23b75"/><stop offset=".31" stop-color="#d3436e"/><stop offset=".345" stop-color="#df4a68"/><stop offset=".388" stop-color="#e95462"/><stop offset=".472" stop-color="#f1605d"/><stop offset=".529" stop-color="#f1605d"/><stop offset=".583" stop-color="#ed5a5f"/><stop offset=".631" stop-color="#e55064"/><stop offset=".674" stop-color="#d9466b"/><stop offset=".724" stop-color="#c53c74"/><stop offset=".765" stop-color="#b0357b"/><stop offset=".846" stop-color="#862781"/><stop offset=".935" stop-color="#5c167f"/><stop offset=".97" stop-color="#4c117a"/><stop offset="1" stop-color="#3f0f72"/></linearGradient>
<linearGradient id="s91" gradientUnits="userSpaceOnUse" x1="0" y1="60" x2="0" y2="935"><stop offset="0" stop-color="#3f0f72"/><stop offset=".058" stop-color="#57157e"/><stop offset=".143" stop-color="#7c2382"/><stop offset=".23" stop-color="#a3307e"/><stop offset=".264" stop-color="#b3367a"/><stop offset=".325" stop-color="#ca3e72"/><stop offset=".406" stop-color="#de4968"/><stop offset=".486" stop-color="#e44f64"/><stop offset=".585" stop-color="#df4a68"/><stop offset=".625" stop-color="#d8456c"/><stop offset=".675" stop-color="#ca3e72"/><stop offset=".762" stop-color="#a8327d"/><stop offset=".854" stop-color="#7c2382"/><stop offset=".945" stop-color="#56147d"/><stop offset=".968" stop-color="#4a1079"/><stop offset="1" stop-color="#3f0f72"/></linearGradient>
<linearGradient id="s92" gradientUnits="userSpaceOnUse" x1="0" y1="75" x2="0" y2="919"><stop offset="0" stop-color="#3f0f72"/><stop offset=".051" stop-color="#52137c"/><stop offset=".118" stop-color="#6d1d81"/><stop offset=".212" stop-color="#912b81"/><stop offset=".302" stop-color="#b3367a"/><stop offset=".376" stop-color="#c73d73"/><stop offset=".461" stop-color="#d2426f"/><stop offset=".562" stop-color="#d0416f"/><stop offset=".609" stop-color="#ca3e72"/><stop offset=".654" stop-color="#c03a76"/><stop offset=".729" stop-color="#aa337d"/><stop offset=".859" stop-color="#762181"/><stop offset=".945" stop-color="#54137d"/><stop offset="1" stop-color="#3f0f72"/></linearGradient>
<linearGradient id="s93" gradientUnits="userSpaceOnUse" x1="0" y1="93" x2="0" y2="902"><stop offset="0" stop-color="#3f0f72"/><stop offset=".051" stop-color="#51127c"/><stop offset=".117" stop-color="#681c81"/><stop offset=".302" stop-color="#a5317e"/><stop offset=".396" stop-color="#b83779"/><stop offset=".466" stop-color="#bf3a77"/><stop offset=".562" stop-color="#bd3977"/><stop offset=".666" stop-color="#ad347c"/><stop offset=".749" stop-color="#962c80"/><stop offset=".874" stop-color="#6b1d81"/><stop offset=".954" stop-color="#4f127b"/><stop offset="1" stop-color="#3f0f72"/></linearGradient>
<linearGradient id="s94" gradientUnits="userSpaceOnUse" x1="0" y1="114" x2="0" y2="882"><stop offset="0" stop-color="#3f0f72"/><stop offset=".039" stop-color="#4c117a"/><stop offset=".107" stop-color="#601880"/><stop offset=".286" stop-color="#932b80"/><stop offset=".384" stop-color="#a5317e"/><stop offset=".462" stop-color="#ab337c"/><stop offset=".568" stop-color="#aa337d"/><stop offset=".676" stop-color="#9b2e7f"/><stop offset=".764" stop-color="#862781"/><stop offset=".883" stop-color="#641a80"/><stop offset=".954" stop-color="#4e117b"/><stop offset="1" stop-color="#3f0f72"/></linearGradient>
<linearGradient id="s95" gradientUnits="userSpaceOnUse" x1="0" y1="137" x2="0" y2="858"><stop offset="0" stop-color="#3f0f72"/><stop offset=".026" stop-color="#471078"/><stop offset=".093" stop-color="#59157e"/><stop offset=".258" stop-color="#802582"/><stop offset=".341" stop-color="#8e2a81"/><stop offset=".444" stop-color="#982d80"/><stop offset=".559" stop-color="#982d80"/><stop offset=".682" stop-color="#8b2981"/><stop offset=".774" stop-color="#792282"/><stop offset=".89" stop-color="#5d177f"/><stop offset=".963" stop-color="#4a1079"/><stop offset="1" stop-color="#3f0f72"/></linearGradient>
<linearGradient id="s96" gradientUnits="userSpaceOnUse" x1="0" y1="165" x2="0" y2="831"><stop offset="0" stop-color="#400f74"/><stop offset=".11" stop-color="#59157e"/><stop offset=".261" stop-color="#752181"/><stop offset=".365" stop-color="#812581"/><stop offset=".441" stop-color="#862781"/><stop offset=".562" stop-color="#862781"/><stop offset=".682" stop-color="#7c2382"/><stop offset=".769" stop-color="#701f81"/><stop offset=".883" stop-color="#5a167e"/><stop offset="1" stop-color="#400f74"/></linearGradient>
<linearGradient id="s97" gradientUnits="userSpaceOnUse" x1="0" y1="197" x2="0" y2="799"><stop offset="0" stop-color="#400f74"/><stop offset=".108" stop-color="#54137d"/><stop offset=".267" stop-color="#6a1c81"/><stop offset=".38" stop-color="#732081"/><stop offset=".473" stop-color="#762181"/><stop offset=".591" stop-color="#752181"/><stop offset=".704" stop-color="#6d1d81"/><stop offset=".882" stop-color="#56147d"/><stop offset="1" stop-color="#400f74"/></linearGradient>
<linearGradient id="s98" gradientUnits="userSpaceOnUse" x1="0" y1="211" x2="0" y2="781"><stop offset="0" stop-color="#400f74"/><stop offset=".098" stop-color="#51127c"/><stop offset=".237" stop-color="#621980"/><stop offset=".426" stop-color="#6e1e81"/><stop offset=".572" stop-color="#6e1e81"/><stop offset=".693" stop-color="#681c81"/><stop offset=".854" stop-color="#57157e"/><stop offset="1" stop-color="#400f74"/></linearGradient>
<linearGradient id="s99" gradientUnits="userSpaceOnUse" x1="0" y1="177" x2="0" y2="814"><stop offset="0" stop-color="#400f74"/><stop offset=".104" stop-color="#56147d"/><stop offset=".243" stop-color="#6d1d81"/><stop offset=".338" stop-color="#782281"/><stop offset=".441" stop-color="#7e2482"/><stop offset=".559" stop-color="#7e2482"/><stop offset=".708" stop-color="#732081"/><stop offset=".889" stop-color="#57157e"/><stop offset="1" stop-color="#400f74"/></linearGradient>
<linearGradient id="s100" gradientUnits="userSpaceOnUse" x1="0" y1="149" x2="0" y2="843"><stop offset="0" stop-color="#400f74"/><stop offset=".099" stop-color="#59157e"/><stop offset=".272" stop-color="#7c2382"/><stop offset=".383" stop-color="#8b2981"/><stop offset=".504" stop-color="#902a81"/><stop offset=".506" stop-color="#8e2a81"/><stop offset=".615" stop-color="#8b2981"/><stop offset=".726" stop-color="#7c2382"/><stop offset=".906" stop-color="#57157e"/><stop offset=".965" stop-color="#491078"/><stop offset="1" stop-color="#3f0f72"/></linearGradient>
<linearGradient id="s101" gradientUnits="userSpaceOnUse" x1="0" y1="125" x2="0" y2="866"><stop offset="0" stop-color="#3f0f72"/><stop offset=".042" stop-color="#4c117a"/><stop offset=".092" stop-color="#5a167e"/><stop offset=".269" stop-color="#882781"/><stop offset=".358" stop-color="#982d80"/><stop offset=".443" stop-color="#a02f7f"/><stop offset=".557" stop-color="#a02f7f"/><stop offset=".683" stop-color="#912b81"/><stop offset=".773" stop-color="#7e2482"/><stop offset=".897" stop-color="#5d177f"/><stop offset=".97" stop-color="#491078"/><stop offset="1" stop-color="#3f0f72"/></linearGradient>
<linearGradient id="s102" gradientUnits="userSpaceOnUse" x1="0" y1="104" x2="0" y2="887"><stop offset="0" stop-color="#3f0f72"/><stop offset=".043" stop-color="#4e117b"/><stop offset=".111" stop-color="#641a80"/><stop offset=".231" stop-color="#892881"/><stop offset=".304" stop-color="#9c2e7f"/><stop offset=".36" stop-color="#a8327d"/><stop offset=".406" stop-color="#ae347b"/><stop offset=".484" stop-color="#b3367a"/><stop offset=".577" stop-color="#b0357b"/><stop offset=".682" stop-color="#a02f7f"/><stop offset=".769" stop-color="#892881"/><stop offset=".889" stop-color="#641a80"/><stop offset=".957" stop-color="#4e117b"/><stop offset="1" stop-color="#3f0f72"/></linearGradient>
<linearGradient id="s103" gradientUnits="userSpaceOnUse" x1="0" y1="86" x2="0" y2="905"><stop offset="0" stop-color="#3f0f72"/><stop offset=".04" stop-color="#4e117b"/><stop offset=".114" stop-color="#681c81"/><stop offset=".211" stop-color="#8b2981"/><stop offset=".295" stop-color="#a8327d"/><stop offset=".387" stop-color="#bd3977"/><stop offset=".465" stop-color="#c53c74"/><stop offset=".56" stop-color="#c43c75"/><stop offset=".623" stop-color="#bc3978"/><stop offset=".662" stop-color="#b3367a"/><stop offset=".726" stop-color="#a1307e"/><stop offset=".866" stop-color="#701f81"/><stop offset=".951" stop-color="#51127c"/><stop offset="1" stop-color="#3f0f72"/></linearGradient>
<linearGradient id="s104" gradientUnits="userSpaceOnUse" x1="0" y1="71" x2="0" y2="921"><stop offset="0" stop-color="#3f0f72"/><stop offset=".049" stop-color="#52137c"/><stop offset=".122" stop-color="#701f81"/><stop offset=".213" stop-color="#942c80"/><stop offset=".299" stop-color="#b73779"/><stop offset=".375" stop-color="#cc3f71"/><stop offset=".455" stop-color="#d6456c"/><stop offset=".544" stop-color="#d6456c"/><stop offset=".576" stop-color="#d3436e"/><stop offset=".624" stop-color="#cc3f71"/><stop offset=".68" stop-color="#bd3977"/><stop offset=".741" stop-color="#a8327d"/><stop offset=".782" stop-color="#962c80"/><stop offset=".865" stop-color="#752181"/><stop offset=".946" stop-color="#54137d"/><stop offset="1" stop-color="#3f0f72"/></linearGradient>
<linearGradient id="s105" gradientUnits="userSpaceOnUse" x1="0" y1="57" x2="0" y2="934"><stop offset="0" stop-color="#3f0f72"/><stop offset=".058" stop-color="#57157e"/><stop offset=".135" stop-color="#792282"/><stop offset=".219" stop-color="#a02f7f"/><stop offset=".303" stop-color="#c53c74"/><stop offset=".382" stop-color="#dc4869"/><stop offset=".424" stop-color="#e34e65"/><stop offset=".478" stop-color="#e75263"/><stop offset=".576" stop-color="#e34e65"/><stop offset=".625" stop-color="#db476a"/><stop offset=".669" stop-color="#cf4070"/><stop offset=".741" stop-color="#b3367a"/><stop offset=".849" stop-color="#802582"/><stop offset=".938" stop-color="#59157e"/><stop offset="1" stop-color="#3f0f72"/></linearGradient>
<linearGradient id="s106" gradientUnits="userSpaceOnUse" x1="0" y1="45" x2="0" y2="946"><stop offset="0" stop-color="#3d0f71"/><stop offset=".02" stop-color="#471078"/><stop offset=".059" stop-color="#59157e"/><stop offset=".148" stop-color="#832681"/><stop offset=".219" stop-color="#a8327d"/><stop offset=".257" stop-color="#bd3977"/><stop offset=".32" stop-color="#d8456c"/><stop offset=".383" stop-color="#e95462"/><stop offset=".428" stop-color="#ef5d5e"/><stop offset=".475" stop-color="#f2625d"/><stop offset=".525" stop-color="#f2625d"/><stop offset=".582" stop-color="#ee5b5e"/><stop offset=".624" stop-color="#e85362"/><stop offset=".668" stop-color="#dc4869"/><stop offset=".729" stop-color="#c43c75"/><stop offset=".788" stop-color="#a5317e"/><stop offset=".844" stop-color="#882781"/><stop offset=".938" stop-color="#5a167e"/><stop offset=".977" stop-color="#491078"/><stop offset="1" stop-color="#3d0f71"/></linearGradient>
<linearGradient id="s107" gradientUnits="userSpaceOnUse" x1="0" y1="35" x2="0" y2="956"><stop offset="0" stop-color="#3d0f71"/><stop offset=".026" stop-color="#4a1079"/><stop offset=".06" stop-color="#5a167e"/><stop offset=".151" stop-color="#892881"/><stop offset=".225" stop-color="#b3367a"/><stop offset=".257" stop-color="#c73d73"/><stop offset=".313" stop-color="#e04c67"/><stop offset=".347" stop-color="#eb5760"/><stop offset=".391" stop-color="#f3655c"/><stop offset=".446" stop-color="#f7725c"/><stop offset=".491" stop-color="#f8745c"/><stop offset=".492" stop-color="#f8765c"/><stop offset=".539" stop-color="#f8745c"/><stop offset=".574" stop-color="#f66e5c"/><stop offset=".635" stop-color="#ef5d5e"/><stop offset=".684" stop-color="#e24d66"/><stop offset=".731" stop-color="#cd4071"/><stop offset=".77" stop-color="#b73779"/><stop offset=".849" stop-color="#892881"/><stop offset=".94" stop-color="#5a167e"/><stop offset=".971" stop-color="#4c117a"/><stop offset="1" stop-color="#3d0f71"/></linearGradient>
<linearGradient id="s108" gradientUnits="userSpaceOnUse" x1="0" y1="27" x2="0" y2="965"><stop offset="0" stop-color="#3d0f71"/><stop offset=".025" stop-color="#4a1079"/><stop offset=".057" stop-color="#5a167e"/><stop offset=".151" stop-color="#8e2a81"/><stop offset=".204" stop-color="#ae347b"/><stop offset=".255" stop-color="#cd4071"/><stop offset=".305" stop-color="#e75263"/><stop offset=".354" stop-color="#f4675c"/><stop offset=".407" stop-color="#f97b5d"/><stop offset=".437" stop-color="#fb835f"/><stop offset=".484" stop-color="#fb8761"/><stop offset=".485" stop-color="#fc8961"/><stop offset=".538" stop-color="#fb8761"/><stop offset=".539" stop-color="#fb8560"/><stop offset=".579" stop-color="#fa7f5e"/><stop offset=".645" stop-color="#f4675c"/><stop offset=".694" stop-color="#e75263"/><stop offset=".722" stop-color="#d9466b"/><stop offset=".744" stop-color="#cf4070"/><stop offset=".783" stop-color="#b73779"/><stop offset=".851" stop-color="#8c2981"/><stop offset=".942" stop-color="#5a167e"/><stop offset=".974" stop-color="#4a1079"/><stop offset="1" stop-color="#3d0f71"/></linearGradient>
<linearGradient id="s109" gradientUnits="userSpaceOnUse" x1="0" y1="19" x2="0" y2="971"><stop offset="0" stop-color="#3d0f71"/><stop offset=".025" stop-color="#4a1079"/><stop offset=".056" stop-color="#5a167e"/><stop offset=".144" stop-color="#8c2981"/><stop offset=".201" stop-color="#b2357b"/><stop offset=".248" stop-color="#d0416f"/><stop offset=".264" stop-color="#db476a"/><stop offset=".296" stop-color="#ea5661"/><stop offset=".339" stop-color="#f66c5c"/><stop offset=".39" stop-color="#fb8560"/><stop offset=".438" stop-color="#fd9467"/><stop offset=".475" stop-color="#fd9869"/><stop offset=".476" stop-color="#fd9a6a"/><stop offset=".525" stop-color="#fd9a6a"/><stop offset=".526" stop-color="#fd9869"/><stop offset=".542" stop-color="#fd9869"/><stop offset=".579" stop-color="#fc9065"/><stop offset=".621" stop-color="#fa815f"/><stop offset=".645" stop-color="#f8745c"/><stop offset=".696" stop-color="#ed5a5f"/><stop offset=".727" stop-color="#e04c67"/><stop offset=".758" stop-color="#cd4071"/><stop offset=".778" stop-color="#c23b75"/><stop offset=".806" stop-color="#ae347b"/><stop offset=".848" stop-color="#932b80"/><stop offset=".896" stop-color="#752181"/><stop offset=".94" stop-color="#5d177f"/><stop offset=".98" stop-color="#491078"/><stop offset="1" stop-color="#3f0f72"/></linearGradient>
<linearGradient id="s110" gradientUnits="userSpaceOnUse" x1="0" y1="13" x2="0" y2="971"><stop offset="0" stop-color="#3d0f71"/><stop offset=".015" stop-color="#451077"/><stop offset=".054" stop-color="#5a167e"/><stop offset=".09" stop-color="#6d1d81"/><stop offset=".145" stop-color="#902a81"/><stop offset=".19" stop-color="#ae347b"/><stop offset=".237" stop-color="#cf4070"/><stop offset=".264" stop-color="#e04c67"/><stop offset=".287" stop-color="#eb5760"/><stop offset=".336" stop-color="#f8745c"/><stop offset=".395" stop-color="#fd9467"/><stop offset=".426" stop-color="#fe9f6d"/><stop offset=".471" stop-color="#fea772"/><stop offset=".472" stop-color="#fea973"/><stop offset=".535" stop-color="#fea973"/><stop offset=".537" stop-color="#fea772"/><stop offset=".559" stop-color="#fea571"/><stop offset=".588" stop-color="#fe9d6c"/><stop offset=".634" stop-color="#fc8a62"/><stop offset=".662" stop-color="#f9795d"/><stop offset=".713" stop-color="#ee5b5e"/><stop offset=".741" stop-color="#e24d66"/><stop offset=".768" stop-color="#d0416f"/><stop offset=".815" stop-color="#b0357b"/><stop offset=".86" stop-color="#912b81"/><stop offset=".945" stop-color="#5f187f"/><stop offset=".977" stop-color="#4e117b"/><stop offset="1" stop-color="#400f74"/></linearGradient>
<linearGradient id="s111" gradientUnits="userSpaceOnUse" x1="0" y1="11" x2="0" y2="971"><stop offset="0" stop-color="#3f0f72"/><stop offset=".027" stop-color="#4e117b"/><stop offset=".056" stop-color="#5d177f"/><stop offset=".096" stop-color="#732081"/><stop offset=".14" stop-color="#902a81"/><stop offset=".183" stop-color="#ae347b"/><stop offset=".224" stop-color="#cc3f71"/><stop offset=".256" stop-color="#e04c67"/><stop offset=".273" stop-color="#ea5661"/><stop offset=".287" stop-color="#ef5d5e"/><stop offset=".303" stop-color="#f4695c"/><stop offset=".332" stop-color="#f97b5d"/><stop offset=".335" stop-color="#fa7f5e"/><stop offset=".381" stop-color="#fd9a6a"/><stop offset=".441" stop-color="#feb078"/><stop offset=".486" stop-color="#feb77e"/><stop offset=".523" stop-color="#feb77e"/><stop offset=".57" stop-color="#feb078"/><stop offset=".632" stop-color="#fd9869"/><stop offset=".677" stop-color="#fa7d5e"/><stop offset=".68" stop-color="#f9795d"/><stop offset=".715" stop-color="#f2645c"/><stop offset=".72" stop-color="#f05f5e"/><stop offset=".742" stop-color="#e85362"/><stop offset=".77" stop-color="#d6456c"/><stop offset=".808" stop-color="#bc3978"/><stop offset=".856" stop-color="#992d80"/><stop offset=".94" stop-color="#651a80"/><stop offset="1" stop-color="#440f76"/></linearGradient>
<linearGradient id="s112" gradientUnits="userSpaceOnUse" x1="0" y1="11" x2="0" y2="971"><stop offset="0" stop-color="#400f74"/><stop offset=".034" stop-color="#52137c"/><stop offset=".062" stop-color="#641a80"/><stop offset=".078" stop-color="#6b1d81"/><stop offset=".139" stop-color="#932b80"/><stop offset=".183" stop-color="#b3367a"/><stop offset=".221" stop-color="#cf4070"/><stop offset=".252" stop-color="#e34e65"/><stop offset=".264" stop-color="#ea5661"/><stop offset=".29" stop-color="#f4675c"/><stop offset=".322" stop-color="#fa7d5e"/><stop offset=".342" stop-color="#fc8c63"/><stop offset=".373" stop-color="#fe9f6d"/><stop offset=".412" stop-color="#feb27a"/><stop offset=".448" stop-color="#febd82"/><stop offset=".483" stop-color="#fec287"/><stop offset=".527" stop-color="#fec287"/><stop offset=".561" stop-color="#febd82"/><stop offset=".597" stop-color="#feb27a"/><stop offset=".633" stop-color="#fea16e"/><stop offset=".682" stop-color="#fa815f"/><stop offset=".725" stop-color="#f2645c"/><stop offset=".74" stop-color="#ec5860"/><stop offset=".753" stop-color="#e75263"/><stop offset=".782" stop-color="#d3436e"/><stop offset=".802" stop-color="#c73d73"/><stop offset=".82" stop-color="#b83779"/><stop offset=".865" stop-color="#982d80"/><stop offset=".904" stop-color="#7c2382"/><stop offset=".942" stop-color="#671b80"/><stop offset="1" stop-color="#451077"/></linearGradient>
<linearGradient id="s113" gradientUnits="userSpaceOnUse" x1="0" y1="11" x2="0" y2="971"><stop offset="0" stop-color="#420f75"/><stop offset=".059" stop-color="#641a80"/><stop offset=".09" stop-color="#752181"/><stop offset=".136" stop-color="#942c80"/><stop offset=".178" stop-color="#b3367a"/><stop offset=".226" stop-color="#d6456c"/><stop offset=".248" stop-color="#e44f64"/><stop offset=".275" stop-color="#f2625d"/><stop offset=".316" stop-color="#fa7f5e"/><stop offset=".351" stop-color="#fd9a6a"/><stop offset=".391" stop-color="#feb078"/><stop offset=".444" stop-color="#fec488"/><stop offset=".47" stop-color="#feca8d"/><stop offset=".486" stop-color="#feca8d"/><stop offset=".487" stop-color="#fecc8f"/><stop offset=".54" stop-color="#feca8d"/><stop offset=".567" stop-color="#fec488"/><stop offset=".599" stop-color="#feb97f"/><stop offset=".63" stop-color="#feaa74"/><stop offset=".665" stop-color="#fd9668"/><stop offset=".692" stop-color="#fa815f"/><stop offset=".717" stop-color="#f66e5c"/><stop offset=".742" stop-color="#ef5d5e"/><stop offset=".755" stop-color="#e85362"/><stop offset=".777" stop-color="#dc4869"/><stop offset=".793" stop-color="#d0416f"/><stop offset=".831" stop-color="#b3367a"/><stop offset=".869" stop-color="#982d80"/><stop offset=".91" stop-color="#7b2382"/><stop offset=".943" stop-color="#681c81"/><stop offset="1" stop-color="#471078"/></linearGradient>
<linearGradient id="s114" gradientUnits="userSpaceOnUse" x1="0" y1="11" x2="0" y2="971"><stop offset="0" stop-color="#440f76"/><stop offset=".032" stop-color="#54137d"/><stop offset=".062" stop-color="#671b80"/><stop offset=".097" stop-color="#7b2382"/><stop offset=".143" stop-color="#9b2e7f"/><stop offset=".175" stop-color="#b3367a"/><stop offset=".216" stop-color="#d2426f"/><stop offset=".244" stop-color="#e44f64"/><stop offset=".264" stop-color="#ef5d5e"/><stop offset=".284" stop-color="#f66c5c"/><stop offset=".307" stop-color="#fa7d5e"/><stop offset=".335" stop-color="#fd9467"/><stop offset=".38" stop-color="#feb078"/><stop offset=".43" stop-color="#fec68a"/><stop offset=".479" stop-color="#fed194"/><stop offset=".544" stop-color="#fecf92"/><stop offset=".599" stop-color="#febf84"/><stop offset=".66" stop-color="#fe9d6c"/><stop offset=".688" stop-color="#fc8961"/><stop offset=".715" stop-color="#f8745c"/><stop offset=".74" stop-color="#f2625d"/><stop offset=".757" stop-color="#e95462"/><stop offset=".79" stop-color="#d5446d"/><stop offset=".83" stop-color="#b73779"/><stop offset=".87" stop-color="#992d80"/><stop offset=".945" stop-color="#681c81"/><stop offset="1" stop-color="#491078"/></linearGradient>
<linearGradient id="s115" gradientUnits="userSpaceOnUse" x1="0" y1="11" x2="0" y2="971"><stop offset="0" stop-color="#440f76"/><stop offset=".026" stop-color="#52137c"/><stop offset=".061" stop-color="#671b80"/><stop offset=".091" stop-color="#782281"/><stop offset=".134" stop-color="#962c80"/><stop offset=".18" stop-color="#b83779"/><stop offset=".216" stop-color="#d3436e"/><stop offset=".242" stop-color="#e44f64"/><stop offset=".266" stop-color="#f1605d"/><stop offset=".287" stop-color="#f7705c"/><stop offset=".311" stop-color="#fb835f"/><stop offset=".343" stop-color="#fd9b6b"/><stop offset=".385" stop-color="#feb67c"/><stop offset=".438" stop-color="#fecc8f"/><stop offset=".48" stop-color="#fed597"/><stop offset=".542" stop-color="#fed395"/><stop offset=".593" stop-color="#fec488"/><stop offset=".65" stop-color="#fea772"/><stop offset=".689" stop-color="#fc8a62"/><stop offset=".691" stop-color="#fc8a62"/><stop offset=".713" stop-color="#f9785d"/><stop offset=".738" stop-color="#f3655c"/><stop offset=".764" stop-color="#e85362"/><stop offset=".79" stop-color="#d6456c"/><stop offset=".83" stop-color="#b83779"/><stop offset=".871" stop-color="#992d80"/><stop offset=".946" stop-color="#681c81"/><stop offset="1" stop-color="#491078"/></linearGradient>
<linearGradient id="s116" gradientUnits="userSpaceOnUse" x1="0" y1="11" x2="0" y2="971"><stop offset="0" stop-color="#440f76"/><stop offset=".058" stop-color="#651a80"/><stop offset=".091" stop-color="#782281"/><stop offset=".134" stop-color="#962c80"/><stop offset=".173" stop-color="#b3367a"/><stop offset=".216" stop-color="#d3436e"/><stop offset=".243" stop-color="#e55064"/><stop offset=".268" stop-color="#f2625d"/><stop offset=".29" stop-color="#f7725c"/><stop offset=".316" stop-color="#fb8761"/><stop offset=".345" stop-color="#fe9d6c"/><stop offset=".384" stop-color="#feb67c"/><stop offset=".435" stop-color="#fecc8f"/><stop offset=".474" stop-color="#fed597"/><stop offset=".491" stop-color="#fed597"/><stop offset=".492" stop-color="#fed799"/><stop offset=".519" stop-color="#fed799"/><stop offset=".52" stop-color="#fed597"/><stop offset=".554" stop-color="#fed194"/><stop offset=".615" stop-color="#febb81"/><stop offset=".659" stop-color="#fea16e"/><stop offset=".699" stop-color="#fb835f"/><stop offset=".725" stop-color="#f66e5c"/><stop offset=".747" stop-color="#f05f5e"/><stop offset=".769" stop-color="#e44f64"/><stop offset=".793" stop-color="#d5446d"/><stop offset=".83" stop-color="#b83779"/><stop offset=".867" stop-color="#9c2e7f"/><stop offset=".915" stop-color="#7b2382"/><stop offset=".944" stop-color="#6a1c81"/><stop offset="1" stop-color="#491078"/></linearGradient>
<linearGradient id="s117" gradientUnits="userSpaceOnUse" x1="0" y1="11" x2="0" y2="971"><stop offset="0" stop-color="#440f76"/><stop offset=".034" stop-color="#56147d"/><stop offset=".061" stop-color="#671b80"/><stop offset=".103" stop-color="#802582"/><stop offset=".142" stop-color="#9b2e7f"/><stop offset=".176" stop-color="#b5367a"/><stop offset=".219" stop-color="#d5446d"/><stop offset=".255" stop-color="#eb5760"/><stop offset=".269" stop-color="#f2625d"/><stop offset=".289" stop-color="#f7705c"/><stop offset=".312" stop-color="#fb835f"/><stop offset=".344" stop-color="#fd9b6b"/><stop offset=".383" stop-color="#feb47b"/><stop offset=".434" stop-color="#feca8d"/><stop offset=".492" stop-color="#fed597"/><stop offset=".518" stop-color="#fed597"/><stop offset=".555" stop-color="#fecf92"/><stop offset=".591" stop-color="#fec488"/><stop offset=".616" stop-color="#feb97f"/><stop offset=".66" stop-color="#fe9f6d"/><stop offset=".7" stop-color="#fa815f"/><stop offset=".724" stop-color="#f66e5c"/><stop offset=".748" stop-color="#ef5d5e"/><stop offset=".77" stop-color="#e34e65"/><stop offset=".796" stop-color="#d2426f"/><stop offset=".829" stop-color="#b83779"/><stop offset=".873" stop-color="#982d80"/><stop offset=".911" stop-color="#7c2382"/><stop offset=".946" stop-color="#681c81"/><stop offset="1" stop-color="#491078"/></linearGradient>
<linearGradient id="s118" gradientUnits="userSpaceOnUse" x1="0" y1="11" x2="0" y2="971"><stop offset="0" stop-color="#420f75"/><stop offset=".055" stop-color="#621980"/><stop offset=".078" stop-color="#6e1e81"/><stop offset=".134" stop-color="#942c80"/><stop offset=".172" stop-color="#b0357b"/><stop offset=".217" stop-color="#d2426f"/><stop offset=".243" stop-color="#e34e65"/><stop offset=".27" stop-color="#f1605d"/><stop offset=".292" stop-color="#f7705c"/><stop offset=".317" stop-color="#fb835f"/><stop offset=".349" stop-color="#fd9b6b"/><stop offset=".383" stop-color="#feb078"/><stop offset=".43" stop-color="#fec488"/><stop offset=".48" stop-color="#fecf92"/><stop offset=".543" stop-color="#fecd90"/><stop offset=".595" stop-color="#febf84"/><stop offset=".652" stop-color="#fea16e"/><stop offset=".683" stop-color="#fc8a62"/><stop offset=".691" stop-color="#fb8761"/><stop offset=".71" stop-color="#f8765c"/><stop offset=".733" stop-color="#f3655c"/><stop offset=".762" stop-color="#e75263"/><stop offset=".789" stop-color="#d5446d"/><stop offset=".829" stop-color="#b73779"/><stop offset=".869" stop-color="#992d80"/><stop offset=".915" stop-color="#792282"/><stop offset=".942" stop-color="#6a1c81"/><stop offset=".96" stop-color="#5d177f"/><stop offset="1" stop-color="#491078"/></linearGradient>
<linearGradient id="s119" gradientUnits="userSpaceOnUse" x1="0" y1="11" x2="0" y2="971"><stop offset="0" stop-color="#420f75"/><stop offset=".035" stop-color="#54137d"/><stop offset=".06" stop-color="#641a80"/><stop offset=".096" stop-color="#782281"/><stop offset=".135" stop-color="#932b80"/><stop offset=".18" stop-color="#b3367a"/><stop offset=".212" stop-color="#cc3f71"/><stop offset=".239" stop-color="#de4968"/><stop offset=".261" stop-color="#eb5760"/><stop offset=".284" stop-color="#f4675c"/><stop offset=".314" stop-color="#f97b5d"/><stop offset=".319" stop-color="#fa815f"/><stop offset=".349" stop-color="#fd9668"/><stop offset=".4" stop-color="#feb27a"/><stop offset=".441" stop-color="#fec185"/><stop offset=".479" stop-color="#fec88c"/><stop offset=".53" stop-color="#fec88c"/><stop offset=".562" stop-color="#fec287"/><stop offset=".597" stop-color="#feb77e"/><stop offset=".632" stop-color="#fea772"/><stop offset=".683" stop-color="#fb8560"/><stop offset=".73" stop-color="#f2645c"/><stop offset=".753" stop-color="#e85362"/><stop offset=".784" stop-color="#d5446d"/><stop offset=".819" stop-color="#bc3978"/><stop offset=".858" stop-color="#9e2f7f"/><stop offset=".936" stop-color="#6b1d81"/><stop offset="1" stop-color="#471078"/></linearGradient>
<linearGradient id="s120" gradientUnits="userSpaceOnUse" x1="0" y1="11" x2="0" y2="971"><stop offset="0" stop-color="#400f74"/><stop offset=".03" stop-color="#4f127b"/><stop offset=".061" stop-color="#621980"/><stop offset=".087" stop-color="#701f81"/><stop offset=".143" stop-color="#942c80"/><stop offset=".181" stop-color="#b0357b"/><stop offset=".215" stop-color="#c83e73"/><stop offset=".228" stop-color="#d3436e"/><stop offset=".265" stop-color="#e95462"/><stop offset=".291" stop-color="#f3655c"/><stop offset=".321" stop-color="#f9795d"/><stop offset=".324" stop-color="#fa7d5e"/><stop offset=".366" stop-color="#fd9869"/><stop offset=".423" stop-color="#feb27a"/><stop offset=".457" stop-color="#febb81"/><stop offset=".486" stop-color="#febf84"/><stop offset=".523" stop-color="#febf84"/><stop offset=".569" stop-color="#feb77e"/><stop offset=".602" stop-color="#feac76"/><stop offset=".637" stop-color="#fd9b6b"/><stop offset=".672" stop-color="#fb8761"/><stop offset=".683" stop-color="#fa7d5e"/><stop offset=".724" stop-color="#f2625d"/><stop offset=".739" stop-color="#eb5760"/><stop offset=".75" stop-color="#e75263"/><stop offset=".773" stop-color="#d8456c"/><stop offset=".822" stop-color="#b5367a"/><stop offset=".863" stop-color="#982d80"/><stop offset=".938" stop-color="#681c81"/><stop offset=".971" stop-color="#54137d"/><stop offset="1" stop-color="#451077"/></linearGradient>
<linearGradient id="s121" gradientUnits="userSpaceOnUse" x1="0" y1="11" x2="0" y2="971"><stop offset="0" stop-color="#3d0f71"/><stop offset=".023" stop-color="#4a1079"/><stop offset=".058" stop-color="#5d177f"/><stop offset=".14" stop-color="#8e2a81"/><stop offset=".189" stop-color="#b0357b"/><stop offset=".234" stop-color="#d0416f"/><stop offset=".251" stop-color="#dc4869"/><stop offset=".282" stop-color="#ec5860"/><stop offset=".305" stop-color="#f4675c"/><stop offset=".339" stop-color="#f97b5d"/><stop offset=".345" stop-color="#fa815f"/><stop offset=".382" stop-color="#fd9668"/><stop offset=".424" stop-color="#fea772"/><stop offset=".445" stop-color="#feac76"/><stop offset=".478" stop-color="#feb27a"/><stop offset=".532" stop-color="#feb27a"/><stop offset=".573" stop-color="#feaa74"/><stop offset=".631" stop-color="#fd9467"/><stop offset=".675" stop-color="#f9795d"/><stop offset=".713" stop-color="#f2625d"/><stop offset=".73" stop-color="#ea5661"/><stop offset=".745" stop-color="#e44f64"/><stop offset=".771" stop-color="#d3436e"/><stop offset=".782" stop-color="#cd4071"/><stop offset=".815" stop-color="#b5367a"/><stop offset=".858" stop-color="#962c80"/><stop offset=".909" stop-color="#752181"/><stop offset=".941" stop-color="#641a80"/><stop offset=".972" stop-color="#52137c"/><stop offset="1" stop-color="#420f75"/></linearGradient>
<linearGradient id="s122" gradientUnits="userSpaceOnUse" x1="0" y1="15" x2="0" y2="971"><stop offset="0" stop-color="#3d0f71"/><stop offset=".025" stop-color="#4a1079"/><stop offset=".061" stop-color="#5d177f"/><stop offset=".146" stop-color="#902a81"/><stop offset=".195" stop-color="#b0357b"/><stop offset=".219" stop-color="#c23b75"/><stop offset=".243" stop-color="#d0416f"/><stop offset=".263" stop-color="#de4968"/><stop offset=".289" stop-color="#ea5661"/><stop offset=".334" stop-color="#f66e5c"/><stop offset=".354" stop-color="#f97b5d"/><stop offset=".388" stop-color="#fc8c63"/><stop offset=".431" stop-color="#fd9b6b"/><stop offset=".471" stop-color="#fea36f"/><stop offset=".535" stop-color="#fea36f"/><stop offset=".588" stop-color="#fd9869"/><stop offset=".634" stop-color="#fb8560"/><stop offset=".656" stop-color="#f9785d"/><stop offset=".704" stop-color="#ef5d5e"/><stop offset=".741" stop-color="#df4a68"/><stop offset=".758" stop-color="#d3436e"/><stop offset=".775" stop-color="#ca3e72"/><stop offset=".806" stop-color="#b3367a"/><stop offset=".849" stop-color="#962c80"/><stop offset=".939" stop-color="#601880"/><stop offset="1" stop-color="#400f74"/></linearGradient>
<linearGradient id="s123" gradientUnits="userSpaceOnUse" x1="0" y1="22" x2="0" y2="970"><stop offset="0" stop-color="#3d0f71"/><stop offset=".018" stop-color="#471078"/><stop offset=".056" stop-color="#5a167e"/><stop offset=".148" stop-color="#8e2a81"/><stop offset=".198" stop-color="#ae347b"/><stop offset=".224" stop-color="#c03a76"/><stop offset=".242" stop-color="#ca3e72"/><stop offset=".293" stop-color="#e75263"/><stop offset=".305" stop-color="#ea5661"/><stop offset=".344" stop-color="#f56b5c"/><stop offset=".41" stop-color="#fb8761"/><stop offset=".449" stop-color="#fc9065"/><stop offset=".488" stop-color="#fd9467"/><stop offset=".537" stop-color="#fd9266"/><stop offset=".595" stop-color="#fb8560"/><stop offset=".655" stop-color="#f56b5c"/><stop offset=".7" stop-color="#e95462"/><stop offset=".739" stop-color="#d6456c"/><stop offset=".761" stop-color="#c83e73"/><stop offset=".773" stop-color="#c23b75"/><stop offset=".804" stop-color="#ad347c"/><stop offset=".849" stop-color="#902a81"/><stop offset=".899" stop-color="#721f81"/><stop offset=".941" stop-color="#5c167f"/><stop offset=".975" stop-color="#4a1079"/><stop offset="1" stop-color="#3d0f71"/></linearGradient>
<linearGradient id="s124" gradientUnits="userSpaceOnUse" x1="0" y1="30" x2="0" y2="962"><stop offset="0" stop-color="#3d0f71"/><stop offset=".018" stop-color="#471078"/><stop offset=".055" stop-color="#59157e"/><stop offset=".146" stop-color="#892881"/><stop offset=".219" stop-color="#b5367a"/><stop offset=".264" stop-color="#d0416f"/><stop offset=".304" stop-color="#e34e65"/><stop offset=".342" stop-color="#ef5d5e"/><stop offset=".377" stop-color="#f56b5c"/><stop offset=".425" stop-color="#f9795d"/><stop offset=".474" stop-color="#fa815f"/><stop offset=".525" stop-color="#fa815f"/><stop offset=".575" stop-color="#f9795d"/><stop offset=".632" stop-color="#f4675c"/><stop offset=".682" stop-color="#e85362"/><stop offset=".721" stop-color="#d6456c"/><stop offset=".75" stop-color="#c83e73"/><stop offset=".797" stop-color="#ab337c"/><stop offset=".845" stop-color="#8e2a81"/><stop offset=".942" stop-color="#5a167e"/><stop offset=".974" stop-color="#4a1079"/><stop offset="1" stop-color="#3d0f71"/></linearGradient>
<linearGradient id="s125" gradientUnits="userSpaceOnUse" x1="0" y1="39" x2="0" y2="953"><stop offset="0" stop-color="#3d0f71"/><stop offset=".03" stop-color="#4c117a"/><stop offset=".06" stop-color="#5a167e"/><stop offset=".151" stop-color="#882781"/><stop offset=".23" stop-color="#b3367a"/><stop offset=".274" stop-color="#cc3f71"/><stop offset=".312" stop-color="#dc4869"/><stop offset=".352" stop-color="#e95462"/><stop offset=".394" stop-color="#f1605d"/><stop offset=".444" stop-color="#f56b5c"/><stop offset=".486" stop-color="#f66e5c"/><stop offset=".567" stop-color="#f4695c"/><stop offset=".628" stop-color="#ed5a5f"/><stop offset=".681" stop-color="#df4a68"/><stop offset=".745" stop-color="#c23b75"/><stop offset=".784" stop-color="#ab337c"/><stop offset=".846" stop-color="#892881"/><stop offset=".939" stop-color="#5a167e"/><stop offset=".977" stop-color="#491078"/><stop offset="1" stop-color="#3d0f71"/></linearGradient>
<linearGradient id="s126" gradientUnits="userSpaceOnUse" x1="0" y1="50" x2="0" y2="942"><stop offset="0" stop-color="#3f0f72"/><stop offset=".027" stop-color="#4a1079"/><stop offset=".063" stop-color="#5a167e"/><stop offset=".15" stop-color="#832681"/><stop offset=".231" stop-color="#ab337c"/><stop offset=".269" stop-color="#bf3a77"/><stop offset=".324" stop-color="#d5446d"/><stop offset=".38" stop-color="#e44f64"/><stop offset=".417" stop-color="#ea5661"/><stop offset=".479" stop-color="#ee5b5e"/><stop offset=".521" stop-color="#ee5b5e"/><stop offset=".561" stop-color="#ec5860"/><stop offset=".613" stop-color="#e55064"/><stop offset=".652" stop-color="#dc4869"/><stop offset=".688" stop-color="#d0416f"/><stop offset=".738" stop-color="#bc3978"/><stop offset=".769" stop-color="#ab337c"/><stop offset=".855" stop-color="#802582"/><stop offset=".944" stop-color="#57157e"/><stop offset=".976" stop-color="#491078"/><stop offset="1" stop-color="#3d0f71"/></linearGradient>
<linearGradient id="s127" gradientUnits="userSpaceOnUse" x1="0" y1="62" x2="0" y2="929"><stop offset="0" stop-color="#3f0f72"/><stop offset=".052" stop-color="#54137d"/><stop offset=".142" stop-color="#7b2382"/><stop offset=".265" stop-color="#b2357b"/><stop offset=".328" stop-color="#c83e73"/><stop offset=".405" stop-color="#db476a"/><stop offset=".491" stop-color="#e24d66"/><stop offset=".596" stop-color="#db476a"/><stop offset=".678" stop-color="#c73d73"/><stop offset=".739" stop-color="#b0357b"/><stop offset=".759" stop-color="#a6317d"/><stop offset=".858" stop-color="#7b2382"/><stop offset=".941" stop-color="#57157e"/><stop offset="1" stop-color="#3f0f72"/></linearGradient>
<linearGradient id="s128" gradientUnits="userSpaceOnUse" x1="0" y1="76" x2="0" y2="915"><stop offset="0" stop-color="#3f0f72"/><stop offset=".051" stop-color="#52137c"/><stop offset=".119" stop-color="#6d1d81"/><stop offset=".218" stop-color="#932b80"/><stop offset=".305" stop-color="#b3367a"/><stop offset=".383" stop-color="#c73d73"/><stop offset=".462" stop-color="#d0416f"/><stop offset=".56" stop-color="#cf4070"/><stop offset=".609" stop-color="#c83e73"/><stop offset=".667" stop-color="#bc3978"/><stop offset=".744" stop-color="#a3307e"/><stop offset=".865" stop-color="#732081"/><stop offset=".945" stop-color="#54137d"/><stop offset="1" stop-color="#3f0f72"/></linearGradient>
<linearGradient id="s129" gradientUnits="userSpaceOnUse" x1="0" y1="93" x2="0" y2="899"><stop offset="0" stop-color="#3f0f72"/><stop offset=".041" stop-color="#4e117b"/><stop offset=".113" stop-color="#671b80"/><stop offset=".197" stop-color="#832681"/><stop offset=".301" stop-color="#a5317e"/><stop offset=".386" stop-color="#b73779"/><stop offset=".476" stop-color="#bf3a77"/><stop offset=".576" stop-color="#bc3978"/><stop offset=".679" stop-color="#aa337d"/><stop offset=".788" stop-color="#892881"/><stop offset=".882" stop-color="#681c81"/><stop offset=".954" stop-color="#4f127b"/><stop offset="1" stop-color="#3f0f72"/></linearGradient>
<linearGradient id="s130" gradientUnits="userSpaceOnUse" x1="0" y1="112" x2="0" y2="880"><stop offset="0" stop-color="#3f0f72"/><stop offset=".039" stop-color="#4c117a"/><stop offset=".105" stop-color="#601880"/><stop offset=".204" stop-color="#7e2482"/><stop offset=".29" stop-color="#942c80"/><stop offset=".367" stop-color="#a3307e"/><stop offset=".447" stop-color="#ab337c"/><stop offset=".553" stop-color="#ab337c"/><stop offset=".621" stop-color="#a5317e"/><stop offset=".671" stop-color="#9c2e7f"/><stop offset=".742" stop-color="#8c2981"/><stop offset=".884" stop-color="#641a80"/><stop offset=".954" stop-color="#4e117b"/><stop offset="1" stop-color="#3f0f72"/></linearGradient>
<linearGradient id="s131" gradientUnits="userSpaceOnUse" x1="0" y1="133" x2="0" y2="858"><stop offset="0" stop-color="#3f0f72"/><stop offset=".044" stop-color="#4c117a"/><stop offset=".103" stop-color="#5c167f"/><stop offset=".268" stop-color="#832681"/><stop offset=".367" stop-color="#932b80"/><stop offset=".444" stop-color="#992d80"/><stop offset=".557" stop-color="#992d80"/><stop offset=".67" stop-color="#8e2a81"/><stop offset=".778" stop-color="#792282"/><stop offset=".886" stop-color="#5f187f"/><stop offset=".963" stop-color="#4a1079"/><stop offset="1" stop-color="#3f0f72"/></linearGradient>
<linearGradient id="s132" gradientUnits="userSpaceOnUse" x1="0" y1="159" x2="0" y2="833"><stop offset="0" stop-color="#400f74"/><stop offset=".107" stop-color="#59157e"/><stop offset=".261" stop-color="#762181"/><stop offset=".377" stop-color="#842681"/><stop offset=".484" stop-color="#892881"/><stop offset=".601" stop-color="#862781"/><stop offset=".718" stop-color="#792282"/><stop offset=".893" stop-color="#59157e"/><stop offset="1" stop-color="#400f74"/></linearGradient>
<linearGradient id="s133" gradientUnits="userSpaceOnUse" x1="0" y1="189" x2="0" y2="803"><stop offset="0" stop-color="#400f74"/><stop offset=".085" stop-color="#51127c"/><stop offset=".225" stop-color="#671b80"/><stop offset=".342" stop-color="#732081"/><stop offset=".425" stop-color="#782281"/><stop offset=".573" stop-color="#782281"/><stop offset=".708" stop-color="#6e1e81"/><stop offset=".878" stop-color="#57157e"/><stop offset="1" stop-color="#400f74"/></linearGradient>
<linearGradient id="s134" gradientUnits="userSpaceOnUse" x1="0" y1="225" x2="0" y2="766"><stop offset="0" stop-color="#400f74"/><stop offset=".1" stop-color="#4f127b"/><stop offset=".244" stop-color="#5f187f"/><stop offset=".36" stop-color="#671b80"/><stop offset=".482" stop-color="#6a1c81"/><stop offset=".603" stop-color="#681c81"/><stop offset=".719" stop-color="#621980"/><stop offset=".85" stop-color="#56147d"/><stop offset="1" stop-color="#400f74"/></linearGradient>
<linearGradient id="s135" gradientUnits="userSpaceOnUse" x1="0" y1="273" x2="0" y2="719"><stop offset="0" stop-color="#420f75"/><stop offset=".222" stop-color="#54137d"/><stop offset=".377" stop-color="#5a167e"/><stop offset=".675" stop-color="#59157e"/><stop offset=".827" stop-color="#51127c"/><stop offset="1" stop-color="#420f75"/></linearGradient>
<linearGradient id="s136" gradientUnits="userSpaceOnUse" x1="0" y1="294" x2="0" y2="699"><stop offset="0" stop-color="#420f75"/><stop offset=".198" stop-color="#4f127b"/><stop offset=".412" stop-color="#56147d"/><stop offset=".726" stop-color="#52137c"/><stop offset="1" stop-color="#420f75"/></linearGradient>
<linearGradient id="s137" gradientUnits="userSpaceOnUse" x1="0" y1="246" x2="0" y2="747"><stop offset="0" stop-color="#400f74"/><stop offset=".072" stop-color="#4a1079"/><stop offset=".206" stop-color="#57157e"/><stop offset=".335" stop-color="#5f187f"/><stop offset=".457" stop-color="#621980"/><stop offset=".623" stop-color="#601880"/><stop offset=".727" stop-color="#5c167f"/><stop offset=".914" stop-color="#4c117a"/><stop offset="1" stop-color="#400f74"/></linearGradient>
<linearGradient id="s138" gradientUnits="userSpaceOnUse" x1="0" y1="210" x2="0" y2="783"><stop offset="0" stop-color="#400f74"/><stop offset=".11" stop-color="#52137c"/><stop offset=".223" stop-color="#601880"/><stop offset=".332" stop-color="#6a1c81"/><stop offset=".447" stop-color="#6e1e81"/><stop offset=".609" stop-color="#6d1d81"/><stop offset=".729" stop-color="#651a80"/><stop offset=".89" stop-color="#52137c"/><stop offset="1" stop-color="#400f74"/></linearGradient>
<linearGradient id="s139" gradientUnits="userSpaceOnUse" x1="0" y1="181" x2="0" y2="812"><stop offset="0" stop-color="#400f74"/><stop offset=".098" stop-color="#54137d"/><stop offset=".244" stop-color="#6b1d81"/><stop offset=".328" stop-color="#752181"/><stop offset=".429" stop-color="#7b2382"/><stop offset=".572" stop-color="#7b2382"/><stop offset=".689" stop-color="#732081"/><stop offset=".867" stop-color="#5a167e"/><stop offset="1" stop-color="#400f74"/></linearGradient>
<linearGradient id="s140" gradientUnits="userSpaceOnUse" x1="0" y1="157" x2="0" y2="836"><stop offset="0" stop-color="#400f74"/><stop offset=".112" stop-color="#5a167e"/><stop offset=".258" stop-color="#762181"/><stop offset=".353" stop-color="#832681"/><stop offset=".457" stop-color="#892881"/><stop offset=".585" stop-color="#882781"/><stop offset=".711" stop-color="#7b2382"/><stop offset=".894" stop-color="#59157e"/><stop offset="1" stop-color="#400f74"/></linearGradient>
<linearGradient id="s141" gradientUnits="userSpaceOnUse" x1="0" y1="137" x2="0" y2="856"><stop offset="0" stop-color="#3f0f72"/><stop offset=".019" stop-color="#451077"/><stop offset=".086" stop-color="#57157e"/><stop offset=".243" stop-color="#7c2382"/><stop offset=".334" stop-color="#8c2981"/><stop offset=".434" stop-color="#962c80"/><stop offset=".566" stop-color="#962c80"/><stop offset=".687" stop-color="#892881"/><stop offset=".764" stop-color="#7b2382"/><stop offset=".889" stop-color="#5d177f"/><stop offset=".955" stop-color="#4c117a"/><stop offset="1" stop-color="#3f0f72"/></linearGradient>
<linearGradient id="s142" gradientUnits="userSpaceOnUse" x1="0" y1="120" x2="0" y2="873"><stop offset="0" stop-color="#3f0f72"/><stop offset=".035" stop-color="#4a1079"/><stop offset=".1" stop-color="#5d177f"/><stop offset=".268" stop-color="#8b2981"/><stop offset=".363" stop-color="#9c2e7f"/><stop offset=".452" stop-color="#a5317e"/><stop offset=".576" stop-color="#a3307e"/><stop offset=".685" stop-color="#942c80"/><stop offset=".777" stop-color="#802582"/><stop offset=".883" stop-color="#621980"/><stop offset=".954" stop-color="#4e117b"/><stop offset="1" stop-color="#3f0f72"/></linearGradient>
<linearGradient id="s143" gradientUnits="userSpaceOnUse" x1="0" y1="105" x2="0" y2="887"><stop offset="0" stop-color="#3f0f72"/><stop offset=".043" stop-color="#4e117b"/><stop offset=".111" stop-color="#641a80"/><stop offset=".237" stop-color="#8b2981"/><stop offset=".303" stop-color="#9c2e7f"/><stop offset=".391" stop-color="#ad347c"/><stop offset=".482" stop-color="#b3367a"/><stop offset=".581" stop-color="#b0357b"/><stop offset=".691" stop-color="#9e2f7f"/><stop offset=".77" stop-color="#892881"/><stop offset=".88" stop-color="#671b80"/><stop offset=".948" stop-color="#51127c"/><stop offset="1" stop-color="#3f0f72"/></linearGradient>
<linearGradient id="s144" gradientUnits="userSpaceOnUse" x1="0" y1="93" x2="0" y2="900"><stop offset="0" stop-color="#3f0f72"/><stop offset=".05" stop-color="#51127c"/><stop offset=".12" stop-color="#6a1c81"/><stop offset=".218" stop-color="#8b2981"/><stop offset=".302" stop-color="#a6317d"/><stop offset=".385" stop-color="#b83779"/><stop offset=".471" stop-color="#c03a76"/><stop offset=".529" stop-color="#c03a76"/><stop offset=".576" stop-color="#bd3977"/><stop offset=".633" stop-color="#b5367a"/><stop offset=".678" stop-color="#ab337c"/><stop offset=".736" stop-color="#9b2e7f"/><stop offset=".879" stop-color="#6a1c81"/><stop offset=".954" stop-color="#4f127b"/><stop offset="1" stop-color="#3f0f72"/></linearGradient>
<linearGradient id="s145" gradientUnits="userSpaceOnUse" x1="0" y1="82" x2="0" y2="910"><stop offset="0" stop-color="#3f0f72"/><stop offset=".052" stop-color="#52137c"/><stop offset=".122" stop-color="#6d1d81"/><stop offset=".211" stop-color="#8e2a81"/><stop offset=".31" stop-color="#b2357b"/><stop offset=".395" stop-color="#c53c74"/><stop offset=".431" stop-color="#ca3e72"/><stop offset=".493" stop-color="#cd4071"/><stop offset=".583" stop-color="#c83e73"/><stop offset=".632" stop-color="#c03a76"/><stop offset=".69" stop-color="#b2357b"/><stop offset=".785" stop-color="#902a81"/><stop offset=".878" stop-color="#6d1d81"/><stop offset=".948" stop-color="#52137c"/><stop offset="1" stop-color="#3f0f72"/></linearGradient>
<linearGradient id="s146" gradientUnits="userSpaceOnUse" x1="0" y1="73" x2="0" y2="919"><stop offset="0" stop-color="#3f0f72"/><stop offset=".054" stop-color="#54137d"/><stop offset=".131" stop-color="#732081"/><stop offset=".222" stop-color="#982d80"/><stop offset=".314" stop-color="#bc3978"/><stop offset=".39" stop-color="#cf4070"/><stop offset=".478" stop-color="#d8456c"/><stop offset=".522" stop-color="#d8456c"/><stop offset=".58" stop-color="#d3436e"/><stop offset=".664" stop-color="#c23b75"/><stop offset=".728" stop-color="#ad347c"/><stop offset=".766" stop-color="#9c2e7f"/><stop offset=".857" stop-color="#782281"/><stop offset=".946" stop-color="#54137d"/><stop offset="1" stop-color="#3f0f72"/></linearGradient>
<linearGradient id="s147" gradientUnits="userSpaceOnUse" x1="0" y1="66" x2="0" y2="926"><stop offset="0" stop-color="#3f0f72"/><stop offset=".052" stop-color="#54137d"/><stop offset=".13" stop-color="#752181"/><stop offset=".21" stop-color="#982d80"/><stop offset=".302" stop-color="#bf3a77"/><stop offset=".384" stop-color="#d6456c"/><stop offset=".462" stop-color="#e04c67"/><stop offset=".571" stop-color="#de4968"/><stop offset=".659" stop-color="#cc3f71"/><stop offset=".748" stop-color="#ab337c"/><stop offset=".847" stop-color="#7e2482"/><stop offset=".936" stop-color="#59157e"/><stop offset="1" stop-color="#3f0f72"/></linearGradient>
<linearGradient id="s148" gradientUnits="userSpaceOnUse" x1="0" y1="60" x2="0" y2="932"><stop offset="0" stop-color="#3f0f72"/><stop offset=".058" stop-color="#57157e"/><stop offset=".151" stop-color="#802582"/><stop offset=".237" stop-color="#a8327d"/><stop offset=".279" stop-color="#bc3978"/><stop offset=".329" stop-color="#cf4070"/><stop offset=".377" stop-color="#dc4869"/><stop offset=".424" stop-color="#e44f64"/><stop offset=".471" stop-color="#e85362"/><stop offset=".529" stop-color="#e85362"/><stop offset=".576" stop-color="#e44f64"/><stop offset=".623" stop-color="#dc4869"/><stop offset=".697" stop-color="#c53c74"/><stop offset=".783" stop-color="#9e2f7f"/><stop offset=".867" stop-color="#782281"/><stop offset=".92" stop-color="#5f187f"/><stop offset=".945" stop-color="#56147d"/><stop offset=".979" stop-color="#471078"/><stop offset="1" stop-color="#3d0f71"/></linearGradient>
<linearGradient id="s149" gradientUnits="userSpaceOnUse" x1="0" y1="56" x2="0" y2="936"><stop offset="0" stop-color="#3f0f72"/><stop offset=".057" stop-color="#57157e"/><stop offset=".151" stop-color="#812581"/><stop offset=".23" stop-color="#a8327d"/><stop offset=".268" stop-color="#bc3978"/><stop offset=".323" stop-color="#d2426f"/><stop offset=".403" stop-color="#e75263"/><stop offset=".481" stop-color="#ed5a5f"/><stop offset=".544" stop-color="#ec5860"/><stop offset=".589" stop-color="#e85362"/><stop offset=".634" stop-color="#df4a68"/><stop offset=".673" stop-color="#d3436e"/><stop offset=".717" stop-color="#c23b75"/><stop offset=".767" stop-color="#aa337d"/><stop offset=".845" stop-color="#832681"/><stop offset=".935" stop-color="#5a167e"/><stop offset=".965" stop-color="#4e117b"/><stop offset=".992" stop-color="#400f74"/><stop offset="1" stop-color="#3f0f72"/></linearGradient>
<linearGradient id="s150" gradientUnits="userSpaceOnUse" x1="0" y1="53" x2="0" y2="939"><stop offset="0" stop-color="#3f0f72"/><stop offset=".03" stop-color="#4c117a"/><stop offset=".063" stop-color="#5a167e"/><stop offset=".148" stop-color="#812581"/><stop offset=".218" stop-color="#a5317e"/><stop offset=".313" stop-color="#d2426f"/><stop offset=".388" stop-color="#e85362"/><stop offset=".46" stop-color="#f05f5e"/><stop offset=".554" stop-color="#ef5d5e"/><stop offset=".612" stop-color="#e85362"/><stop offset=".663" stop-color="#db476a"/><stop offset=".725" stop-color="#c23b75"/><stop offset=".772" stop-color="#aa337d"/><stop offset=".842" stop-color="#862781"/><stop offset=".937" stop-color="#5a167e"/><stop offset=".973" stop-color="#4a1079"/><stop offset="1" stop-color="#3f0f72"/></linearGradient>
<linearGradient id="s151" gradientUnits="userSpaceOnUse" x1="0" y1="50" x2="0" y2="941"><stop offset="0" stop-color="#3d0f71"/><stop offset=".056" stop-color="#57157e"/><stop offset=".15" stop-color="#832681"/><stop offset=".235" stop-color="#ae347b"/><stop offset=".238" stop-color="#b2357b"/><stop offset=".314" stop-color="#d5446d"/><stop offset=".361" stop-color="#e44f64"/><stop offset=".394" stop-color="#eb5760"/><stop offset=".469" stop-color="#f2645c"/><stop offset=".532" stop-color="#f2645c"/><stop offset=".587" stop-color="#ee5b5e"/><stop offset=".634" stop-color="#e55064"/><stop offset=".675" stop-color="#d9466b"/><stop offset=".719" stop-color="#c73d73"/><stop offset=".763" stop-color="#b0357b"/><stop offset=".844" stop-color="#862781"/><stop offset=".934" stop-color="#5c167f"/><stop offset="1" stop-color="#3f0f72"/></linearGradient>
<linearGradient id="s152" gradientUnits="userSpaceOnUse" x1="0" y1="49" x2="0" y2="942"><stop offset="0" stop-color="#3d0f71"/><stop offset=".024" stop-color="#491078"/><stop offset=".059" stop-color="#59157e"/><stop offset=".152" stop-color="#842681"/><stop offset=".226" stop-color="#ab337c"/><stop offset=".252" stop-color="#ba3878"/><stop offset=".315" stop-color="#d6456c"/><stop offset=".357" stop-color="#e44f64"/><stop offset=".393" stop-color="#ec5860"/><stop offset=".437" stop-color="#f2625d"/><stop offset=".482" stop-color="#f4675c"/><stop offset=".52" stop-color="#f4675c"/><stop offset=".581" stop-color="#f05f5e"/><stop offset=".629" stop-color="#e85362"/><stop offset=".674" stop-color="#db476a"/><stop offset=".721" stop-color="#c73d73"/><stop offset=".765" stop-color="#b0357b"/><stop offset=".842" stop-color="#882781"/><stop offset=".934" stop-color="#5c167f"/><stop offset="1" stop-color="#3f0f72"/></linearGradient>
<linearGradient id="s153" gradientUnits="userSpaceOnUse" x1="0" y1="49" x2="0" y2="942"><stop offset="0" stop-color="#3d0f71"/><stop offset=".027" stop-color="#4a1079"/><stop offset=".059" stop-color="#59157e"/><stop offset=".149" stop-color="#832681"/><stop offset=".219" stop-color="#a8327d"/><stop offset=".31" stop-color="#d5446d"/><stop offset=".385" stop-color="#eb5760"/><stop offset=".433" stop-color="#f2625d"/><stop offset=".471" stop-color="#f4675c"/><stop offset=".529" stop-color="#f4675c"/><stop offset=".557" stop-color="#f2645c"/><stop offset=".62" stop-color="#ea5661"/><stop offset=".671" stop-color="#dc4869"/><stop offset=".712" stop-color="#cc3f71"/><stop offset=".772" stop-color="#ad347c"/><stop offset=".845" stop-color="#862781"/><stop offset=".937" stop-color="#5a167e"/><stop offset=".97" stop-color="#4c117a"/><stop offset="1" stop-color="#3f0f72"/></linearGradient>
<linearGradient id="s154" gradientUnits="userSpaceOnUse" x1="0" y1="49" x2="0" y2="942"><stop offset="0" stop-color="#3d0f71"/><stop offset=".056" stop-color="#57157e"/><stop offset=".152" stop-color="#842681"/><stop offset=".233" stop-color="#ae347b"/><stop offset=".25" stop-color="#b83779"/><stop offset=".319" stop-color="#d8456c"/><stop offset=".389" stop-color="#eb5760"/><stop offset=".465" stop-color="#f3655c"/><stop offset=".55" stop-color="#f2645c"/><stop offset=".611" stop-color="#eb5760"/><stop offset=".673" stop-color="#db476a"/><stop offset=".725" stop-color="#c53c74"/><stop offset=".774" stop-color="#ab337c"/><stop offset=".848" stop-color="#842681"/><stop offset=".941" stop-color="#59157e"/><stop offset=".976" stop-color="#491078"/><stop offset="1" stop-color="#3d0f71"/></linearGradient>
<linearGradient id="s155" gradientUnits="userSpaceOnUse" x1="0" y1="51" x2="0" y2="940"><stop offset="0" stop-color="#3f0f72"/><stop offset=".027" stop-color="#4a1079"/><stop offset=".063" stop-color="#5a167e"/><stop offset=".153" stop-color="#842681"/><stop offset=".232" stop-color="#ad347c"/><stop offset=".286" stop-color="#c83e73"/><stop offset=".319" stop-color="#d6456c"/><stop offset=".39" stop-color="#ea5661"/><stop offset=".447" stop-color="#f1605d"/><stop offset=".493" stop-color="#f2645c"/><stop offset=".539" stop-color="#f2625d"/><stop offset=".589" stop-color="#ed5a5f"/><stop offset=".627" stop-color="#e75263"/><stop offset=".673" stop-color="#d9466b"/><stop offset=".708" stop-color="#cc3f71"/><stop offset=".775" stop-color="#aa337d"/><stop offset=".847" stop-color="#842681"/><stop offset=".937" stop-color="#5a167e"/><stop offset=".97" stop-color="#4c117a"/><stop offset="1" stop-color="#3f0f72"/></linearGradient>
<linearGradient id="s156" gradientUnits="userSpaceOnUse" x1="0" y1="53" x2="0" y2="938"><stop offset="0" stop-color="#3d0f71"/><stop offset=".024" stop-color="#491078"/><stop offset=".053" stop-color="#56147d"/><stop offset=".056" stop-color="#56147d"/><stop offset=".153" stop-color="#832681"/><stop offset=".229" stop-color="#aa337d"/><stop offset=".288" stop-color="#c73d73"/><stop offset=".328" stop-color="#d6456c"/><stop offset=".365" stop-color="#e24d66"/><stop offset=".408" stop-color="#ea5661"/><stop offset=".497" stop-color="#f05f5e"/><stop offset=".54" stop-color="#ef5d5e"/><stop offset=".6" stop-color="#e95462"/><stop offset=".677" stop-color="#d5446d"/><stop offset=".727" stop-color="#c03a76"/><stop offset=".774" stop-color="#a8327d"/><stop offset=".851" stop-color="#812581"/><stop offset=".94" stop-color="#59157e"/><stop offset=".958" stop-color="#4f127b"/><stop offset="1" stop-color="#3f0f72"/></linearGradient>
<linearGradient id="s157" gradientUnits="userSpaceOnUse" x1="0" y1="57" x2="0" y2="934"><stop offset="0" stop-color="#3f0f72"/><stop offset=".057" stop-color="#57157e"/><stop offset=".145" stop-color="#7e2482"/><stop offset=".228" stop-color="#a6317d"/><stop offset=".263" stop-color="#b83779"/><stop offset=".314" stop-color="#cd4071"/><stop offset=".39" stop-color="#e34e65"/><stop offset=".461" stop-color="#eb5760"/><stop offset=".556" stop-color="#ea5661"/><stop offset=".61" stop-color="#e34e65"/><stop offset=".65" stop-color="#d9466b"/><stop offset=".733" stop-color="#ba3878"/><stop offset=".782" stop-color="#a1307e"/><stop offset=".838" stop-color="#862781"/><stop offset=".932" stop-color="#5c167f"/><stop offset=".973" stop-color="#4a1079"/><stop offset="1" stop-color="#3f0f72"/></linearGradient>
<linearGradient id="s158" gradientUnits="userSpaceOnUse" x1="0" y1="61" x2="0" y2="930"><stop offset="0" stop-color="#3f0f72"/><stop offset=".052" stop-color="#54137d"/><stop offset=".137" stop-color="#792282"/><stop offset=".222" stop-color="#a02f7f"/><stop offset=".307" stop-color="#c53c74"/><stop offset=".38" stop-color="#db476a"/><stop offset=".46" stop-color="#e55064"/><stop offset=".57" stop-color="#e34e65"/><stop offset=".62" stop-color="#db476a"/><stop offset=".665" stop-color="#cf4070"/><stop offset=".722" stop-color="#ba3878"/><stop offset=".759" stop-color="#a8327d"/><stop offset=".847" stop-color="#802582"/><stop offset=".937" stop-color="#59157e"/><stop offset="1" stop-color="#3f0f72"/></linearGradient>
<linearGradient id="s159" gradientUnits="userSpaceOnUse" x1="0" y1="68" x2="0" y2="923"><stop offset="0" stop-color="#3f0f72"/><stop offset=".056" stop-color="#56147d"/><stop offset=".127" stop-color="#732081"/><stop offset=".206" stop-color="#942c80"/><stop offset=".298" stop-color="#bc3978"/><stop offset=".38" stop-color="#d3436e"/><stop offset=".456" stop-color="#de4968"/><stop offset=".574" stop-color="#db476a"/><stop offset=".668" stop-color="#c73d73"/><stop offset=".719" stop-color="#b5367a"/><stop offset=".76" stop-color="#a3307e"/><stop offset=".855" stop-color="#7b2382"/><stop offset=".91" stop-color="#621980"/><stop offset=".944" stop-color="#56147d"/><stop offset="1" stop-color="#3f0f72"/></linearGradient>
<linearGradient id="s160" gradientUnits="userSpaceOnUse" x1="0" y1="75" x2="0" y2="916"><stop offset="0" stop-color="#3f0f72"/><stop offset=".055" stop-color="#54137d"/><stop offset=".13" stop-color="#721f81"/><stop offset=".218" stop-color="#942c80"/><stop offset=".251" stop-color="#a3307e"/><stop offset=".312" stop-color="#b83779"/><stop offset=".397" stop-color="#cd4071"/><stop offset=".478" stop-color="#d5446d"/><stop offset=".581" stop-color="#d0416f"/><stop offset=".678" stop-color="#bc3978"/><stop offset=".786" stop-color="#932b80"/><stop offset=".867" stop-color="#732081"/><stop offset=".945" stop-color="#54137d"/><stop offset="1" stop-color="#3f0f72"/></linearGradient>
<linearGradient id="s161" gradientUnits="userSpaceOnUse" x1="0" y1="84" x2="0" y2="907"><stop offset="0" stop-color="#3f0f72"/><stop offset=".049" stop-color="#51127c"/><stop offset=".112" stop-color="#681c81"/><stop offset=".207" stop-color="#8b2981"/><stop offset=".292" stop-color="#aa337d"/><stop offset=".385" stop-color="#c03a76"/><stop offset=".453" stop-color="#c83e73"/><stop offset=".566" stop-color="#c73d73"/><stop offset=".661" stop-color="#b73779"/><stop offset=".757" stop-color="#992d80"/><stop offset=".868" stop-color="#701f81"/><stop offset=".947" stop-color="#52137c"/><stop offset="1" stop-color="#3f0f72"/></linearGradient>
<linearGradient id="s162" gradientUnits="userSpaceOnUse" x1="0" y1="95" x2="0" y2="896"><stop offset="0" stop-color="#3f0f72"/><stop offset=".046" stop-color="#4f127b"/><stop offset=".11" stop-color="#651a80"/><stop offset=".205" stop-color="#842681"/><stop offset=".295" stop-color="#a1307e"/><stop offset=".367" stop-color="#b2357b"/><stop offset=".447" stop-color="#bc3978"/><stop offset=".573" stop-color="#ba3878"/><stop offset=".679" stop-color="#a8327d"/><stop offset=".79" stop-color="#862781"/><stop offset=".885" stop-color="#671b80"/><stop offset=".949" stop-color="#51127c"/><stop offset="1" stop-color="#3f0f72"/></linearGradient>
<linearGradient id="s163" gradientUnits="userSpaceOnUse" x1="0" y1="108" x2="0" y2="883"><stop offset="0" stop-color="#3f0f72"/><stop offset=".044" stop-color="#4e117b"/><stop offset=".114" stop-color="#641a80"/><stop offset=".288" stop-color="#962c80"/><stop offset=".37" stop-color="#a6317d"/><stop offset=".452" stop-color="#ae347b"/><stop offset=".573" stop-color="#ad347c"/><stop offset=".667" stop-color="#a02f7f"/><stop offset=".778" stop-color="#842681"/><stop offset=".871" stop-color="#681c81"/><stop offset=".95" stop-color="#4f127b"/><stop offset="1" stop-color="#3f0f72"/></linearGradient>
<linearGradient id="s164" gradientUnits="userSpaceOnUse" x1="0" y1="123" x2="0" y2="867"><stop offset="0" stop-color="#3f0f72"/><stop offset=".042" stop-color="#4c117a"/><stop offset=".103" stop-color="#5d177f"/><stop offset=".2" stop-color="#782281"/><stop offset=".289" stop-color="#8c2981"/><stop offset=".379" stop-color="#9b2e7f"/><stop offset=".476" stop-color="#a1307e"/><stop offset=".589" stop-color="#9e2f7f"/><stop offset=".695" stop-color="#902a81"/><stop offset=".788" stop-color="#7b2382"/><stop offset=".903" stop-color="#5c167f"/><stop offset=".976" stop-color="#471078"/><stop offset="1" stop-color="#3f0f72"/></linearGradient>
<linearGradient id="s165" gradientUnits="userSpaceOnUse" x1="0" y1="141" x2="0" y2="849"><stop offset="0" stop-color="#3f0f72"/><stop offset=".032" stop-color="#491078"/><stop offset=".083" stop-color="#56147d"/><stop offset=".24" stop-color="#792282"/><stop offset=".362" stop-color="#8c2981"/><stop offset=".451" stop-color="#932b80"/><stop offset=".582" stop-color="#912b81"/><stop offset=".698" stop-color="#842681"/><stop offset=".775" stop-color="#762181"/><stop offset=".898" stop-color="#5a167e"/><stop offset=".968" stop-color="#491078"/><stop offset="1" stop-color="#3f0f72"/></linearGradient>
<linearGradient id="s166" gradientUnits="userSpaceOnUse" x1="0" y1="162" x2="0" y2="828"><stop offset="0" stop-color="#400f74"/><stop offset=".104" stop-color="#57157e"/><stop offset=".245" stop-color="#721f81"/><stop offset=".341" stop-color="#7e2482"/><stop offset=".431" stop-color="#842681"/><stop offset=".569" stop-color="#842681"/><stop offset=".688" stop-color="#7b2382"/><stop offset=".775" stop-color="#6e1e81"/><stop offset=".89" stop-color="#59157e"/><stop offset="1" stop-color="#400f74"/></linearGradient>
<linearGradient id="s167" gradientUnits="userSpaceOnUse" x1="0" y1="187" x2="0" y2="803"><stop offset="0" stop-color="#400f74"/><stop offset=".104" stop-color="#54137d"/><stop offset=".227" stop-color="#671b80"/><stop offset=".349" stop-color="#732081"/><stop offset=".455" stop-color="#782281"/><stop offset=".596" stop-color="#762181"/><stop offset=".705" stop-color="#6e1e81"/><stop offset=".886" stop-color="#56147d"/><stop offset="1" stop-color="#400f74"/></linearGradient>
<linearGradient id="s168" gradientUnits="userSpaceOnUse" x1="0" y1="218" x2="0" y2="772"><stop offset="0" stop-color="#400f74"/><stop offset=".106" stop-color="#51127c"/><stop offset=".215" stop-color="#5d177f"/><stop offset=".404" stop-color="#6a1c81"/><stop offset=".596" stop-color="#6a1c81"/><stop offset=".691" stop-color="#651a80"/><stop offset=".856" stop-color="#56147d"/><stop offset="1" stop-color="#400f74"/></linearGradient>
<linearGradient id="s169" gradientUnits="userSpaceOnUse" x1="0" y1="257" x2="0" y2="733"><stop offset="0" stop-color="#420f75"/><stop offset=".191" stop-color="#54137d"/><stop offset=".384" stop-color="#5d177f"/><stop offset=".613" stop-color="#5d177f"/><stop offset=".702" stop-color="#5a167e"/><stop offset=".849" stop-color="#51127c"/><stop offset="1" stop-color="#420f75"/></linearGradient>
<linearGradient id="s170" gradientUnits="userSpaceOnUse" x1="0" y1="310" x2="0" y2="679"><stop offset="0" stop-color="#420f75"/><stop offset=".211" stop-color="#4e117b"/><stop offset=".436" stop-color="#52137c"/><stop offset=".743" stop-color="#4f127b"/><stop offset="1" stop-color="#420f75"/></linearGradient>
<linearGradient id="cbar" x1="0" y1="1" x2="0" y2="0">
<stop offset="0.0000" stop-color="#000004"/>
<stop offset="0.0208" stop-color="#02020b"/>
<stop offset="0.0417" stop-color="#050416"/>
<stop offset="0.0625" stop-color="#0a0822"/>
<stop offset="0.0833" stop-color="#100b2d"/>
<stop offset="0.1042" stop-color="#150e38"/>
<stop offset="0.1250" stop-color="#1d1147"/>
<stop offset="0.1458" stop-color="#241253"/>
<stop offset="0.1667" stop-color="#2c115f"/>
<stop offset="0.1875" stop-color="#36106b"/>
<stop offset="0.2083" stop-color="#3f0f72"/>
<stop offset="0.2292" stop-color="#471078"/>
<stop offset="0.2500" stop-color="#51127c"/>
<stop offset="0.2708" stop-color="#59157e"/>
<stop offset="0.2917" stop-color="#601880"/>
<stop offset="0.3125" stop-color="#6a1c81"/>
<stop offset="0.3333" stop-color="#721f81"/>
<stop offset="0.3542" stop-color="#792282"/>
<stop offset="0.3750" stop-color="#832681"/>
<stop offset="0.3958" stop-color="#8b2981"/>
<stop offset="0.4167" stop-color="#932b80"/>
<stop offset="0.4375" stop-color="#9c2e7f"/>
<stop offset="0.4583" stop-color="#a5317e"/>
<stop offset="0.4792" stop-color="#ad347c"/>
<stop offset="0.5000" stop-color="#b73779"/>
<stop offset="0.5208" stop-color="#bf3a77"/>
<stop offset="0.5417" stop-color="#c73d73"/>
<stop offset="0.5625" stop-color="#d0416f"/>
<stop offset="0.5833" stop-color="#d8456c"/>
<stop offset="0.6042" stop-color="#df4a68"/>
<stop offset="0.6250" stop-color="#e75263"/>
<stop offset="0.6458" stop-color="#ec5860"/>
<stop offset="0.6667" stop-color="#f1605d"/>
<stop offset="0.6875" stop-color="#f56b5c"/>
<stop offset="0.7083" stop-color="#f8745c"/>
<stop offset="0.7292" stop-color="#fa7d5e"/>
<stop offset="0.7500" stop-color="#fc8961"/>
<stop offset="0.7708" stop-color="#fd9266"/>
<stop offset="0.7917" stop-color="#fd9b6b"/>
<stop offset="0.8125" stop-color="#fea772"/>
<stop offset="0.8333" stop-color="#feb078"/>
<stop offset="0.8542" stop-color="#feb97f"/>
<stop offset="0.8750" stop-color="#fec488"/>
<stop offset="0.8958" stop-color="#fecd90"/>
<stop offset="0.9167" stop-color="#fed799"/>
<stop offset="0.9375" stop-color="#fde2a3"/>
<stop offset="0.9583" stop-color="#fdebac"/>
<stop offset="0.9792" stop-color="#fcf4b6"/>
<stop offset="1.0000" stop-color="#fcfdbf"/>
</linearGradient>
<path id="cp" d="M273.9 500L274 493.3L274.5 486.6L276 475.3L277.5 468L279.4 461L281 456.3L283 451.4L287 443.8L289 440.8L292 437.1L294 435.1L297 432.7L300 431.1L303 430L304 428.7L307 420.8L311 408.7L313 403.7L316 398.2L322 389.2L331 374.2L337 365.8L344 357L351 349.2L358 342.1L364 336.6L369 332.4L382 322.7L391 316.4L396 311.9L397 305.3L399 284.4L402 257.7L405 235.1L408 215.2L412 192.1L416 171.9L420 154.1L425 134.4L430 117.1L435 101.9L441 85.9L447 72.1L453 60.1L459 49.9L465 41.2L472 32.7L477 27.8L483 22.9L488 19.6L494 16.7L500 14.7L506 13.6L512 13.2L519 13.4L525 14.4L530 15.8L536 18.4L541 21.3L546 25L551 29.4L556 34.7L561 40.8L566 47.9L571 56L576 65.2L580 73.4L584 82.5L588 92.4L592 103.4L596 115.5L603 139.7L607 155.7L610 168.9L615 193.6L618 210.5L621 229.4L622 233.4L626 207.8L631 180.4L636 156.7L642 132.1L648 110.8L654 92.3L661 73.6L668 57.5L675 43.8L679 36.9L683 30.6L687 24.9L691 19.8L695 15.3L699 11.3L703 7.7L707 4.7L711 2.1L716 -0.5L720 -2.2L725 -3.6L730 -4.5L735 -4.8L740 -4.6L745 -4L750 -2.8L754 -1.4L759 1L763 3.4L767 6.2L771 9.5L776 14.3L780 18.7L784 23.6L788 29.1L792 35.2L796 41.9L803 55.3L810 70.8L817 89L824 110.1L830 131L836 155.1L841 178.1L846 204.8L851 236.1L857 200.8L863 171L869 145.8L876 120.9L880 108.4L884 97.1L888 86.7L892 77.3L896 68.6L901 59L905 52L910 44.3L915 37.5L920 31.6L925 26.6L930 22.4L935 19L940 16.3L945 14.3L951 12.7L957 12L964 12.1L970 13L975 14.4L981 16.9L986 19.8L991 23.4L996 27.9L1003 35.4L1010 44.7L1017 55.9L1024 69.3L1031 85L1037 100.7L1043 118.6L1048 135.7L1053 155L1058 176.9L1063 202.3L1067 225.9L1071 253.2L1074 277.2L1077 305.7L1079 328.3L1083 289.8L1087 259.5L1092 228.7L1095 213L1098 198.7L1101 185.8L1105 170.3L1108 159.8L1112 147.1L1116 135.7L1120 125.4L1124 116.2L1129 106L1133 98.8L1138 91L1143 84.2L1148 78.5L1153 73.8L1158 70L1163 67L1168 64.9L1173 63.4L1179 62.6L1186 62.6L1192 63.5L1198 65.3L1203 67.7L1208 70.9L1213 74.9L1218 79.9L1222 84.6L1226 90L1230 96.1L1234 102.9L1238 110.6L1242 119.2L1246 128.8L1250 139.4L1253 148.2L1257 161.1L1260 171.8L1266 196.2L1271 220.4L1276 249.4L1280 277.7L1284 313.2L1287 348L1289 379.3L1290 400L1291 428.7L1291.6 459.7L1291.8 493.2L1291.6 528.9L1291 560.2L1290 589.1L1289 609.9L1287 641.3L1284 676.3L1280 711.9L1276 740.3L1271 769.5L1266 793.8L1260 818.4L1257 829.1L1253 842.1L1250 850.9L1246 861.7L1242 871.3L1238 880L1234 887.8L1230 894.7L1226 900.8L1222 906.3L1218 911L1213 916.1L1208 920.2L1203 923.5L1198 925.9L1192 927.8L1186 928.7L1179 928.8L1173 928.1L1168 926.7L1163 924.6L1158 921.8L1153 918L1148 913.4L1143 907.8L1138 901.1L1133 893.3L1129 886.2L1124 876.1L1120 866.9L1116 856.8L1112 845.4L1108 832.8L1105 822.4L1101 806.9L1098 794.1L1095 779.9L1092 764.3L1087 733.6L1083 703.5L1079 664.8L1076 696.2L1073 722.9L1070 745.8L1066 772L1062 794.7L1058 814.7L1053 836.7L1048 856L1043 873L1037 890.9L1031 906.6L1024 922.3L1017 935.6L1010 946.8L1003 956.1L996 963.6L991 968L986 971.7L981 974.5L975 977.1L970 978.5L964 979.3L957 979.4L951 978.7L945 977.1L940 975.1L935 972.4L930 969L925 964.7L920 959.7L915 953.8L911 948.5L906 940.9L902 934.1L898 926.7L894 918.4L890 909.4L886 899.5L882 888.6L878 876.7L871 853L865 829.1L861 810.9L858 795.7L855 779.1L852 760.7L851 760.6L847 785.8L842 813L837 836.4L831 860.8L825 881.8L819 900.2L812 918.8L805 934.7L798 948.3L794 955.2L790 961.4L786 967L782 972L778 976.5L774 980.5L770 984L766 987L762 989.6L757 992.1L753 993.7L748 995.1L743 995.9L738 996.2L733 996L728 995.4L723 994.1L719 992.6L714 990.2L710 987.8L706 984.9L702 981.6L697 976.8L693 972.3L689 967.3L685 961.7L681 955.6L677 948.8L670 935.4L663 919.7L656 901.4L649 880.1L643 859L637 834.7L632 811.4L627 784.5L623 759.5L622 760.5L619 779.9L616 797.1L610 826.9L604 851.8L597 876.3L593 888.4L589 899.4L585 909.4L581 918.5L577 926.7L572 935.9L568 942.5L563 949.7L558 956L553 961.4L548 965.9L543 969.7L538 972.7L532 975.4L527 976.9L521 977.9L515 978.3L508 977.9L502 976.9L496 975L490 972.1L485 969L479 964.2L474 959.4L467 951.2L461 942.6L455 932.6L449 921L443 907.5L437 892L432 877.2L427 860.5L422 841.5L418 824.4L414 805.1L411 789L408 771.1L405 751.1L401 719.6L398 691L397 688.2L392 684.2L382 676.7L377 672.6L368 664.7L358 655.3L350 647L341 636.9L335 629.3L330 622.1L323 610.7L317 599.9L308 581.6L306 577.1L304 571.6L303 570L300 568.9L297 567.3L294 564.9L292 562.9L289 559.2L287 556.2L283 548.6L281 543.7L279.4 539L277.5 532L276 524.7L274.5 513.4L274 506.7Z"/>
<path id="cph" d="M234.8 500L234.9 493.3L235.3 486.6L236.6 475.3L237.9 468L239.5 461L240.9 456.3L242.6 451.4L246 443.8L247.7 440.8L250.3 437.1L252 435.1L254.6 432.7L257.1 431.1L259.7 430L260.6 428.7L263.1 420.8L266.6 408.7L268.3 403.7L270.9 398.2L276 389.2L283.7 374.2L288.9 365.8L294.9 357L300.9 349.2L306.9 342.1L312 336.6L316.3 332.4L327.4 322.7L335.1 316.4L339.4 311.9L340.3 305.3L342 284.4L344.6 257.7L347.1 235.1L349.7 215.2L353.1 192.1L356.6 171.9L360 154.1L364.3 134.4L368.6 117.1L372.9 101.9L378 85.9L383.1 72.1L388.3 60.1L393.4 49.9L398.6 41.2L404.6 32.7L408.9 27.8L414 22.9L418.3 19.6L423.4 16.7L428.6 14.7L433.7 13.6L438.9 13.2L444.9 13.4L450 14.4L454.3 15.8L459.4 18.4L463.7 21.3L468 25L472.3 29.4L476.6 34.7L480.9 40.8L485.1 47.9L489.4 56L493.7 65.2L497.1 73.4L500.6 82.5L504 92.4L507.4 103.4L510.9 115.5L516.9 139.7L520.3 155.7L522.9 168.9L527.1 193.6L529.7 210.5L532.3 229.4L533.1 233.4L536.6 207.8L540.9 180.4L545.1 156.7L550.3 132.1L555.4 110.8L560.6 92.3L566.6 73.6L572.6 57.5L578.6 43.8L582 36.9L585.4 30.6L588.9 24.9L592.3 19.8L595.7 15.3L599.1 11.3L602.6 7.7L606 4.7L609.4 2.1L613.7 -0.5L617.1 -2.2L621.4 -3.6L625.7 -4.5L630 -4.8L634.3 -4.6L638.6 -4L642.9 -2.8L646.3 -1.4L650.6 1L654 3.4L657.4 6.2L660.9 9.5L665.1 14.3L668.6 18.7L672 23.6L675.4 29.1L678.9 35.2L682.3 41.9L688.3 55.3L694.3 70.8L700.3 89L706.3 110.1L711.4 131L716.6 155.1L720.9 178.1L725.1 204.8L729.4 236.1L734.6 200.8L739.7 171L744.9 145.8L750.9 120.9L754.3 108.4L757.7 97.1L761.1 86.7L764.6 77.3L768 68.6L772.3 59L775.7 52L780 44.3L784.3 37.5L788.6 31.6L792.9 26.6L797.1 22.4L801.4 19L805.7 16.3L810 14.3L815.1 12.7L820.3 12L826.3 12.1L831.4 13L835.7 14.4L840.9 16.9L845.1 19.8L849.4 23.4L853.7 27.9L859.7 35.4L865.7 44.7L871.7 55.9L877.7 69.3L883.7 85L888.9 100.7L894 118.6L898.3 135.7L902.6 155L906.9 176.9L911.1 202.3L914.6 225.9L918 253.2L920.6 277.2L923.1 305.7L924.9 328.3L928.3 289.8L931.7 259.5L936 228.7L938.6 213L941.1 198.7L943.7 185.8L947.1 170.3L949.7 159.8L953.1 147.1L956.6 135.7L960 125.4L963.4 116.2L967.7 106L971.1 98.8L975.4 91L979.7 84.2L984 78.5L988.3 73.8L992.6 70L996.9 67L1001.1 64.9L1005.4 63.4L1010.6 62.6L1016.6 62.6L1021.7 63.5L1026.9 65.3L1031.1 67.7L1035.4 70.9L1039.7 74.9L1044 79.9L1047.4 84.6L1050.9 90L1054.3 96.1L1057.7 102.9L1061.1 110.6L1064.6 119.2L1068 128.8L1071.4 139.4L1074 148.2L1077.4 161.1L1080 171.8L1085.1 196.2L1089.4 220.4L1093.7 249.4L1097.1 277.7L1100.6 313.2L1103.1 348L1104.9 379.3L1105.7 400L1106.6 428.7L1107.1 459.7L1107.3 493.2L1107.1 528.9L1106.6 560.2L1105.7 589.1L1104.9 609.9L1103.1 641.3L1100.6 676.3L1097.1 711.9L1093.7 740.3L1089.4 769.5L1085.1 793.8L1080 818.4L1077.4 829.1L1074 842.1L1071.4 850.9L1068 861.7L1064.6 871.3L1061.1 880L1057.7 887.8L1054.3 894.7L1050.9 900.8L1047.4 906.3L1044 911L1039.7 916.1L1035.4 920.2L1031.1 923.5L1026.9 925.9L1021.7 927.8L1016.6 928.7L1010.6 928.8L1005.4 928.1L1001.1 926.7L996.9 924.6L992.6 921.8L988.3 918L984 913.4L979.7 907.8L975.4 901.1L971.1 893.3L967.7 886.2L963.4 876.1L960 866.9L956.6 856.8L953.1 845.4L949.7 832.8L947.1 822.4L943.7 806.9L941.1 794.1L938.6 779.9L936 764.3L931.7 733.6L928.3 703.5L924.9 664.8L922.3 696.2L919.7 722.9L917.1 745.8L913.7 772L910.3 794.7L906.9 814.7L902.6 836.7L898.3 856L894 873L888.9 890.9L883.7 906.6L877.7 922.3L871.7 935.6L865.7 946.8L859.7 956.1L853.7 963.6L849.4 968L845.1 971.7L840.9 974.5L835.7 977.1L831.4 978.5L826.3 979.3L820.3 979.4L815.1 978.7L810 977.1L805.7 975.1L801.4 972.4L797.1 969L792.9 964.7L788.6 959.7L784.3 953.8L780.9 948.5L776.6 940.9L773.1 934.1L769.7 926.7L766.3 918.4L762.9 909.4L759.4 899.5L756 888.6L752.6 876.7L746.6 853L741.4 829.1L738 810.9L735.4 795.7L732.9 779.1L730.3 760.7L729.4 760.6L726 785.8L721.7 813L717.4 836.4L712.3 860.8L707.1 881.8L702 900.2L696 918.8L690 934.7L684 948.3L680.6 955.2L677.1 961.4L673.7 967L670.3 972L666.9 976.5L663.4 980.5L660 984L656.6 987L653.1 989.6L648.9 992.1L645.4 993.7L641.1 995.1L636.9 995.9L632.6 996.2L628.3 996L624 995.4L619.7 994.1L616.3 992.6L612 990.2L608.6 987.8L605.1 984.9L601.7 981.6L597.4 976.8L594 972.3L590.6 967.3L587.1 961.7L583.7 955.6L580.3 948.8L574.3 935.4L568.3 919.7L562.3 901.4L556.3 880.1L551.1 859L546 834.7L541.7 811.4L537.4 784.5L534 759.5L533.1 760.5L530.6 779.9L528 797.1L522.9 826.9L517.7 851.8L511.7 876.3L508.3 888.4L504.9 899.4L501.4 909.4L498 918.5L494.6 926.7L490.3 935.9L486.9 942.5L482.6 949.7L478.3 956L474 961.4L469.7 965.9L465.4 969.7L461.1 972.7L456 975.4L451.7 976.9L446.6 977.9L441.4 978.3L435.4 977.9L430.3 976.9L425.1 975L420 972.1L415.7 969L410.6 964.2L406.3 959.4L400.3 951.2L395.1 942.6L390 932.6L384.9 921L379.7 907.5L374.6 892L370.3 877.2L366 860.5L361.7 841.5L358.3 824.4L354.9 805.1L352.3 789L349.7 771.1L347.1 751.1L343.7 719.6L341.1 691L340.3 688.2L336 684.2L327.4 676.7L323.1 672.6L315.4 664.7L306.9 655.3L300 647L292.3 636.9L287.1 629.3L282.9 622.1L276.9 610.7L271.7 599.9L264 581.6L262.3 577.1L260.6 571.6L259.7 570L257.1 568.9L254.6 567.3L252 564.9L250.3 562.9L247.7 559.2L246 556.2L242.6 548.6L240.9 543.7L239.5 539L237.9 532L236.6 524.7L235.3 513.4L234.9 506.7Z"/>
<clipPath id="cc"><use href="#cp"/></clipPath>
<clipPath id="ax"><rect x="167.0" y="12.8" width="1252.2" height="957.1"/></clipPath>
</defs>
<rect width="1600" height="1063" fill="#fff"/>
<g clip-path="url(#ax)">
<g clip-path="url(#cc)"><g filter="url(#sm)">
<rect x="167.0" y="10.8" width="1252.2" height="961.1" fill="#44107a"/>
<rect x="286" y="10.8" width="7.5" height="961.1" fill="url(#s4)"/><rect x="292" y="10.8" width="7.5" height="961.1" fill="url(#s5)"/><rect x="298" y="10.8" width="7.5" height="961.1" fill="url(#s6)"/><rect x="304" y="10.8" width="7.5" height="961.1" fill="url(#s7)"/><rect x="310" y="10.8" width="7.5" height="961.1" fill="url(#s8)"/><rect x="316" y="10.8" width="7.5" height="961.1" fill="url(#s9)"/><rect x="322" y="10.8" width="7.5" height="961.1" fill="url(#s10)"/><rect x="328" y="10.8" width="7.5" height="961.1" fill="url(#s11)"/><rect x="334" y="10.8" width="7.5" height="961.1" fill="url(#s12)"/><rect x="340" y="10.8" width="7.5" height="961.1" fill="url(#s13)"/><rect x="346" y="10.8" width="7.5" height="961.1" fill="url(#s14)"/><rect x="352" y="10.8" width="7.5" height="961.1" fill="url(#s15)"/><rect x="358" y="10.8" width="7.5" height="961.1" fill="url(#s16)"/><rect x="364" y="10.8" width="7.5" height="961.1" fill="url(#s17)"/><rect x="370" y="10.8" width="7.5" height="961.1" fill="url(#s18)"/><rect x="376" y="10.8" width="7.5" height="961.1" fill="url(#s19)"/><rect x="382" y="10.8" width="7.5" height="961.1" fill="url(#s20)"/><rect x="388" y="10.8" width="7.5" height="961.1" fill="url(#s21)"/><rect x="394" y="10.8" width="7.5" height="961.1" fill="url(#s22)"/><rect x="400" y="10.8" width="7.5" height="961.1" fill="url(#s23)"/><rect x="406" y="10.8" width="7.5" height="961.1" fill="url(#s24)"/><rect x="412" y="10.8" width="7.5" height="961.1" fill="url(#s25)"/><rect x="418" y="10.8" width="7.5" height="961.1" fill="url(#s26)"/><rect x="424" y="10.8" width="7.5" height="961.1" fill="url(#s27)"/><rect x="430" y="10.8" width="7.5" height="961.1" fill="url(#s28)"/><rect x="436" y="10.8" width="7.5" height="961.1" fill="url(#s29)"/><rect x="442" y="10.8" width="7.5" height="961.1" fill="url(#s30)"/><rect x="448" y="10.8" width="7.5" height="961.1" fill="url(#s31)"/><rect x="454" y="10.8" width="7.5" height="961.1" fill="url(#s32)"/><rect x="460" y="10.8" width="7.5" height="961.1" fill="url(#s33)"/><rect x="466" y="10.8" width="7.5" height="961.1" fill="url(#s34)"/><rect x="472" y="10.8" width="7.5" height="961.1" fill="url(#s35)"/><rect x="478" y="10.8" width="7.5" height="961.1" fill="url(#s36)"/><rect x="484" y="10.8" width="7.5" height="961.1" fill="url(#s37)"/><rect x="490" y="10.8" width="7.5" height="961.1" fill="url(#s38)"/><rect x="496" y="10.8" width="7.5" height="961.1" fill="url(#s39)"/><rect x="502" y="10.8" width="7.5" height="961.1" fill="url(#s40)"/><rect x="508" y="10.8" width="7.5" height="961.1" fill="url(#s41)"/><rect x="514" y="10.8" width="7.5" height="961.1" fill="url(#s42)"/><rect x="520" y="10.8" width="7.5" height="961.1" fill="url(#s43)"/><rect x="526" y="10.8" width="7.5" height="961.1" fill="url(#s44)"/><rect x="532" y="10.8" width="7.5" height="961.1" fill="url(#s45)"/><rect x="538" y="10.8" width="7.5" height="961.1" fill="url(#s46)"/><rect x="544" y="10.8" width="7.5" height="961.1" fill="url(#s47)"/><rect x="550" y="10.8" width="7.5" height="961.1" fill="url(#s48)"/><rect x="556" y="10.8" width="7.5" height="961.1" fill="url(#s49)"/><rect x="562" y="10.8" width="7.5" height="961.1" fill="url(#s50)"/><rect x="568" y="10.8" width="7.5" height="961.1" fill="url(#s51)"/><rect x="574" y="10.8" width="7.5" height="961.1" fill="url(#s52)"/><rect x="580" y="10.8" width="7.5" height="961.1" fill="url(#s53)"/><rect x="586" y="10.8" width="7.5" height="961.1" fill="url(#s54)"/><rect x="592" y="10.8" width="7.5" height="961.1" fill="url(#s55)"/><rect x="598" y="10.8" width="7.5" height="961.1" fill="url(#s56)"/><rect x="604" y="10.8" width="7.5" height="961.1" fill="url(#s57)"/><rect x="610" y="10.8" width="7.5" height="961.1" fill="url(#s58)"/><rect x="616" y="10.8" width="7.5" height="961.1" fill="url(#s59)"/><rect x="622" y="10.8" width="7.5" height="961.1" fill="url(#s60)"/><rect x="628" y="10.8" width="7.5" height="961.1" fill="url(#s61)"/><rect x="634" y="10.8" width="7.5" height="961.1" fill="url(#s62)"/><rect x="640" y="10.8" width="7.5" height="961.1" fill="url(#s63)"/><rect x="646" y="10.8" width="7.5" height="961.1" fill="url(#s64)"/><rect x="652" y="10.8" width="7.5" height="961.1" fill="url(#s65)"/><rect x="658" y="10.8" width="7.5" height="961.1" fill="url(#s66)"/><rect x="664" y="10.8" width="7.5" height="961.1" fill="url(#s67)"/><rect x="670" y="10.8" width="7.5" height="961.1" fill="url(#s68)"/><rect x="676" y="10.8" width="7.5" height="961.1" fill="url(#s69)"/><rect x="682" y="10.8" width="7.5" height="961.1" fill="url(#s70)"/><rect x="688" y="10.8" width="7.5" height="961.1" fill="url(#s71)"/><rect x="694" y="10.8" width="7.5" height="961.1" fill="url(#s72)"/><rect x="700" y="10.8" width="7.5" height="961.1" fill="url(#s73)"/><rect x="706" y="10.8" width="7.5" height="961.1" fill="url(#s74)"/><rect x="712" y="10.8" width="7.5" height="961.1" fill="url(#s75)"/><rect x="718" y="10.8" width="7.5" height="961.1" fill="url(#s76)"/><rect x="724" y="10.8" width="7.5" height="961.1" fill="url(#s77)"/><rect x="730" y="10.8" width="7.5" height="961.1" fill="url(#s78)"/><rect x="736" y="10.8" width="7.5" height="961.1" fill="url(#s79)"/><rect x="742" y="10.8" width="7.5" height="961.1" fill="url(#s80)"/><rect x="748" y="10.8" width="7.5" height="961.1" fill="url(#s81)"/><rect x="754" y="10.8" width="7.5" height="961.1" fill="url(#s82)"/><rect x="760" y="10.8" width="7.5" height="961.1" fill="url(#s83)"/><rect x="766" y="10.8" width="7.5" height="961.1" fill="url(#s84)"/><rect x="772" y="10.8" width="7.5" height="961.1" fill="url(#s85)"/><rect x="778" y="10.8" width="7.5" height="961.1" fill="url(#s86)"/><rect x="784" y="10.8" width="7.5" height="961.1" fill="url(#s87)"/><rect x="790" y="10.8" width="7.5" height="961.1" fill="url(#s88)"/><rect x="796" y="10.8" width="7.5" height="961.1" fill="url(#s89)"/><rect x="802" y="10.8" width="7.5" height="961.1" fill="url(#s90)"/><rect x="808" y="10.8" width="7.5" height="961.1" fill="url(#s91)"/><rect x="814" y="10.8" width="7.5" height="961.1" fill="url(#s92)"/><rect x="820" y="10.8" width="7.5" height="961.1" fill="url(#s93)"/><rect x="826" y="10.8" width="7.5" height="961.1" fill="url(#s94)"/><rect x="832" y="10.8" width="7.5" height="961.1" fill="url(#s95)"/><rect x="838" y="10.8" width="7.5" height="961.1" fill="url(#s96)"/><rect x="844" y="10.8" width="7.5" height="961.1" fill="url(#s97)"/><rect x="850" y="10.8" width="7.5" height="961.1" fill="url(#s98)"/><rect x="856" y="10.8" width="7.5" height="961.1" fill="url(#s99)"/><rect x="862" y="10.8" width="7.5" height="961.1" fill="url(#s100)"/><rect x="868" y="10.8" width="7.5" height="961.1" fill="url(#s101)"/><rect x="874" y="10.8" width="7.5" height="961.1" fill="url(#s102)"/><rect x="880" y="10.8" width="7.5" height="961.1" fill="url(#s103)"/><rect x="886" y="10.8" width="7.5" height="961.1" fill="url(#s104)"/><rect x="892" y="10.8" width="7.5" height="961.1" fill="url(#s105)"/><rect x="898" y="10.8" width="7.5" height="961.1" fill="url(#s106)"/><rect x="904" y="10.8" width="7.5" height="961.1" fill="url(#s107)"/><rect x="910" y="10.8" width="7.5" height="961.1" fill="url(#s108)"/><rect x="916" y="10.8" width="7.5" height="961.1" fill="url(#s109)"/><rect x="922" y="10.8" width="7.5" height="961.1" fill="url(#s110)"/><rect x="928" y="10.8" width="7.5" height="961.1" fill="url(#s111)"/><rect x="934" y="10.8" width="7.5" height="961.1" fill="url(#s112)"/><rect x="940" y="10.8" width="7.5" height="961.1" fill="url(#s113)"/><rect x="946" y="10.8" width="7.5" height="961.1" fill="url(#s114)"/><rect x="952" y="10.8" width="7.5" height="961.1" fill="url(#s115)"/><rect x="958" y="10.8" width="7.5" height="961.1" fill="url(#s116)"/><rect x="964" y="10.8" width="7.5" height="961.1" fill="url(#s117)"/><rect x="970" y="10.8" width="7.5" height="961.1" fill="url(#s118)"/><rect x="976" y="10.8" width="7.5" height="961.1" fill="url(#s119)"/><rect x="982" y="10.8" width="7.5" height="961.1" fill="url(#s120)"/><rect x="988" y="10.8" width="7.5" height="961.1" fill="url(#s121)"/><rect x="994" y="10.8" width="7.5" height="961.1" fill="url(#s122)"/><rect x="1000" y="10.8" width="7.5" height="961.1" fill="url(#s123)"/><rect x="1006" y="10.8" width="7.5" height="961.1" fill="url(#s124)"/><rect x="1012" y="10.8" width="7.5" height="961.1" fill="url(#s125)"/><rect x="1018" y="10.8" width="7.5" height="961.1" fill="url(#s126)"/><rect x="1024" y="10.8" width="7.5" height="961.1" fill="url(#s127)"/><rect x="1030" y="10.8" width="7.5" height="961.1" fill="url(#s128)"/><rect x="1036" y="10.8" width="7.5" height="961.1" fill="url(#s129)"/><rect x="1042" y="10.8" width="7.5" height="961.1" fill="url(#s130)"/><rect x="1048" y="10.8" width="7.5" height="961.1" fill="url(#s131)"/><rect x="1054" y="10.8" width="7.5" height="961.1" fill="url(#s132)"/><rect x="1060" y="10.8" width="7.5" height="961.1" fill="url(#s133)"/><rect x="1066" y="10.8" width="7.5" height="961.1" fill="url(#s134)"/><rect x="1072" y="10.8" width="7.5" height="961.1" fill="url(#s135)"/><rect x="1078" y="10.8" width="7.5" height="961.1" fill="url(#s136)"/><rect x="1084" y="10.8" width="7.5" height="961.1" fill="url(#s137)"/><rect x="1090" y="10.8" width="7.5" height="961.1" fill="url(#s138)"/><rect x="1096" y="10.8" width="7.5" height="961.1" fill="url(#s139)"/><rect x="1102" y="10.8" width="7.5" height="961.1" fill="url(#s140)"/><rect x="1108" y="10.8" width="7.5" height="961.1" fill="url(#s141)"/><rect x="1114" y="10.8" width="7.5" height="961.1" fill="url(#s142)"/><rect x="1120" y="10.8" width="7.5" height="961.1" fill="url(#s143)"/><rect x="1126" y="10.8" width="7.5" height="961.1" fill="url(#s144)"/><rect x="1132" y="10.8" width="7.5" height="961.1" fill="url(#s145)"/><rect x="1138" y="10.8" width="7.5" height="961.1" fill="url(#s146)"/><rect x="1144" y="10.8" width="7.5" height="961.1" fill="url(#s147)"/><rect x="1150" y="10.8" width="7.5" height="961.1" fill="url(#s148)"/><rect x="1156" y="10.8" width="7.5" height="961.1" fill="url(#s149)"/><rect x="1162" y="10.8" width="7.5" height="961.1" fill="url(#s150)"/><rect x="1168" y="10.8" width="7.5" height="961.1" fill="url(#s151)"/><rect x="1174" y="10.8" width="7.5" height="961.1" fill="url(#s152)"/><rect x="1180" y="10.8" width="7.5" height="961.1" fill="url(#s153)"/><rect x="1186" y="10.8" width="7.5" height="961.1" fill="url(#s154)"/><rect x="1192" y="10.8" width="7.5" height="961.1" fill="url(#s155)"/><rect x="1198" y="10.8" width="7.5" height="961.1" fill="url(#s156)"/><rect x="1204" y="10.8" width="7.5" height="961.1" fill="url(#s157)"/><rect x="1210" y="10.8" width="7.5" height="961.1" fill="url(#s158)"/><rect x="1216" y="10.8" width="7.5" height="961.1" fill="url(#s159)"/><rect x="1222" y="10.8" width="7.5" height="961.1" fill="url(#s160)"/><rect x="1228" y="10.8" width="7.5" height="961.1" fill="url(#s161)"/><rect x="1234" y="10.8" width="7.5" height="961.1" fill="url(#s162)"/><rect x="1240" y="10.8" width="7.5" height="961.1" fill="url(#s163)"/><rect x="1246" y="10.8" width="7.5" height="961.1" fill="url(#s164)"/><rect x="1252" y="10.8" width="7.5" height="961.1" fill="url(#s165)"/><rect x="1258" y="10.8" width="7.5" height="961.1" fill="url(#s166)"/><rect x="1264" y="10.8" width="7.5" height="961.1" fill="url(#s167)"/><rect x="1270" y="10.8" width="7.5" height="961.1" fill="url(#s168)"/><rect x="1276" y="10.8" width="7.5" height="961.1" fill="url(#s169)"/><rect x="1282" y="10.8" width="7.5" height="961.1" fill="url(#s170)"/>
</g></g>
<g transform="scale(1.1667,1)"><use href="#cph" fill="none" stroke="#fff" stroke-width="12.0" stroke-linejoin="round"/></g>
<path d="M769.7 8.4L776 14.3L780 18.7L784 23.6L788 29.1L792 35.2L796 41.9L803 55.3L810 70.8L817 89L824 110.1L830 131L836 155.1" fill="none" stroke="#000" stroke-width="4.4" stroke-dasharray="16.3 7" stroke-dashoffset="6.5" stroke-linejoin="round"/>
<path d="M849.8 228.3L851 236.1L852.3 228.3" fill="none" stroke="#000" stroke-width="4.4" stroke-dasharray="16.3 7" stroke-dashoffset="0" stroke-linejoin="round"/>
<path d="M925 26.6L930 22.4L935 19L940 16.3L945 14.3L951 12.7L957 12L964 12.1L970 13L975 14.4L981 16.9L986 19.8L991 23.4L994.8 26.7" fill="none" stroke="#000" stroke-width="4.4" stroke-dasharray="16.3 7" stroke-dashoffset="6.4" stroke-linejoin="round"/>
<path d="M1067.6 229.8L1071 253.2L1074 277.2L1077 305.7L1079 328.3L1083 289.8L1087 259.5L1092 228.7" fill="none" stroke="#000" stroke-width="4.4" stroke-dasharray="16.3 7" stroke-dashoffset="20.3" stroke-linejoin="round"/>
<path d="M1272.3 228.1L1276 249.4L1280 277.7L1284 313.2L1287 348L1289 379.3L1290 400L1291 428.7L1291.6 459.7L1291.8 493.2L1291.6 528.9L1291 560.2L1290 589.1L1289 609.9L1287 641.3L1284 676.3L1282.2 692.1" fill="none" stroke="#000" stroke-width="4.4" stroke-dasharray="16.3 7" stroke-dashoffset="7" stroke-linejoin="round"/>
<path d="M1278.4 723.3L1276 740.3L1271 769.5L1266 793.8L1260 818.4L1257 829.1L1253 842.1L1250 850.9L1246 861.7L1242 871.3L1238 880L1234 887.8L1230 894.7L1226 900.8L1222 906.3L1218 911L1213 916.1L1208 920.2L1203 923.5L1198 925.9L1192 927.8L1186 928.7L1179 928.8L1173 928.1L1168 926.7L1163 924.6L1158 921.8L1153 918L1148 913.4L1143 907.8L1138 901.1L1133 893.3L1129 886.2L1124 876.1L1120 866.9L1116 856.8L1112 845.4L1108 832.8L1105 822.4L1101 806.9L1098 794.1L1095 779.9L1092 764.3L1086.8 731.8" fill="none" stroke="#000" stroke-width="4.4" stroke-dasharray="16.3 7" stroke-dashoffset="13" stroke-linejoin="round"/>
<path d="M1082.6 699.6L1079 664.8L1075.6 700" fill="none" stroke="#000" stroke-width="4.4" stroke-dasharray="16.3 7" stroke-dashoffset="4.3" stroke-linejoin="round"/>
<path d="M1071.8 732.4L1070 745.8L1066 772L1062 794.7L1058 814.7L1053 836.7L1048 856L1043 873L1037 890.9L1031 906.6L1024 922.3L1017 935.6L1010 946.8L1003 956.1L996 963.6L991 968L986 971.7L982.7 973.6" fill="none" stroke="#000" stroke-width="4.4" stroke-dasharray="16.3 7" stroke-dashoffset="14.3" stroke-linejoin="round"/>
<path d="M938.3 974.2L935 972.4L930 969L925 964.7L920 959.7L915 953.8L911 948.5L906 940.9L902 934.1L898 926.7L894 918.4L890 909.4L886 899.5L882 888.6L878 876.7L871 853L865 829.1L861 810.9L858 795.7L855 779.1L852 760.7L851 760.6L847 785.8L842 813L837 836.4L831 860.8L825 881.8L819 900.2L812 918.8L805 934.7L798 948.3L794 955.2L790 961.4L786 967L780 974.3" fill="none" stroke="#000" stroke-width="4.4" stroke-dasharray="16.3 7" stroke-dashoffset="23.1" stroke-linejoin="round"/>
<path d="M694.3 973.8L689 967.3L685 961.7L681 955.6L677 948.8L670 935.4L663 919.7L656 901.4L649 880.1L643 859L637 834.7L632 811.4L627 784.5L623 759.5L622 760.5L619 779.9L616 797.1L610 826.9L604 851.8L597 876.3L593 888.4L589 899.4L585 909.4L581 918.5L577 926.7L572 935.9L568 942.5L563 949.7L558 956L553 961.4L548 965.9L543 969.7L538 972.7L535 974" fill="none" stroke="#000" stroke-width="4.4" stroke-dasharray="16.3 7" stroke-dashoffset="20.8" stroke-linejoin="round"/>
<path d="M493 973.6L490 972.1L485 969L479 964.2L474 959.4L467 951.2L461 942.6L455 932.6L449 921L443 907.5L437 892L432 877.2L427 860.5L422 841.5L418 824.4L414 805.1L411 789L408 771.1L405 751.1L402.8 733.4" fill="none" stroke="#000" stroke-width="4.4" stroke-dasharray="16.3 7" stroke-dashoffset="21" stroke-linejoin="round"/>
<path d="M399 700.5L398 691L397 688.2L392 684.2L382 676.7L377 672.6L368 664.7L358 655.3L350 647L341 636.9L335 629.3L330 622.1L323 610.7L317 599.9L308 581.6L306 577.1L304 571.6L303 570L300 568.9L297 567.3L294 564.9L292 562.9L289 559.2L287 556.2L283 548.6L281 543.7L279.4 539L277.5 532L276 524.7L274.5 513.4L274 506.7L273.9 500L274 493.3L274.5 486.6L276 475.3L277.5 468L279.4 461L281 456.3L283 451.4L287 443.8L289 440.8L292 437.1L294 435.1L297 432.7L300 431.1L303 430L304 428.7L307 420.8L311 408.7L313 403.7L316 398.2L322 389.2L331 374.2L337 365.8L344 357L351 349.2L358 342.1L364 336.6L369 332.4L382 322.7L391 316.4L396 311.9L397 305.3L399 284.4L402 257.7L405 235.1L408 215.2L412 192.1L416 171.9L420 154.1L425 134.4L430 117.1L435 101.9L441 85.9L447 72.1L453 60.1L459 49.9L465 41.2L472 32.7L477 27.8L483 22.9L488 19.6L494 16.7L500 14.7L506 13.6L512 13.2L519 13.4L525 14.4L530 15.8L536 18.4L541 21.3L546 25L551 29.4L556 34.7L561 40.8L566 47.9L571 56L576 65.2L580 73.4L584 82.5L588 92.4L592 103.4L596 115.5L603 139.7L607 155.7L610 168.9L615 193.6L618 210.5L621 229.4L622 233.4L626 207.8L631 180.4L636 156.7L642 132.1L648 110.8L654 92.3L661 73.6L668 57.5L675 43.8L679 36.9L683 30.6L687 24.9L691 19.8L695 15.3L699 11.3L701.7 8.9" fill="none" stroke="#000" stroke-width="4.4" stroke-dasharray="16.3 7" stroke-dashoffset="13.9" stroke-linejoin="round"/>
<path d="M499.5 501.0H517.0M508.3 492.2V509.8" stroke="#000" stroke-width="4.2" fill="none"/>
<path d="M722.6 501.0H749.2M735.9 487.7V514.3" stroke="#000" stroke-width="4.2" fill="none"/>
<path d="M954.8 501.0H972.3M963.5 492.2V509.8" stroke="#000" stroke-width="4.2" fill="none"/>
<path d="M1182.4 501.0H1199.9M1191.2 492.2V509.8" stroke="#000" stroke-width="4.2" fill="none"/>
<path d="M417.2 717.4L433.2 717.9L449.2 718.3L465.2 718.8L481.2 719.2L497.2 719.6L513.2 719.9L529.2 720.3L545.2 720.6L561.2 720.9L577.2 721.1L593.2 721.4L609.2 721.6L625.2 721.8L641.2 721.9L657.2 722L673.2 722.2L689.2 722.2L705.2 722.3L721.2 722.3L737.2 722.3L753.2 722.3L769.2 722.3L785.2 722.2L801.2 722.1L817.2 722L833.2 721.9L849.2 721.7L865.2 721.5L881.2 721.3L897.2 721L913.2 720.8L929.2 720.5L945.2 720.1L961.2 719.8L977.2 719.4L993.2 719L1009.2 718.6L1025.2 718.2L1041.2 717.7L1057.2 717.2L1073.2 716.7L1089.2 716.1L1105.2 715.6L1121.2 715L1137.2 714.3L1153.2 713.7L1169.2 713L1185.2 712.3L1201.2 711.6L1217.2 710.9L1233.2 710.1L1249.2 709.3L1265.2 708.5L1281.2 707.6L1282 707.6" fill="none" stroke="#fff" stroke-width="35.6" stroke-linecap="square"/>
<path d="M167 706.5L191 707.8L215 709.1L239 710.3L263 711.4L287 712.5L311 713.5L335 714.5L359 715.4L383 716.3L407 717.1L431 717.8L455 718.5L479 719.1L503 719.7L527 720.2L551 720.7L575 721.1L599 721.4L623 721.7L647 722L671 722.1L695 722.3L719 722.3L743 722.3L767 722.3L791 722.2L815 722L839 721.8L863 721.5L887 721.2L911 720.8L935 720.3L959 719.8L983 719.3L1007 718.7L1031 718L1055 717.3L1079 716.5L1103 715.6L1127 714.7L1151 713.8L1175 712.8L1199 711.7L1223 710.6L1247 709.4L1271 708.2L1295 706.9L1319 705.5L1343 704.1L1367 702.6L1391 701.1L1415 699.5L1419.2 699.3" fill="none" stroke="#000" stroke-width="2.2"/>
<path d="M417.2 717.4L443.1 718.2L469 718.9L494.9 719.5L520.7 720.1L546.6 720.6L572.5 721L598.4 721.4" fill="none" stroke="#000" stroke-width="10.3" stroke-linecap="square"/>
<path d="M645.6 721.9L671.7 722.1L697.7 722.3L723.8 722.3L749.8 722.3L775.9 722.2L801.9 722.1L828 721.9" fill="none" stroke="#000" stroke-width="10.3" stroke-linecap="square"/>
<path d="M872.8 721.4L898.8 721L924.7 720.5L950.7 720L976.7 719.4L1002.7 718.8L1028.6 718.1L1054.6 717.3" fill="none" stroke="#000" stroke-width="10.3" stroke-linecap="square"/>
<path d="M1102 715.7L1127.7 714.7L1153.4 713.7L1179.1 712.6L1204.9 711.4L1230.6 710.2L1256.3 708.9L1282 707.6" fill="none" stroke="#000" stroke-width="10.3" stroke-linecap="square"/>
<path d="M175.5 691.6V722.4" stroke="#000" stroke-width="4.3" fill="none"/>
<path d="M295.1 697.5V728.3" stroke="#000" stroke-width="4.3" fill="none"/>
<path d="M414.7 701.9V732.7" stroke="#000" stroke-width="4.3" fill="none"/>
<path d="M534.3 705.0V735.8" stroke="#000" stroke-width="4.3" fill="none"/>
<path d="M653.9 706.6V737.4" stroke="#000" stroke-width="4.3" fill="none"/>
<path d="M893.1 705.7V736.5" stroke="#000" stroke-width="4.3" fill="none"/>
<path d="M1012.7 703.1V733.9" stroke="#000" stroke-width="4.3" fill="none"/>
<path d="M1132.3 699.1V729.9" stroke="#000" stroke-width="4.3" fill="none"/>
<path d="M1251.9 693.8V724.6" stroke="#000" stroke-width="4.3" fill="none"/>
<path d="M1371.5 687.0V717.8" stroke="#000" stroke-width="4.3" fill="none"/>
<path d="M183.2 694.8L209.7 707.3L183.2 719.8Z" fill="#000"/>
<path d="M1387.6 686.2L1414.1 698.7L1387.6 711.2Z" fill="#000"/>
<path d="M773.5 700.1L786.9 722.3L773.5 744.5L760.1 722.3Z" fill="#000"/>
</g>
<rect x="167.0" y="12.8" width="1252.2" height="957.1" fill="none" stroke="#000" stroke-width="1.7"/>
<path d="M166.9 969.9V977.6" stroke="#000" stroke-width="1.7"/>
<text x="166.9" y="1012.3" font-size="35.4" text-anchor="middle">−1.00</text>
<path d="M309.2 969.9V977.6" stroke="#000" stroke-width="1.7"/>
<text x="309.2" y="1012.3" font-size="35.4" text-anchor="middle">−0.75</text>
<path d="M451.4 969.9V977.6" stroke="#000" stroke-width="1.7"/>
<text x="451.4" y="1012.3" font-size="35.4" text-anchor="middle">−0.50</text>
<path d="M593.7 969.9V977.6" stroke="#000" stroke-width="1.7"/>
<text x="593.7" y="1012.3" font-size="35.4" text-anchor="middle">−0.25</text>
<path d="M736.0 969.9V977.6" stroke="#000" stroke-width="1.7"/>
<text x="736.0" y="1012.3" font-size="35.4" text-anchor="middle">0.00</text>
<path d="M878.3 969.9V977.6" stroke="#000" stroke-width="1.7"/>
<text x="878.3" y="1012.3" font-size="35.4" text-anchor="middle">0.25</text>
<path d="M1020.5 969.9V977.6" stroke="#000" stroke-width="1.7"/>
<text x="1020.5" y="1012.3" font-size="35.4" text-anchor="middle">0.50</text>
<path d="M1162.8 969.9V977.6" stroke="#000" stroke-width="1.7"/>
<text x="1162.8" y="1012.3" font-size="35.4" text-anchor="middle">0.75</text>
<path d="M1305.1 969.9V977.6" stroke="#000" stroke-width="1.7"/>
<text x="1305.1" y="1012.3" font-size="35.4" text-anchor="middle">1.00</text>
<path d="M167.0 108.5H159.3" stroke="#000" stroke-width="1.7"/>
<text x="151.7" y="122.1" font-size="35.4" text-anchor="end">−15.9</text>
<path d="M167.0 299.9H159.3" stroke="#000" stroke-width="1.7"/>
<text x="151.7" y="313.5" font-size="35.4" text-anchor="end">−16.0</text>
<path d="M167.0 491.4H159.3" stroke="#000" stroke-width="1.7"/>
<text x="151.7" y="505.0" font-size="35.4" text-anchor="end">−16.1</text>
<path d="M167.0 682.8H159.3" stroke="#000" stroke-width="1.7"/>
<text x="151.7" y="696.4" font-size="35.4" text-anchor="end">−16.2</text>
<path d="M167.0 874.2H159.3" stroke="#000" stroke-width="1.7"/>
<text x="151.7" y="887.8" font-size="35.4" text-anchor="end">−16.3</text>
<text x="793.1" y="1054.7" font-size="35.4" text-anchor="middle">Degrees West of Meridian</text>
<text transform="translate(27,492.5) rotate(-90)" font-size="35.4" text-anchor="middle">Degrees North of Zenith</text>
<rect x="1419.2" y="12.8" width="48.2" height="957.1" fill="url(#cbar)" stroke="#000" stroke-width="1.7"/>
<path d="M1467.5 969.9H1475.2" stroke="#000" stroke-width="1.7"/>
<text x="1483" y="983.1" font-size="35.4">0.00</text>
<path d="M1467.5 810.4H1475.2" stroke="#000" stroke-width="1.7"/>
<text x="1483" y="823.6" font-size="35.4">0.25</text>
<path d="M1467.5 650.9H1475.2" stroke="#000" stroke-width="1.7"/>
<text x="1483" y="664.1" font-size="35.4">0.50</text>
<path d="M1467.5 491.3H1475.2" stroke="#000" stroke-width="1.7"/>
<text x="1483" y="504.5" font-size="35.4">0.75</text>
<path d="M1467.5 331.8H1475.2" stroke="#000" stroke-width="1.7"/>
<text x="1483" y="345.0" font-size="35.4">1.00</text>
<path d="M1467.5 172.3H1475.2" stroke="#000" stroke-width="1.7"/>
<text x="1483" y="185.5" font-size="35.4">1.25</text>
<path d="M1467.5 12.8H1475.2" stroke="#000" stroke-width="1.7"/>
<text x="1483" y="26.0" font-size="35.4">1.50</text>
<text transform="translate(1597,491) rotate(-90)" font-size="35.4" text-anchor="middle">S/N Scale</text>
<path d="M1443.5 314.0L1454.2 331.7L1443.5 349.4L1432.8 331.7Z" fill="#000"/>
<rect x="836" y="26" width="570.45" height="203.9" rx="4.4" ry="4.4" fill="#fff" stroke="#cacaca" stroke-width="2.1"/>
<path d="M864.0 47.2H881.5M872.7 38.5V56.0" stroke="#000" stroke-width="4.2" fill="none"/>
<text x="920.2" y="55.9" font-size="26.4">Beam Centres</text>
<path d="M872.7 64.9L886.1 87.0L872.7 109.1L859.3 87.0Z" fill="#000"/>
<text x="920.2" y="94.3" font-size="26.4">Detection <tspan class="sans">(</tspan><tspan class="it">S</tspan><tspan class="sans">/</tspan><tspan class="it">N</tspan><tspan class="sans" dx="5">∼</tspan><tspan class="sans" dx="5">24</tspan><tspan class="it">σ</tspan><tspan class="sans">)</tspan></text>
<path d="M845 125.85H900.2" stroke="#000" stroke-width="2.1"/><path d="M872.7 112.4V139.2" stroke="#000" stroke-width="4.4"/>
<text x="920.2" y="134.6" font-size="26.4">Transit (1 min. ticks)</text>
<path d="M847 164.4H898.4" stroke="#000" stroke-width="9.6" stroke-linecap="square"/>
<text x="920.2" y="174.3" font-size="26.4">FWHM @ 600 MHz<tspan class="sans" dx="12.9">⟶</tspan><tspan dx="14.2">6 min. exp.</tspan></text>
<path d="M846 204.55H900.4" stroke="#000" stroke-width="3.2" stroke-dasharray="12.7 4.8"/>
<text x="920.2" y="211.9" font-size="26.4" class="sans">24<tspan class="it">σ</tspan><tspan dx="5.6">×</tspan><tspan dx="4.6">scale</tspan><tspan dx="14.1">&gt;</tspan><tspan dx="14">8</tspan><tspan class="it">σ</tspan></text>
</svg></body></html>
